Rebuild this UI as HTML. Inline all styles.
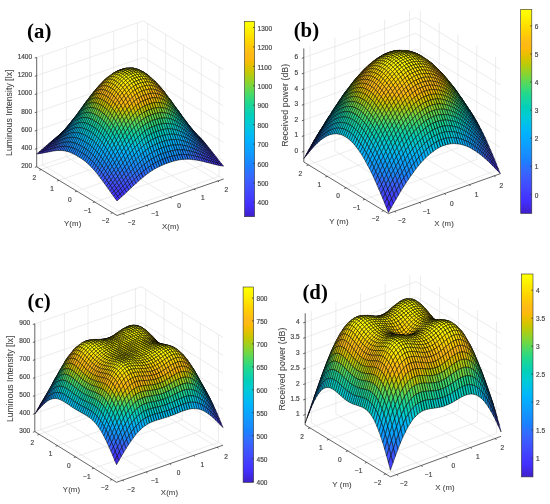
<!DOCTYPE html>
<html><head><meta charset="utf-8"><title>Surface plots</title><style>
html,body{margin:0;padding:0;background:#fff;overflow:hidden}
svg{display:block;filter:blur(0.35px)}
.gr{fill:none;stroke:#dcdcdc;stroke-width:0.55}
.ax{fill:none;stroke:#333;stroke-width:0.75}
.sf{stroke:#000;stroke-width:5.00;stroke-linejoin:round}
.cbx{stroke:#333;stroke-width:.6}
text{font-family:"Liberation Sans",Arial,Helvetica,sans-serif;fill:#444;stroke:#444;stroke-width:0.18}
.t{font-size:6.5px}
.l{font-size:7.8px;letter-spacing:.1px;stroke-width:.08px}
.e{text-anchor:end}
.m{text-anchor:middle}
.tag{font-family:"Liberation Serif","Times New Roman",serif;font-weight:bold;font-size:20.8px;fill:#000;stroke:none}
.k0{fill:#3e20c9}.k1{fill:#4023d7}.k2{fill:#4128e4}.k3{fill:#422cf2}.k4{fill:#4330fe}.k5{fill:#4335ff}.k6{fill:#433bff}.k7{fill:#4241ff}.k8{fill:#4148ff}.k9{fill:#404eff}.k10{fill:#3e54ff}.k11{fill:#3c5aff}.k12{fill:#3961ff}.k13{fill:#3568ff}.k14{fill:#2f6fff}.k15{fill:#2776ff}.k16{fill:#1e7eff}.k17{fill:#1985ff}.k18{fill:#178bff}.k19{fill:#1591ff}.k20{fill:#1297ff}.k21{fill:#0d9eff}.k22{fill:#0aa3ff}.k23{fill:#07a9ff}.k24{fill:#02afff}.k25{fill:#00b4fb}.k26{fill:#00b9f5}.k27{fill:#00beee}.k28{fill:#00c3e7}.k29{fill:#00c7df}.k30{fill:#00cbd6}.k31{fill:#00cdcc}.k32{fill:#00cfc2}.k33{fill:#03d0b8}.k34{fill:#0dd2ad}.k35{fill:#14d4a3}.k36{fill:#1ad797}.k37{fill:#24d88b}.k38{fill:#31d97d}.k39{fill:#41da6f}.k40{fill:#51d960}.k41{fill:#62d850}.k42{fill:#75d741}.k43{fill:#87d432}.k44{fill:#99d123}.k45{fill:#aace16}.k46{fill:#bbca0b}.k47{fill:#cbc701}.k48{fill:#dac300}.k49{fill:#e8bf00}.k50{fill:#f4bc04}.k51{fill:#ffba0e}.k52{fill:#ffb916}.k53{fill:#ffbc14}.k54{fill:#ffc30e}.k55{fill:#ffca07}.k56{fill:#ffd102}.k57{fill:#ffd800}.k58{fill:#ffe000}.k59{fill:#ffe700}.k60{fill:#feef00}.k61{fill:#fef600}.k62{fill:#fffc00}.k63{fill:#ffff00}</style></head>
<body><svg width="550" height="504" viewBox="0 0 550 504"><defs><linearGradient id="pg" x1="0" y1="1" x2="0" y2="0"><stop offset="0.0000" stop-color="#3e20c9"/><stop offset="0.0159" stop-color="#4023d7"/><stop offset="0.0317" stop-color="#4128e4"/><stop offset="0.0476" stop-color="#422cf2"/><stop offset="0.0635" stop-color="#4330fe"/><stop offset="0.0794" stop-color="#4335ff"/><stop offset="0.0952" stop-color="#433bff"/><stop offset="0.1111" stop-color="#4241ff"/><stop offset="0.1270" stop-color="#4148ff"/><stop offset="0.1429" stop-color="#404eff"/><stop offset="0.1587" stop-color="#3e54ff"/><stop offset="0.1746" stop-color="#3c5aff"/><stop offset="0.1905" stop-color="#3961ff"/><stop offset="0.2063" stop-color="#3568ff"/><stop offset="0.2222" stop-color="#2f6fff"/><stop offset="0.2381" stop-color="#2776ff"/><stop offset="0.2540" stop-color="#1e7eff"/><stop offset="0.2698" stop-color="#1985ff"/><stop offset="0.2857" stop-color="#178bff"/><stop offset="0.3016" stop-color="#1591ff"/><stop offset="0.3175" stop-color="#1297ff"/><stop offset="0.3333" stop-color="#0d9eff"/><stop offset="0.3492" stop-color="#0aa3ff"/><stop offset="0.3651" stop-color="#07a9ff"/><stop offset="0.3810" stop-color="#02afff"/><stop offset="0.3968" stop-color="#00b4fb"/><stop offset="0.4127" stop-color="#00b9f5"/><stop offset="0.4286" stop-color="#00beee"/><stop offset="0.4444" stop-color="#00c3e7"/><stop offset="0.4603" stop-color="#00c7df"/><stop offset="0.4762" stop-color="#00cbd6"/><stop offset="0.4921" stop-color="#00cdcc"/><stop offset="0.5079" stop-color="#00cfc2"/><stop offset="0.5238" stop-color="#03d0b8"/><stop offset="0.5397" stop-color="#0dd2ad"/><stop offset="0.5556" stop-color="#14d4a3"/><stop offset="0.5714" stop-color="#1ad797"/><stop offset="0.5873" stop-color="#24d88b"/><stop offset="0.6032" stop-color="#31d97d"/><stop offset="0.6190" stop-color="#41da6f"/><stop offset="0.6349" stop-color="#51d960"/><stop offset="0.6508" stop-color="#62d850"/><stop offset="0.6667" stop-color="#75d741"/><stop offset="0.6825" stop-color="#87d432"/><stop offset="0.6984" stop-color="#99d123"/><stop offset="0.7143" stop-color="#aace16"/><stop offset="0.7302" stop-color="#bbca0b"/><stop offset="0.7460" stop-color="#cbc701"/><stop offset="0.7619" stop-color="#dac300"/><stop offset="0.7778" stop-color="#e8bf00"/><stop offset="0.7937" stop-color="#f4bc04"/><stop offset="0.8095" stop-color="#ffba0e"/><stop offset="0.8254" stop-color="#ffb916"/><stop offset="0.8413" stop-color="#ffbc14"/><stop offset="0.8571" stop-color="#ffc30e"/><stop offset="0.8730" stop-color="#ffca07"/><stop offset="0.8889" stop-color="#ffd102"/><stop offset="0.9048" stop-color="#ffd800"/><stop offset="0.9206" stop-color="#ffe000"/><stop offset="0.9365" stop-color="#ffe700"/><stop offset="0.9524" stop-color="#feef00"/><stop offset="0.9683" stop-color="#fef600"/><stop offset="0.9841" stop-color="#fffc00"/><stop offset="1.0000" stop-color="#ffff00"/></linearGradient></defs><rect width="550" height="504" fill="#fff"/>
<path class="gr" d="M122.9 213.5L42.6 164.8M112.5 212.8L219.1 176.3M42.6 164.8L42.6 55.4M219.1 176.3L219.1 66.9M146.6 205.4L66.3 156.7M94.7 202.0L201.3 165.5M66.3 156.7L66.3 47.3M201.3 165.5L201.3 56.1M170.3 197.2L90.0 148.6M76.8 191.2L183.4 154.7M90.0 148.6L90.0 39.2M183.4 154.7L183.4 45.2M194.0 189.1L113.7 140.4M59.0 180.3L165.6 143.8M113.7 140.4L113.7 31.0M165.6 143.8L165.6 34.4M217.7 181.0L137.4 132.3M41.2 169.5L147.8 133.0M137.4 132.3L137.4 22.9M147.8 133.0L147.8 23.6M36.7 166.8L143.3 130.3M223.6 179.0L143.3 130.3M36.7 148.6L143.3 112.1M223.6 160.8L143.3 112.1M36.7 130.3L143.3 93.8M223.6 142.5L143.3 93.8M36.7 112.1L143.3 75.6M223.6 124.3L143.3 75.6M36.7 93.9L143.3 57.4M223.6 106.1L143.3 57.4M36.7 75.6L143.3 39.1M223.6 87.8L143.3 39.1M36.7 57.4L143.3 20.9M223.6 69.6L143.3 20.9"/>
<path class="ax" d="M117.0 215.5L223.6 179.0M117.0 215.5L36.7 166.8M36.7 166.8L36.7 57.4M122.9 213.5L124.3 214.3M112.5 212.8L110.6 213.4M146.6 205.4L148.0 206.2M94.7 202.0L92.8 202.6M170.3 197.2L171.7 198.1M76.8 191.2L75.0 191.8M194.0 189.1L195.4 190.0M59.0 180.3L57.1 181.0M217.7 181.0L219.1 181.9M41.2 169.5L39.3 170.2M36.7 166.8L34.8 167.4M36.7 148.6L34.8 149.2M36.7 130.3L34.8 131.0M36.7 112.1L34.8 112.7M36.7 93.9L34.8 94.5M36.7 75.6L34.8 76.3M36.7 57.4L34.8 58.0"/>
<g transform="scale(.1)"><g class="sf"><path class="k8" d="M551 1386l23-22-17 14-24 20z"/><path class="k7" d="M527 1407l24-21-18 12-24 20z"/><path class="k6" d="M503 1429l24-22-18 11-24 20z"/><path class="k5" d="M480 1451l23-22-18 9-23 21z"/><path class="k4" d="M456 1473l24-22-18 8-24 20z"/><path class="k3" d="M432 1495l24-22-18 6-24 20z"/><path class="k2" d="M409 1516l23-21-18 4-23 20z"/><path class="k1" d="M385 1537l24-21-18 3-24 19z"/><path class="k9" d="M569 1372l23-23-18 15-23 22z"/><path class="k8" d="M545 1396l24-24-18 14-24 21z"/><path class="k7" d="M521 1419l24-23-18 11-24 22z"/><path class="k6" d="M497 1443l24-24-18 10-23 22z"/><path class="k5" d="M474 1466l23-23-17 8-24 22z"/><path class="k4" d="M450 1490l24-24-18 7-24 22z"/><path class="k3" d="M426 1512l24-22-18 5-23 21z"/><path class="k2" d="M403 1535l23-23-17 4-24 21z"/><path class="k12" d="M610 1333l24-25-18 19-24 22z"/><path class="k11" d="M586 1357l24-24-18 16-23 23z"/><path class="k10" d="M563 1383l23-26-17 15-24 24z"/><path class="k9" d="M539 1408l24-25-18 13-24 23z"/><path class="k8" d="M515 1434l24-26-18 11-24 24z"/><path class="k7" d="M492 1459l23-25-18 9-23 23z"/><path class="k5" d="M468 1484l24-25-18 7-24 24z"/><path class="k4" d="M444 1508l24-24-18 6-24 22z"/><path class="k3" d="M421 1532l23-24-18 4-23 23z"/><path class="k13" d="M604 1342l24-27-18 18-24 24z"/><path class="k12" d="M581 1369l23-27-18 15-23 26z"/><path class="k10" d="M557 1396l24-27-18 14-24 25z"/><path class="k9" d="M533 1423l24-27-18 12-24 26z"/><path class="k8" d="M509 1451l24-28-18 11-23 25z"/><path class="k7" d="M486 1477l23-26-17 8-24 25z"/><path class="k5" d="M462 1503l24-26-18 7-24 24z"/><path class="k4" d="M438 1529l24-26-18 5-23 24z"/><path class="k16" d="M646 1296l23-27-17 20-24 26z"/><path class="k15" d="M622 1325l24-29-18 19-24 27z"/><path class="k14" d="M598 1354l24-29-18 17-23 27z"/><path class="k12" d="M575 1384l23-30-17 15-24 27z"/><path class="k11" d="M551 1413l24-29-18 12-24 27z"/><path class="k9" d="M527 1442l24-29-18 10-24 28z"/><path class="k8" d="M504 1470l23-28-18 9-23 26z"/><path class="k7" d="M480 1498l24-28-18 7-24 26z"/><path class="k5" d="M456 1525l24-27-18 5-24 26z"/><path class="k18" d="M664 1277l23-29-18 21-23 27z"/><path class="k17" d="M640 1308l24-31-18 19-24 29z"/><path class="k15" d="M616 1339l24-31-18 17-24 29z"/><path class="k14" d="M593 1371l23-32-18 15-23 30z"/><path class="k12" d="M569 1402l24-31-18 13-24 29z"/><path class="k11" d="M545 1433l24-31-18 11-24 29z"/><path class="k9" d="M521 1463l24-30-18 9-23 28z"/><path class="k8" d="M498 1493l23-30-17 7-24 28z"/><path class="k6" d="M474 1522l24-29-18 5-24 27z"/><path class="k22" d="M705 1226l24-30-18 23-24 29z"/><path class="k21" d="M681 1258l24-32-18 22-23 29z"/><path class="k19" d="M658 1291l23-33-17 19-24 31z"/><path class="k17" d="M634 1324l24-33-18 17-24 31z"/><path class="k16" d="M610 1357l24-33-18 15-23 32z"/><path class="k14" d="M587 1391l23-34-17 14-24 31z"/><path class="k12" d="M563 1424l24-33-18 11-24 31z"/><path class="k11" d="M539 1456l24-32-18 9-24 30z"/><path class="k9" d="M516 1488l23-32-18 7-23 30z"/><path class="k7" d="M492 1518l24-30-18 5-24 29z"/><path class="k24" d="M723 1205l24-32-18 23-24 30z"/><path class="k23" d="M699 1239l24-34-18 21-24 32z"/><path class="k21" d="M676 1274l23-35-18 19-23 33z"/><path class="k19" d="M652 1309l24-35-18 17-24 33z"/><path class="k17" d="M628 1344l24-35-18 15-24 33z"/><path class="k16" d="M605 1380l23-36-18 13-23 34z"/><path class="k14" d="M581 1415l24-35-18 11-24 33z"/><path class="k12" d="M557 1449l24-34-18 9-24 32z"/><path class="k10" d="M533 1482l24-33-18 7-23 32z"/><path class="k9" d="M510 1515l23-33-17 6-24 30z"/><path class="k27" d="M741 1184l23-34-17 23-24 32z"/><path class="k25" d="M717 1220l24-36-18 21-24 34z"/><path class="k23" d="M693 1257l24-37-18 19-23 35z"/><path class="k21" d="M670 1294l23-37-17 17-24 35z"/><path class="k19" d="M646 1332l24-38-18 15-24 35z"/><path class="k17" d="M622 1369l24-37-18 12-23 36z"/><path class="k15" d="M599 1406l23-37-17 11-24 35z"/><path class="k13" d="M575 1442l24-36-18 9-24 34z"/><path class="k11" d="M551 1477l24-35-18 7-24 33z"/><path class="k10" d="M528 1511l23-34-18 5-23 33z"/><path class="k31" d="M782 1128l24-35-18 24-24 33z"/><path class="k29" d="M759 1164l23-36-18 22-23 34z"/><path class="k27" d="M735 1202l24-38-18 20-24 36z"/><path class="k25" d="M711 1241l24-39-18 18-24 37z"/><path class="k23" d="M688 1280l23-39-18 16-23 37z"/><path class="k21" d="M664 1320l24-40-18 14-24 38z"/><path class="k19" d="M640 1359l24-39-18 12-24 37z"/><path class="k17" d="M617 1398l23-39-18 10-23 37z"/><path class="k15" d="M593 1436l24-38-18 8-24 36z"/><path class="k13" d="M569 1473l24-37-18 6-24 35z"/><path class="k11" d="M545 1509l24-36-18 4-23 34z"/><path class="k37" d="M848 1036l23-32-18 26-23 30z"/><path class="k35" d="M824 1071l24-35-18 24-24 33z"/><path class="k33" d="M800 1107l24-36-18 22-24 35z"/><path class="k31" d="M776 1146l24-39-18 21-23 36z"/><path class="k29" d="M753 1185l23-39-17 18-24 38z"/><path class="k27" d="M729 1226l24-41-18 17-24 39z"/><path class="k25" d="M705 1267l24-41-18 15-23 39z"/><path class="k22" d="M682 1309l23-42-17 13-24 40z"/><path class="k20" d="M658 1350l24-41-18 11-24 39z"/><path class="k18" d="M634 1391l24-41-18 9-23 39z"/><path class="k16" d="M611 1431l23-40-17 7-24 38z"/><path class="k14" d="M587 1469l24-38-18 5-24 37z"/><path class="k12" d="M563 1506l24-37-18 4-24 36z"/><path class="k39" d="M865 1014l24-33-18 23-23 32z"/><path class="k37" d="M842 1050l23-36-17 22-24 35z"/><path class="k35" d="M818 1089l24-39-18 21-24 36z"/><path class="k33" d="M794 1129l24-40-18 18-24 39z"/><path class="k31" d="M771 1170l23-41-18 17-23 39z"/><path class="k29" d="M747 1213l24-43-18 15-24 41z"/><path class="k26" d="M723 1256l24-43-18 13-24 41z"/><path class="k24" d="M700 1299l23-43-18 11-23 42z"/><path class="k22" d="M676 1342l24-43-18 10-24 41z"/><path class="k19" d="M652 1384l24-42-18 8-24 41z"/><path class="k17" d="M629 1426l23-42-18 7-23 40z"/><path class="k15" d="M605 1466l24-40-18 5-24 38z"/><path class="k13" d="M581 1505l24-39-18 3-24 37z"/><path class="k43" d="M907 959l24-32-18 23-24 31z"/><path class="k41" d="M883 994l24-35-18 22-24 33z"/><path class="k39" d="M860 1032l23-38-18 20-23 36z"/><path class="k37" d="M836 1072l24-40-18 18-24 39z"/><path class="k35" d="M812 1113l24-41-18 17-24 40z"/><path class="k33" d="M788 1157l24-44-18 16-23 41z"/><path class="k30" d="M765 1201l23-44-17 13-24 43z"/><path class="k28" d="M741 1246l24-45-18 12-24 43z"/><path class="k25" d="M717 1291l24-45-18 10-23 43z"/><path class="k23" d="M694 1335l23-44-17 8-24 43z"/><path class="k20" d="M670 1380l24-45-18 7-24 42z"/><path class="k18" d="M646 1423l24-43-18 4-23 42z"/><path class="k16" d="M623 1464l23-41-17 3-24 40z"/><path class="k13" d="M599 1505l24-41-18 2-24 39z"/><path class="k47" d="M948 907l24-30-18 21-23 29z"/><path class="k45" d="M925 940l23-33-17 20-24 32z"/><path class="k43" d="M901 977l24-37-18 19-24 35z"/><path class="k41" d="M877 1016l24-39-18 17-23 38z"/><path class="k39" d="M854 1057l23-41-17 16-24 40z"/><path class="k37" d="M830 1100l24-43-18 15-24 41z"/><path class="k34" d="M806 1145l24-45-18 13-24 44z"/><path class="k32" d="M783 1191l23-46-18 12-23 44z"/><path class="k29" d="M759 1238l24-47-18 10-24 45z"/><path class="k27" d="M735 1284l24-46-18 8-24 45z"/><path class="k24" d="M712 1330l23-46-18 7-23 44z"/><path class="k22" d="M688 1376l24-46-18 5-24 45z"/><path class="k19" d="M664 1421l24-45-18 4-24 43z"/><path class="k17" d="M641 1464l23-43-18 2-23 41z"/><path class="k14" d="M617 1505l24-41-18 0-24 41z"/><path class="k50" d="M990 859l24-28-18 19-24 27z"/><path class="k49" d="M966 890l24-31-18 18-24 30z"/><path class="k47" d="M943 924l23-34-18 17-23 33z"/><path class="k45" d="M919 962l24-38-18 16-24 37z"/><path class="k43" d="M895 1002l24-40-18 15-24 39z"/><path class="k41" d="M872 1045l23-43-18 14-23 41z"/><path class="k39" d="M848 1090l24-45-18 12-24 43z"/><path class="k36" d="M824 1136l24-46-18 10-24 45z"/><path class="k33" d="M800 1183l24-47-18 9-23 46z"/><path class="k31" d="M777 1231l23-48-17 8-24 47z"/><path class="k28" d="M753 1279l24-48-18 7-24 46z"/><path class="k25" d="M729 1327l24-48-18 5-23 46z"/><path class="k23" d="M706 1374l23-47-17 3-24 46z"/><path class="k20" d="M682 1420l24-46-18 2-24 45z"/><path class="k17" d="M658 1464l24-44-18 1-23 43z"/><path class="k15" d="M635 1507l23-43-17 0-24 41z"/><path class="k55" d="M1055 791l24-21-18 17-24 20z"/><path class="k54" d="M1032 815l23-24-18 16-23 24z"/><path class="k52" d="M1008 844l24-29-18 16-24 28z"/><path class="k51" d="M984 876l24-32-18 15-24 31z"/><path class="k49" d="M960 911l24-35-18 14-23 34z"/><path class="k47" d="M937 950l23-39-17 13-24 38z"/><path class="k45" d="M913 992l24-42-18 12-24 40z"/><path class="k43" d="M889 1036l24-44-18 10-23 43z"/><path class="k40" d="M866 1082l23-46-17 9-24 45z"/><path class="k37" d="M842 1130l24-48-18 8-24 46z"/><path class="k35" d="M818 1178l24-48-18 6-24 47z"/><path class="k32" d="M795 1227l23-49-18 5-23 48z"/><path class="k29" d="M771 1277l24-50-18 4-24 48z"/><path class="k26" d="M747 1326l24-49-18 2-24 48z"/><path class="k23" d="M724 1374l23-48-18 1-23 47z"/><path class="k21" d="M700 1421l24-47-18 0-24 46z"/><path class="k18" d="M676 1466l24-45-18-1-24 44z"/><path class="k16" d="M653 1510l23-44-18-2-23 43z"/><path class="k56" d="M1073 778l24-21-18 13-24 21z"/><path class="k55" d="M1049 804l24-26-18 13-23 24z"/><path class="k54" d="M1026 833l23-29-17 11-24 29z"/><path class="k53" d="M1002 866l24-33-18 11-24 32z"/><path class="k51" d="M978 902l24-36-18 10-24 35z"/><path class="k49" d="M955 942l23-40-18 9-23 39z"/><path class="k46" d="M931 985l24-43-18 8-24 42z"/><path class="k44" d="M907 1030l24-45-18 7-24 44z"/><path class="k41" d="M884 1077l23-47-18 6-23 46z"/><path class="k39" d="M860 1126l24-49-18 5-24 48z"/><path class="k36" d="M836 1175l24-49-18 4-24 48z"/><path class="k33" d="M812 1226l24-51-18 3-23 49z"/><path class="k30" d="M789 1276l23-50-17 1-24 50z"/><path class="k27" d="M765 1326l24-50-18 1-24 49z"/><path class="k24" d="M741 1375l24-49-18 0-23 48z"/><path class="k21" d="M718 1423l23-48-17-1-24 47z"/><path class="k19" d="M694 1469l24-46-18-2-24 45z"/><path class="k16" d="M670 1514l24-45-18-3-23 44z"/><path class="k60" d="M1209 697l24-7-18 10-23 7zM1186 705l23-8-17 10-24 8zM1162 716l24-11-18 10-24 11z"/><path class="k59" d="M1138 730l24-14-18 10-24 14zM1115 748l23-18-18 10-23 17z"/><path class="k58" d="M1091 770l24-22-18 9-24 21z"/><path class="k57" d="M1067 796l24-26-18 8-24 26z"/><path class="k56" d="M1044 825l23-29-18 8-23 29z"/><path class="k54" d="M1020 859l24-34-18 8-24 33z"/><path class="k52" d="M996 896l24-37-18 7-24 36z"/><path class="k50" d="M972 937l24-41-18 6-23 40z"/><path class="k48" d="M949 981l23-44-17 5-24 43z"/><path class="k45" d="M925 1027l24-46-18 4-24 45z"/><path class="k42" d="M901 1075l24-48-18 3-23 47z"/><path class="k39" d="M878 1124l23-49-17 2-24 49z"/><path class="k37" d="M854 1175l24-51-18 2-24 49z"/><path class="k34" d="M830 1226l24-51-18 0-24 51z"/><path class="k31" d="M807 1277l23-51-18 0-23 50z"/><path class="k28" d="M783 1328l24-51-18-1-24 50z"/><path class="k25" d="M759 1378l24-50-18-2-24 49z"/><path class="k22" d="M736 1427l23-49-18-3-23 48z"/><path class="k19" d="M712 1474l24-47-18-4-24 46z"/><path class="k17" d="M688 1519l24-45-18-5-24 45z"/><path class="k61" d="M1227 691l24-7-18 6-24 7zM1204 699l23-8-18 6-23 8zM1180 710l24-11-18 6-24 11zM1156 725l24-15-18 6-24 14z"/><path class="k60" d="M1132 743l24-18-18 5-23 18z"/><path class="k59" d="M1109 765l23-22-17 5-24 22z"/><path class="k58" d="M1085 792l24-27-18 5-24 26z"/><path class="k57" d="M1061 822l24-30-18 4-23 29z"/><path class="k55" d="M1038 856l23-34-17 3-24 34z"/><path class="k53" d="M1014 894l24-38-18 3-24 37z"/><path class="k51" d="M990 936l24-42-18 2-24 41z"/><path class="k48" d="M967 980l23-44-18 1-23 44z"/><path class="k46" d="M943 1027l24-47-18 1-24 46z"/><path class="k43" d="M919 1076l24-49-18 0-24 48z"/><path class="k40" d="M896 1126l23-50-18-1-23 49z"/><path class="k37" d="M872 1177l24-51-18-2-24 51z"/><path class="k34" d="M848 1229l24-52-18-2-24 51z"/><path class="k31" d="M824 1281l24-52-18-3-23 51z"/><path class="k28" d="M801 1332l23-51-17-4-24 51z"/><path class="k25" d="M777 1383l24-51-18-4-24 50z"/><path class="k22" d="M753 1432l24-49-18-5-23 49z"/><path class="k20" d="M730 1480l23-48-17-5-24 47z"/><path class="k17" d="M706 1526l24-46-18-6-24 45z"/><path class="k62" d="M1269 682l23-3-17 1-24 4zM1245 689l24-7-18 2-24 7zM1221 697l24-8-18 2-23 8zM1198 709l23-12-17 2-24 11zM1174 723l24-14-18 1-24 15z"/><path class="k61" d="M1150 742l24-19-18 2-24 18z"/><path class="k60" d="M1127 765l23-23-18 1-23 22z"/><path class="k59" d="M1103 792l24-27-18 0-24 27z"/><path class="k58" d="M1079 822l24-30-18 0-24 30z"/><path class="k56" d="M1056 857l23-35-18 0-23 34z"/><path class="k54" d="M1032 896l24-39-18-1-24 38z"/><path class="k52" d="M1008 938l24-42-18-2-24 42z"/><path class="k49" d="M984 982l24-44-18-2-23 44z"/><path class="k47" d="M961 1030l23-48-17-2-24 47z"/><path class="k44" d="M937 1079l24-49-18-3-24 49z"/><path class="k41" d="M913 1130l24-51-18-3-23 50z"/><path class="k38" d="M890 1182l23-52-17-4-24 51z"/><path class="k35" d="M866 1234l24-52-18-5-24 52z"/><path class="k32" d="M842 1287l24-53-18-5-24 52z"/><path class="k29" d="M819 1339l23-52-18-6-23 51z"/><path class="k26" d="M795 1390l24-51-18-7-24 51z"/><path class="k23" d="M771 1439l24-49-18-7-24 49z"/><path class="k20" d="M748 1487l23-48-18-7-23 48z"/><path class="k17" d="M724 1534l24-47-18-7-24 46z"/><path class="k61" d="M1334 682l24 5-18-4-24-4z"/><path class="k62" d="M1310 681l24 1-18-3-24 0zM1287 685l23-4-18-2-23 3z"/><path class="k63" d="M1263 691l24-6-18-3-24 7zM1239 700l24-9-18-2-24 8zM1216 711l23-11-18-3-23 12z"/><path class="k62" d="M1192 726l24-15-18-2-24 14zM1168 745l24-19-18-3-24 19z"/><path class="k61" d="M1144 768l24-23-18-3-23 23z"/><path class="k60" d="M1121 795l23-27-17-3-24 27z"/><path class="k58" d="M1097 827l24-32-18-3-24 30z"/><path class="k56" d="M1073 862l24-35-18-5-23 35z"/><path class="k54" d="M1050 901l23-39-17-5-24 39z"/><path class="k52" d="M1026 943l24-42-18-5-24 42z"/><path class="k50" d="M1002 988l24-45-18-5-24 44z"/><path class="k47" d="M979 1035l23-47-18-6-23 48z"/><path class="k44" d="M955 1085l24-50-18-5-24 49z"/><path class="k41" d="M931 1136l24-51-18-6-24 51z"/><path class="k38" d="M908 1189l23-53-18-6-23 52z"/><path class="k35" d="M884 1241l24-52-18-7-24 52z"/><path class="k32" d="M860 1294l24-53-18-7-24 53z"/><path class="k29" d="M836 1346l24-52-18-7-23 52z"/><path class="k26" d="M813 1398l23-52-17-7-24 51z"/><path class="k23" d="M789 1448l24-50-18-8-24 49z"/><path class="k20" d="M765 1496l24-48-18-9-23 48z"/><path class="k17" d="M742 1542l23-46-17-9-24 47z"/><path class="k61" d="M1375 693l24 9-18-7-23-8z"/><path class="k62" d="M1352 688l23 5-17-6-24-5zM1328 688l24 0-18-6-24-1z"/><path class="k63" d="M1304 691l24-3-18-7-23 4zM1281 697l23-6-17-6-24 6zM1257 706l24-9-18-6-24 9zM1233 717l24-11-18-6-23 11zM1210 733l23-16-17-6-24 15z"/><path class="k62" d="M1186 752l24-19-18-7-24 19z"/><path class="k61" d="M1162 775l24-23-18-7-24 23z"/><path class="k60" d="M1139 802l23-27-18-7-23 27z"/><path class="k59" d="M1115 834l24-32-18-7-24 32z"/><path class="k57" d="M1091 869l24-35-18-7-24 35z"/><path class="k55" d="M1068 908l23-39-18-7-23 39z"/><path class="k52" d="M1044 951l24-43-18-7-24 42z"/><path class="k50" d="M1020 996l24-45-18-8-24 45z"/><path class="k47" d="M996 1044l24-48-18-8-23 47z"/><path class="k44" d="M973 1093l23-49-17-9-24 50z"/><path class="k42" d="M949 1145l24-52-18-8-24 51z"/><path class="k38" d="M925 1197l24-52-18-9-23 53z"/><path class="k35" d="M902 1250l23-53-17-8-24 52z"/><path class="k32" d="M878 1303l24-53-18-9-24 53z"/><path class="k29" d="M854 1355l24-52-18-9-24 52z"/><path class="k26" d="M831 1407l23-52-18-9-23 52z"/><path class="k23" d="M807 1457l24-50-18-9-24 50z"/><path class="k20" d="M783 1506l24-49-18-9-24 48z"/><path class="k17" d="M760 1552l23-46-18-10-23 46z"/><path class="k58" d="M1441 725l23 17-17-10-24-17z"/><path class="k60" d="M1417 712l24 13-18-10-24-13z"/><path class="k61" d="M1393 703l24 9-18-10-24-9z"/><path class="k62" d="M1370 698l23 5-18-10-23-5z"/><path class="k63" d="M1346 697l24 1-18-10-24 0zM1322 700l24-3-18-9-24 3zM1299 706l23-6-18-9-23 6zM1275 715l24-9-18-9-24 9zM1251 727l24-12-18-9-24 11zM1228 742l23-15-18-10-23 16z"/><path class="k62" d="M1204 761l24-19-18-9-24 19z"/><path class="k61" d="M1180 785l24-24-18-9-24 23z"/><path class="k60" d="M1156 812l24-27-18-10-23 27z"/><path class="k59" d="M1133 844l23-32-17-10-24 32z"/><path class="k57" d="M1109 879l24-35-18-10-24 35z"/><path class="k55" d="M1085 918l24-39-18-10-23 39z"/><path class="k53" d="M1062 961l23-43-17-10-24 43z"/><path class="k50" d="M1038 1006l24-45-18-10-24 45z"/><path class="k47" d="M1014 1054l24-48-18-10-24 48z"/><path class="k45" d="M991 1104l23-50-18-10-23 49z"/><path class="k42" d="M967 1155l24-51-18-11-24 52z"/><path class="k39" d="M943 1207l24-52-18-10-24 52z"/><path class="k35" d="M920 1260l23-53-18-10-23 53z"/><path class="k32" d="M896 1313l24-53-18-10-24 53z"/><path class="k29" d="M872 1366l24-53-18-10-24 52z"/><path class="k26" d="M848 1417l24-51-18-11-23 52z"/><path class="k23" d="M825 1468l23-51-17-10-24 50z"/><path class="k20" d="M801 1516l24-48-18-11-24 49z"/><path class="k18" d="M777 1563l24-47-18-10-23 46z"/><path class="k58" d="M1459 737l23 17-18-12-23-17z"/><path class="k60" d="M1435 723l24 14-18-12-24-13z"/><path class="k61" d="M1411 714l24 9-18-11-24-9z"/><path class="k62" d="M1387 710l24 4-18-11-23-5z"/><path class="k63" d="M1364 709l23 1-17-12-24-1zM1340 712l24-3-18-12-24 3zM1316 718l24-6-18-12-23 6zM1293 727l23-9-17-12-24 9zM1269 738l24-11-18-12-24 12zM1245 754l24-16-18-11-23 15z"/><path class="k62" d="M1222 773l23-19-17-12-24 19z"/><path class="k61" d="M1198 796l24-23-18-12-24 24z"/><path class="k60" d="M1174 824l24-28-18-11-24 27z"/><path class="k59" d="M1151 855l23-31-18-12-23 32z"/><path class="k57" d="M1127 890l24-35-18-11-24 35z"/><path class="k55" d="M1103 929l24-39-18-11-24 39z"/><path class="k53" d="M1080 972l23-43-18-11-23 43z"/><path class="k50" d="M1056 1017l24-45-18-11-24 45z"/><path class="k47" d="M1032 1065l24-48-18-11-24 48z"/><path class="k45" d="M1008 1115l24-50-18-11-23 50z"/><path class="k42" d="M985 1166l23-51-17-11-24 51z"/><path class="k39" d="M961 1219l24-53-18-11-24 52z"/><path class="k35" d="M937 1272l24-53-18-12-23 53z"/><path class="k32" d="M914 1324l23-52-17-12-24 53z"/><path class="k29" d="M890 1377l24-53-18-11-24 53z"/><path class="k26" d="M866 1428l24-51-18-11-24 51z"/><path class="k23" d="M843 1479l23-51-18-11-23 51z"/><path class="k20" d="M819 1527l24-48-18-11-24 48z"/><path class="k18" d="M795 1574l24-47-18-11-24 47z"/><path class="k58" d="M1476 750l24 17-18-13-23-17z"/><path class="k59" d="M1453 737l23 13-17-13-24-14z"/><path class="k61" d="M1429 728l24 9-18-14-24-9z"/><path class="k62" d="M1405 724l24 4-18-14-24-4z"/><path class="k63" d="M1382 723l23 1-18-14-23-1zM1358 726l24-3-18-14-24 3zM1334 733l24-7-18-14-24 6zM1311 741l23-8-18-15-23 9zM1287 753l24-12-18-14-24 11zM1263 768l24-15-18-15-24 16z"/><path class="k62" d="M1240 787l23-19-18-14-23 19z"/><path class="k61" d="M1216 810l24-23-18-14-24 23z"/><path class="k60" d="M1192 837l24-27-18-14-24 28z"/><path class="k59" d="M1168 869l24-32-18-13-23 31z"/><path class="k57" d="M1145 904l23-35-17-14-24 35z"/><path class="k55" d="M1121 943l24-39-18-14-24 39z"/><path class="k53" d="M1097 985l24-42-18-14-23 43z"/><path class="k50" d="M1074 1030l23-45-17-13-24 45z"/><path class="k47" d="M1050 1078l24-48-18-13-24 48z"/><path class="k45" d="M1026 1128l24-50-18-13-24 50z"/><path class="k42" d="M1003 1179l23-51-18-13-23 51z"/><path class="k38" d="M979 1231l24-52-18-13-24 53z"/><path class="k35" d="M955 1284l24-53-18-12-24 53z"/><path class="k32" d="M932 1337l23-53-18-12-23 52z"/><path class="k29" d="M908 1389l24-52-18-13-24 53z"/><path class="k26" d="M884 1440l24-51-18-12-24 51z"/><path class="k23" d="M860 1490l24-50-18-12-23 51z"/><path class="k20" d="M837 1539l23-49-17-11-24 48z"/><path class="k18" d="M813 1585l24-46-18-12-24 47z"/><path class="k57" d="M1494 767l24 17-18-17-24-17z"/><path class="k59" d="M1471 754l23 13-18-17-23-13z"/><path class="k60" d="M1447 746l24 8-18-17-24-9z"/><path class="k61" d="M1423 741l24 5-18-18-24-4z"/><path class="k62" d="M1399 741l24 0-18-17-23-1z"/><path class="k63" d="M1376 745l23-4-17-18-24 3zM1352 751l24-6-18-19-24 7zM1328 760l24-9-18-18-23 8zM1305 771l23-11-17-19-24 12z"/><path class="k62" d="M1281 786l24-15-18-18-24 15zM1257 804l24-18-18-18-23 19z"/><path class="k61" d="M1234 827l23-23-17-17-24 23z"/><path class="k60" d="M1210 854l24-27-18-17-24 27z"/><path class="k58" d="M1186 885l24-31-18-17-24 32z"/><path class="k57" d="M1163 920l23-35-18-16-23 35z"/><path class="k55" d="M1139 959l24-39-18-16-24 39z"/><path class="k52" d="M1115 1001l24-42-18-16-24 42z"/><path class="k50" d="M1092 1046l23-45-18-16-23 45z"/><path class="k47" d="M1068 1093l24-47-18-16-24 48z"/><path class="k44" d="M1044 1142l24-49-18-15-24 50z"/><path class="k41" d="M1020 1193l24-51-18-14-23 51z"/><path class="k38" d="M997 1245l23-52-17-14-24 52z"/><path class="k35" d="M973 1298l24-53-18-14-24 53z"/><path class="k32" d="M949 1350l24-52-18-14-23 53z"/><path class="k29" d="M926 1402l23-52-17-13-24 52z"/><path class="k26" d="M902 1454l24-52-18-13-24 51z"/><path class="k23" d="M878 1503l24-49-18-14-24 50z"/><path class="k20" d="M855 1552l23-49-18-13-23 49z"/><path class="k17" d="M831 1598l24-46-18-13-24 46z"/><path class="k53" d="M1559 824l24 23-18-19-23-24z"/><path class="k55" d="M1536 804l23 20-17-20-24-20z"/><path class="k57" d="M1512 787l24 17-18-20-24-17z"/><path class="k59" d="M1488 775l24 12-18-20-23-13z"/><path class="k60" d="M1465 767l23 8-17-21-24-8z"/><path class="k61" d="M1441 763l24 4-18-21-24-5z"/><path class="k62" d="M1417 763l24 0-18-22-24 0zM1394 767l23-4-18-22-23 4zM1370 774l24-7-18-22-24 6zM1346 782l24-8-18-23-24 9zM1323 793l23-11-18-22-23 11zM1299 808l24-15-18-22-24 15z"/><path class="k61" d="M1275 826l24-18-18-22-24 18z"/><path class="k60" d="M1252 848l23-22-18-22-23 23z"/><path class="k59" d="M1228 875l24-27-18-21-24 27z"/><path class="k58" d="M1204 905l24-30-18-21-24 31z"/><path class="k56" d="M1180 940l24-35-18-20-23 35z"/><path class="k54" d="M1157 978l23-38-17-20-24 39z"/><path class="k52" d="M1133 1020l24-42-18-19-24 42z"/><path class="k49" d="M1109 1064l24-44-18-19-23 45z"/><path class="k47" d="M1086 1111l23-47-17-18-24 47z"/><path class="k44" d="M1062 1160l24-49-18-18-24 49z"/><path class="k41" d="M1038 1210l24-50-18-18-24 51z"/><path class="k38" d="M1015 1262l23-52-18-17-23 52z"/><path class="k35" d="M991 1314l24-52-18-17-24 53z"/><path class="k32" d="M967 1366l24-52-18-16-24 52z"/><path class="k29" d="M944 1418l23-52-18-16-23 52z"/><path class="k26" d="M920 1468l24-50-18-16-24 52z"/><path class="k23" d="M896 1518l24-50-18-14-24 49z"/><path class="k20" d="M872 1566l24-48-18-15-23 49z"/><path class="k17" d="M849 1611l23-45-17-14-24 46z"/><path class="k47" d="M1625 896l23 28-17-21-24-29z"/><path class="k50" d="M1601 870l24 26-18-22-24-27z"/><path class="k52" d="M1577 847l24 23-18-23-24-23z"/><path class="k54" d="M1554 827l23 20-18-23-23-20z"/><path class="k56" d="M1530 812l24 15-18-23-24-17z"/><path class="k58" d="M1506 800l24 12-18-25-24-12z"/><path class="k59" d="M1483 793l23 7-18-25-23-8z"/><path class="k60" d="M1459 789l24 4-18-26-24-4z"/><path class="k61" d="M1435 789l24 0-18-26-24 0zM1411 793l24-4-18-26-23 4zM1388 800l23-7-17-26-24 7zM1364 809l24-9-18-26-24 8zM1340 819l24-10-18-27-23 11zM1317 834l23-15-17-26-24 15z"/><path class="k60" d="M1293 851l24-17-18-26-24 18z"/><path class="k59" d="M1269 873l24-22-18-25-23 22z"/><path class="k58" d="M1246 899l23-26-17-25-24 27z"/><path class="k57" d="M1222 930l24-31-18-24-24 30z"/><path class="k55" d="M1198 963l24-33-18-25-24 35z"/><path class="k53" d="M1175 1001l23-38-18-23-23 38z"/><path class="k51" d="M1151 1042l24-41-18-23-24 42z"/><path class="k49" d="M1127 1086l24-44-18-22-24 44z"/><path class="k46" d="M1104 1132l23-46-18-22-23 47z"/><path class="k43" d="M1080 1180l24-48-18-21-24 49z"/><path class="k40" d="M1056 1230l24-50-18-20-24 50z"/><path class="k37" d="M1032 1281l24-51-18-20-23 52z"/><path class="k34" d="M1009 1332l23-51-17-19-24 52z"/><path class="k31" d="M985 1384l24-52-18-18-24 52z"/><path class="k28" d="M961 1435l24-51-18-18-23 52z"/><path class="k25" d="M938 1485l23-50-17-17-24 50z"/><path class="k22" d="M914 1534l24-49-18-17-24 50z"/><path class="k20" d="M890 1581l24-47-18-16-24 48z"/><path class="k17" d="M867 1626l23-45-18-15-23 45z"/><path class="k47" d="M1643 921l23 28-18-25-23-28z"/><path class="k49" d="M1619 896l24 25-18-25-24-26z"/><path class="k51" d="M1595 874l24 22-18-26-24-23z"/><path class="k53" d="M1571 855l24 19-18-27-23-20z"/><path class="k55" d="M1548 840l23 15-17-28-24-15z"/><path class="k57" d="M1524 829l24 11-18-28-24-12z"/><path class="k58" d="M1500 822l24 7-18-29-23-7z"/><path class="k59" d="M1477 819l23 3-17-29-24-4zM1453 820l24-1-18-30-24 0z"/><path class="k60" d="M1429 824l24-4-18-31-24 4zM1406 831l23-7-18-31-23 7zM1382 839l24-8-18-31-24 9zM1358 850l24-11-18-30-24 10zM1335 864l23-14-18-31-23 15z"/><path class="k59" d="M1311 881l24-17-18-30-24 17z"/><path class="k58" d="M1287 903l24-22-18-30-24 22z"/><path class="k57" d="M1264 928l23-25-18-30-23 26z"/><path class="k56" d="M1240 957l24-29-18-29-24 31z"/><path class="k54" d="M1216 991l24-34-18-27-24 33z"/><path class="k52" d="M1192 1027l24-36-18-28-23 38z"/><path class="k50" d="M1169 1067l23-40-17-26-24 41z"/><path class="k48" d="M1145 1110l24-43-18-25-24 44z"/><path class="k45" d="M1121 1156l24-46-18-24-23 46z"/><path class="k43" d="M1098 1203l23-47-17-24-24 48z"/><path class="k40" d="M1074 1252l24-49-18-23-24 50z"/><path class="k37" d="M1050 1302l24-50-18-22-24 51z"/><path class="k34" d="M1027 1353l23-51-18-21-23 51z"/><path class="k31" d="M1003 1403l24-50-18-21-24 52z"/><path class="k28" d="M979 1453l24-50-18-19-24 51z"/><path class="k25" d="M956 1503l23-50-18-18-23 50z"/><path class="k22" d="M932 1551l24-48-18-18-24 49z"/><path class="k19" d="M908 1597l24-46-18-17-24 47z"/><path class="k17" d="M884 1642l24-45-18-16-23 45z"/><path class="k40" d="M1708 1005l23 31-17-25-24-32z"/><path class="k43" d="M1684 976l24 29-18-26-24-30z"/><path class="k46" d="M1660 949l24 27-18-27-23-28z"/><path class="k48" d="M1637 925l23 24-17-28-24-25z"/><path class="k50" d="M1613 904l24 21-18-29-24-22z"/><path class="k52" d="M1589 886l24 18-18-30-24-19z"/><path class="k54" d="M1566 872l23 14-18-31-23-15z"/><path class="k55" d="M1542 862l24 10-18-32-24-11z"/><path class="k56" d="M1518 856l24 6-18-33-24-7z"/><path class="k57" d="M1495 853l23 3-18-34-23-3z"/><path class="k58" d="M1471 854l24-1-18-34-24 1zM1447 858l24-4-18-34-24 4zM1423 865l24-7-18-34-23 7z"/><path class="k59" d="M1400 874l23-9-17-34-24 8z"/><path class="k58" d="M1376 884l24-10-18-35-24 11zM1352 898l24-14-18-34-23 14zM1329 915l23-17-17-34-24 17z"/><path class="k57" d="M1305 936l24-21-18-34-24 22z"/><path class="k56" d="M1281 961l24-25-18-33-23 25z"/><path class="k54" d="M1258 989l23-28-17-33-24 29z"/><path class="k53" d="M1234 1021l24-32-18-32-24 34z"/><path class="k51" d="M1210 1057l24-36-18-30-24 36z"/><path class="k49" d="M1187 1096l23-39-18-30-23 40z"/><path class="k47" d="M1163 1138l24-42-18-29-24 43z"/><path class="k44" d="M1139 1183l24-45-18-28-24 46z"/><path class="k42" d="M1116 1229l23-46-18-27-23 47z"/><path class="k39" d="M1092 1277l24-48-18-26-24 49z"/><path class="k36" d="M1068 1326l24-49-18-25-24 50z"/><path class="k33" d="M1044 1375l24-49-18-24-23 51z"/><path class="k30" d="M1021 1425l23-50-17-22-24 50z"/><path class="k27" d="M997 1474l24-49-18-22-24 50z"/><path class="k24" d="M973 1523l24-49-18-21-23 50z"/><path class="k22" d="M950 1570l23-47-17-20-24 48z"/><path class="k19" d="M926 1615l24-45-18-19-24 46z"/><path class="k16" d="M902 1659l24-44-18-18-24 45z"/><path class="k31" d="M1797 1127l23 33-17-25-24-33z"/><path class="k34" d="M1773 1096l24 31-18-25-24-33z"/><path class="k36" d="M1749 1065l24 31-18-27-24-33z"/><path class="k39" d="M1726 1035l23 30-18-29-23-31z"/><path class="k42" d="M1702 1007l24 28-18-30-24-29z"/><path class="k44" d="M1678 981l24 26-18-31-24-27z"/><path class="k47" d="M1655 958l23 23-18-32-23-24z"/><path class="k49" d="M1631 938l24 20-18-33-24-21z"/><path class="k51" d="M1607 921l24 17-18-34-24-18z"/><path class="k52" d="M1583 908l24 13-18-35-23-14z"/><path class="k54" d="M1560 899l23 9-17-36-24-10z"/><path class="k55" d="M1536 893l24 6-18-37-24-6z"/><path class="k56" d="M1512 891l24 2-18-37-23-3zM1489 892l23-1-17-38-24 1z"/><path class="k57" d="M1465 897l24-5-18-38-24 4zM1441 904l24-7-18-39-24 7zM1418 912l23-8-18-39-23 9zM1394 923l24-11-18-38-24 10z"/><path class="k56" d="M1370 936l24-13-18-39-24 14zM1347 953l23-17-18-38-23 17z"/><path class="k55" d="M1323 973l24-20-18-38-24 21z"/><path class="k54" d="M1299 997l24-24-18-37-24 25z"/><path class="k53" d="M1276 1025l23-28-18-36-23 28z"/><path class="k51" d="M1252 1056l24-31-18-36-24 32z"/><path class="k50" d="M1228 1091l24-35-18-35-24 36z"/><path class="k48" d="M1204 1129l24-38-18-34-23 39z"/><path class="k45" d="M1181 1169l23-40-17-33-24 42z"/><path class="k43" d="M1157 1213l24-44-18-31-24 45z"/><path class="k40" d="M1133 1258l24-45-18-30-23 46z"/><path class="k38" d="M1110 1304l23-46-17-29-24 48z"/><path class="k35" d="M1086 1352l24-48-18-27-24 49z"/><path class="k32" d="M1062 1400l24-48-18-26-24 49z"/><path class="k29" d="M1039 1449l23-49-18-25-23 50z"/><path class="k26" d="M1015 1497l24-48-18-24-24 49z"/><path class="k24" d="M991 1544l24-47-18-23-24 49z"/><path class="k21" d="M968 1590l23-46-18-21-23 47z"/><path class="k18" d="M944 1635l24-45-18-20-24 45z"/><path class="k16" d="M920 1678l24-43-18-20-24 44z"/><path class="k19" d="M1909 1276l24 28-18-21-24-29z"/><path class="k24" d="M1862 1217l24 30-18-24-24-31z"/><path class="k27" d="M1838 1186l24 31-18-25-24-32z"/><path class="k30" d="M1815 1155l23 31-18-26-23-33z"/><path class="k32" d="M1791 1125l24 30-18-28-24-31z"/><path class="k35" d="M1767 1095l24 30-18-29-24-31z"/><path class="k38" d="M1743 1067l24 28-18-30-23-30z"/><path class="k40" d="M1720 1041l23 26-17-32-24-28z"/><path class="k43" d="M1696 1016l24 25-18-34-24-26z"/><path class="k45" d="M1672 994l24 22-18-35-23-23z"/><path class="k47" d="M1649 976l23 18-17-36-24-20z"/><path class="k49" d="M1625 960l24 16-18-38-24-17z"/><path class="k50" d="M1601 948l24 12-18-39-24-13z"/><path class="k52" d="M1578 939l23 9-18-40-23-9z"/><path class="k53" d="M1554 934l24 5-18-40-24-6z"/><path class="k54" d="M1530 932l24 2-18-41-24-2zM1507 934l23-2-18-41-23 1zM1483 939l24-5-18-42-24 5z"/><path class="k55" d="M1459 946l24-7-18-42-24 7zM1435 954l24-8-18-42-23 8zM1412 965l23-11-17-42-24 11z"/><path class="k54" d="M1388 978l24-13-18-42-24 13zM1364 994l24-16-18-42-23 17z"/><path class="k53" d="M1341 1014l23-20-17-41-24 20z"/><path class="k52" d="M1317 1037l24-23-18-41-24 24z"/><path class="k51" d="M1293 1064l24-27-18-40-23 28z"/><path class="k50" d="M1270 1094l23-30-17-39-24 31z"/><path class="k48" d="M1246 1128l24-34-18-38-24 35z"/><path class="k46" d="M1222 1164l24-36-18-37-24 38z"/><path class="k44" d="M1199 1204l23-40-18-35-23 40z"/><path class="k41" d="M1175 1246l24-42-18-35-24 44z"/><path class="k39" d="M1151 1289l24-43-18-33-24 45z"/><path class="k36" d="M1128 1334l23-45-18-31-23 46z"/><path class="k34" d="M1104 1381l24-47-18-30-24 48z"/><path class="k31" d="M1080 1428l24-47-18-29-24 48z"/><path class="k28" d="M1056 1475l24-47-18-28-23 49z"/><path class="k25" d="M1033 1521l23-46-17-26-24 48z"/><path class="k23" d="M1009 1567l24-46-18-24-24 47z"/><path class="k20" d="M985 1612l24-45-18-23-23 46z"/><path class="k18" d="M962 1656l23-44-17-22-24 45z"/><path class="k15" d="M938 1697l24-41-18-21-24 43z"/><path class="k11" d="M1998 1376l24 21-18-19-24-22z"/><path class="k13" d="M1974 1352l24 24-18-20-23-25z"/><path class="k16" d="M1951 1327l23 25-17-21-24-27z"/><path class="k18" d="M1927 1300l24 27-18-23-24-28z"/><path class="k21" d="M1903 1273l24 27-18-24-23-29z"/><path class="k23" d="M1880 1244l23 29-17-26-24-30z"/><path class="k26" d="M1856 1215l24 29-18-27-24-31z"/><path class="k28" d="M1832 1186l24 29-18-29-23-31z"/><path class="k31" d="M1809 1157l23 29-17-31-24-30z"/><path class="k34" d="M1785 1129l24 28-18-32-24-30z"/><path class="k36" d="M1761 1102l24 27-18-34-24-28z"/><path class="k39" d="M1738 1077l23 25-18-35-23-26z"/><path class="k41" d="M1714 1054l24 23-18-36-24-25z"/><path class="k43" d="M1690 1034l24 20-18-38-24-22z"/><path class="k45" d="M1667 1016l23 18-18-40-23-18z"/><path class="k47" d="M1643 1002l24 14-18-40-24-16z"/><path class="k48" d="M1619 990l24 12-18-42-24-12z"/><path class="k50" d="M1595 983l24 7-18-42-23-9z"/><path class="k51" d="M1572 978l23 5-17-44-24-5zM1548 977l24 1-18-44-24-2z"/><path class="k52" d="M1524 979l24-2-18-45-23 2zM1501 984l23-5-17-45-24 5zM1477 991l24-7-18-45-24 7zM1453 1000l24-9-18-45-24 8zM1430 1010l23-10-18-46-23 11zM1406 1023l24-13-18-45-24 13zM1382 1038l24-15-18-45-24 16z"/><path class="k51" d="M1359 1057l23-19-18-44-23 20z"/><path class="k50" d="M1335 1080l24-23-18-43-24 23z"/><path class="k49" d="M1311 1106l24-26-18-43-24 27z"/><path class="k47" d="M1288 1135l23-29-18-42-23 30z"/><path class="k46" d="M1264 1167l24-32-18-41-24 34z"/><path class="k44" d="M1240 1203l24-36-18-39-24 36z"/><path class="k42" d="M1216 1241l24-38-18-39-23 40z"/><path class="k40" d="M1193 1281l23-40-17-37-24 42z"/><path class="k37" d="M1169 1323l24-42-18-35-24 43z"/><path class="k35" d="M1145 1367l24-44-18-34-23 45z"/><path class="k32" d="M1122 1412l23-45-17-33-24 47z"/><path class="k30" d="M1098 1457l24-45-18-31-24 47z"/><path class="k27" d="M1074 1502l24-45-18-29-24 47z"/><path class="k24" d="M1051 1548l23-46-18-27-23 46z"/><path class="k22" d="M1027 1592l24-44-18-27-24 46z"/><path class="k19" d="M1003 1636l24-44-18-25-24 45z"/><path class="k17" d="M980 1678l23-42-18-24-23 44z"/><path class="k14" d="M956 1718l24-40-18-22-24 41z"/><path class="k11" d="M2016 1397l24 20-18-20-24-21z"/><path class="k13" d="M1992 1375l24 22-18-21-24-24z"/><path class="k15" d="M1969 1351l23 24-18-23-23-25z"/><path class="k17" d="M1945 1326l24 25-18-24-24-27z"/><path class="k20" d="M1921 1300l24 26-18-26-24-27z"/><path class="k22" d="M1898 1273l23 27-18-27-23-29z"/><path class="k25" d="M1874 1245l24 28-18-29-24-29z"/><path class="k27" d="M1850 1218l24 27-18-30-24-29z"/><path class="k30" d="M1827 1191l23 27-18-32-23-29z"/><path class="k32" d="M1803 1164l24 27-18-34-24-28z"/><path class="k35" d="M1779 1139l24 25-18-35-24-27z"/><path class="k37" d="M1755 1116l24 23-18-37-23-25z"/><path class="k39" d="M1732 1095l23 21-17-39-24-23z"/><path class="k41" d="M1708 1076l24 19-18-41-24-20z"/><path class="k43" d="M1684 1059l24 17-18-42-23-18z"/><path class="k45" d="M1661 1046l23 13-17-43-24-14z"/><path class="k46" d="M1637 1036l24 10-18-44-24-12z"/><path class="k47" d="M1613 1029l24 7-18-46-24-7z"/><path class="k48" d="M1590 1025l23 4-18-46-23-5z"/><path class="k49" d="M1566 1025l24 0-18-47-24-1zM1542 1027l24-2-18-48-24 2z"/><path class="k50" d="M1519 1032l23-5-18-48-23 5zM1495 1040l24-8-18-48-24 7zM1471 1048l24-8-18-49-24 9zM1447 1058l24-10-18-48-23 10zM1424 1071l23-13-17-48-24 13z"/><path class="k49" d="M1400 1086l24-15-18-48-24 15zM1376 1104l24-18-18-48-23 19z"/><path class="k48" d="M1353 1126l23-22-17-47-24 23z"/><path class="k47" d="M1329 1151l24-25-18-46-24 26z"/><path class="k45" d="M1305 1179l24-28-18-45-23 29z"/><path class="k44" d="M1282 1210l23-31-17-44-24 32z"/><path class="k42" d="M1258 1244l24-34-18-43-24 36z"/><path class="k40" d="M1234 1280l24-36-18-41-24 38z"/><path class="k38" d="M1211 1319l23-39-18-39-23 40z"/><path class="k36" d="M1187 1360l24-41-18-38-24 42z"/><path class="k33" d="M1163 1402l24-42-18-37-24 44z"/><path class="k31" d="M1140 1445l23-43-18-35-23 45z"/><path class="k28" d="M1116 1488l24-43-18-33-24 45z"/><path class="k26" d="M1092 1532l24-44-18-31-24 45z"/><path class="k23" d="M1068 1575l24-43-18-30-23 46z"/><path class="k21" d="M1045 1618l23-43-17-27-24 44z"/><path class="k18" d="M1021 1660l24-42-18-26-24 44z"/><path class="k16" d="M997 1701l24-41-18-24-23 42z"/><path class="k14" d="M974 1740l23-39-17-23-24 40z"/><path class="k10" d="M2034 1419l24 19-18-21-24-20z"/><path class="k12" d="M2010 1398l24 21-18-22-24-22z"/><path class="k14" d="M1986 1376l24 22-18-23-23-24z"/><path class="k16" d="M1963 1353l23 23-17-25-24-25z"/><path class="k18" d="M1939 1328l24 25-18-27-24-26z"/><path class="k21" d="M1915 1303l24 25-18-28-23-27z"/><path class="k23" d="M1892 1277l23 26-17-30-24-28z"/><path class="k26" d="M1868 1251l24 26-18-32-24-27z"/><path class="k28" d="M1844 1226l24 25-18-33-23-27z"/><path class="k30" d="M1821 1202l23 24-17-35-24-27z"/><path class="k33" d="M1797 1179l24 23-18-38-24-25z"/><path class="k35" d="M1773 1157l24 22-18-40-24-23z"/><path class="k37" d="M1750 1137l23 20-18-41-23-21z"/><path class="k39" d="M1726 1120l24 17-18-42-24-19z"/><path class="k41" d="M1702 1105l24 15-18-44-24-17z"/><path class="k42" d="M1679 1093l23 12-18-46-23-13z"/><path class="k44" d="M1655 1084l24 9-18-47-24-10z"/><path class="k45" d="M1631 1078l24 6-18-48-24-7z"/><path class="k46" d="M1607 1075l24 3-18-49-23-4zM1584 1075l23 0-17-50-24 0z"/><path class="k47" d="M1560 1078l24-3-18-50-24 2zM1536 1083l24-5-18-51-23 5zM1513 1090l23-7-17-51-24 8zM1489 1099l24-9-18-50-24 8zM1465 1109l24-10-18-51-24 10zM1442 1121l23-12-18-51-23 13z"/><path class="k46" d="M1418 1136l24-15-18-50-24 15zM1394 1154l24-18-18-50-24 18z"/><path class="k45" d="M1371 1174l23-20-18-50-23 22z"/><path class="k44" d="M1347 1198l24-24-18-48-24 25z"/><path class="k43" d="M1323 1225l24-27-18-47-24 28z"/><path class="k41" d="M1300 1255l23-30-18-46-23 31z"/><path class="k40" d="M1276 1287l24-32-18-45-24 34z"/><path class="k38" d="M1252 1322l24-35-18-43-24 36z"/><path class="k36" d="M1228 1359l24-37-18-42-23 39z"/><path class="k34" d="M1205 1398l23-39-17-40-24 41z"/><path class="k31" d="M1181 1438l24-40-18-38-24 42z"/><path class="k29" d="M1157 1479l24-41-18-36-23 43z"/><path class="k27" d="M1134 1521l23-42-17-34-24 43z"/><path class="k24" d="M1110 1563l24-42-18-33-24 44z"/><path class="k22" d="M1086 1605l24-42-18-31-24 43z"/><path class="k20" d="M1063 1646l23-41-18-30-23 43z"/><path class="k17" d="M1039 1686l24-40-18-28-24 42z"/><path class="k15" d="M1015 1725l24-39-18-26-24 41z"/><path class="k13" d="M992 1763l23-38-18-24-23 39z"/><path class="k9" d="M2052 1442l23 18-17-22-24-19z"/><path class="k11" d="M2028 1423l24 19-18-23-24-21z"/><path class="k13" d="M2004 1402l24 21-18-25-24-22z"/><path class="k15" d="M1981 1380l23 22-18-26-23-23z"/><path class="k17" d="M1957 1358l24 22-18-27-24-25z"/><path class="k19" d="M1933 1334l24 24-18-30-24-25z"/><path class="k22" d="M1910 1310l23 24-18-31-23-26z"/><path class="k24" d="M1886 1287l24 23-18-33-24-26z"/><path class="k26" d="M1862 1263l24 24-18-36-24-25z"/><path class="k29" d="M1839 1241l23 22-18-37-23-24z"/><path class="k31" d="M1815 1219l24 22-18-39-24-23z"/><path class="k33" d="M1791 1200l24 19-18-40-24-22z"/><path class="k35" d="M1767 1182l24 18-18-43-23-20z"/><path class="k37" d="M1744 1166l23 16-17-45-24-17z"/><path class="k38" d="M1720 1152l24 14-18-46-24-15z"/><path class="k40" d="M1696 1142l24 10-18-47-23-12z"/><path class="k41" d="M1673 1134l23 8-17-49-24-9z"/><path class="k42" d="M1649 1129l24 5-18-50-24-6z"/><path class="k43" d="M1625 1127l24 2-18-51-24-3zM1602 1127l23 0-18-52-23 0z"/><path class="k44" d="M1578 1130l24-3-18-52-24 3zM1554 1136l24-6-18-52-24 5zM1531 1143l23-7-18-53-23 7zM1507 1152l24-9-18-53-24 9zM1483 1161l24-9-18-53-24 10zM1459 1173l24-12-18-52-23 12zM1436 1188l23-15-17-52-24 15z"/><path class="k43" d="M1412 1205l24-17-18-52-24 18z"/><path class="k42" d="M1388 1225l24-20-18-51-23 20z"/><path class="k41" d="M1365 1248l23-23-17-51-24 24z"/><path class="k40" d="M1341 1273l24-25-18-50-24 27z"/><path class="k39" d="M1317 1302l24-29-18-48-23 30z"/><path class="k37" d="M1294 1332l23-30-17-47-24 32z"/><path class="k36" d="M1270 1366l24-34-18-45-24 35z"/><path class="k34" d="M1246 1401l24-35-18-44-24 37z"/><path class="k32" d="M1223 1438l23-37-18-42-23 39z"/><path class="k30" d="M1199 1476l24-38-18-40-24 40z"/><path class="k27" d="M1175 1515l24-39-18-38-24 41z"/><path class="k25" d="M1152 1555l23-40-18-36-23 42z"/><path class="k23" d="M1128 1595l24-40-18-34-24 42z"/><path class="k21" d="M1104 1635l24-40-18-32-24 42z"/><path class="k18" d="M1080 1674l24-39-18-30-23 41z"/><path class="k16" d="M1057 1713l23-39-17-28-24 40z"/><path class="k14" d="M1033 1750l24-37-18-27-24 39z"/><path class="k12" d="M1009 1787l24-37-18-25-23 38z"/><path class="k8" d="M2070 1466l23 16-18-22-23-18z"/><path class="k10" d="M2046 1448l24 18-18-24-24-19z"/><path class="k12" d="M2022 1429l24 19-18-25-24-21z"/><path class="k14" d="M1998 1409l24 20-18-27-23-22z"/><path class="k16" d="M1975 1388l23 21-17-29-24-22z"/><path class="k18" d="M1951 1367l24 21-18-30-24-24z"/><path class="k20" d="M1927 1345l24 22-18-33-23-24z"/><path class="k22" d="M1904 1323l23 22-17-35-24-23z"/><path class="k25" d="M1880 1302l24 21-18-36-24-24z"/><path class="k27" d="M1856 1281l24 21-18-39-23-22z"/><path class="k29" d="M1833 1262l23 19-17-40-24-22z"/><path class="k31" d="M1809 1244l24 18-18-43-24-19z"/><path class="k32" d="M1785 1228l24 16-18-44-24-18z"/><path class="k34" d="M1762 1213l23 15-18-46-23-16z"/><path class="k36" d="M1738 1201l24 12-18-47-24-14z"/><path class="k37" d="M1714 1192l24 9-18-49-24-10z"/><path class="k38" d="M1691 1185l23 7-18-50-23-8z"/><path class="k39" d="M1667 1181l24 4-18-51-24-5z"/><path class="k40" d="M1643 1180l24 1-18-52-24-2z"/><path class="k41" d="M1619 1181l24-1-18-53-23 0zM1596 1184l23-3-17-54-24 3zM1572 1190l24-6-18-54-24 6zM1548 1197l24-7-18-54-23 7zM1525 1206l23-9-17-54-24 9zM1501 1215l24-9-18-54-24 9zM1477 1227l24-12-18-54-24 12zM1454 1241l23-14-18-54-23 15z"/><path class="k40" d="M1430 1258l24-17-18-53-24 17zM1406 1277l24-19-18-53-24 20z"/><path class="k39" d="M1383 1298l23-21-18-52-23 23z"/><path class="k38" d="M1359 1323l24-25-18-50-24 25z"/><path class="k36" d="M1335 1350l24-27-18-50-24 29z"/><path class="k35" d="M1312 1379l23-29-18-48-23 30z"/><path class="k33" d="M1288 1411l24-32-18-47-24 34z"/><path class="k31" d="M1264 1444l24-33-18-45-24 35z"/><path class="k30" d="M1240 1479l24-35-18-43-23 37z"/><path class="k28" d="M1217 1516l23-37-17-41-24 38z"/><path class="k25" d="M1193 1553l24-37-18-40-24 39z"/><path class="k23" d="M1169 1591l24-38-18-38-23 40z"/><path class="k21" d="M1146 1629l23-38-17-36-24 40z"/><path class="k19" d="M1122 1666l24-37-18-34-24 40z"/><path class="k17" d="M1098 1704l24-38-18-31-24 39z"/><path class="k15" d="M1075 1741l23-37-18-30-23 39z"/><path class="k13" d="M1051 1776l24-35-18-28-24 37z"/><path class="k11" d="M1027 1811l24-35-18-26-24 37z"/><path class="k7" d="M2087 1490l24 14-18-22-23-16z"/><path class="k9" d="M2064 1474l23 16-17-24-24-18z"/><path class="k11" d="M2040 1457l24 17-18-26-24-19z"/><path class="k13" d="M2016 1438l24 19-18-28-24-20z"/><path class="k15" d="M1993 1419l23 19-18-29-23-21z"/><path class="k17" d="M1969 1400l24 19-18-31-24-21z"/><path class="k19" d="M1945 1380l24 20-18-33-24-22z"/><path class="k21" d="M1922 1360l23 20-18-35-23-22z"/><path class="k23" d="M1898 1341l24 19-18-37-24-21z"/><path class="k25" d="M1874 1323l24 18-18-39-24-21z"/><path class="k26" d="M1851 1305l23 18-18-42-23-19z"/><path class="k28" d="M1827 1289l24 16-18-43-24-18z"/><path class="k30" d="M1803 1274l24 15-18-45-24-16z"/><path class="k32" d="M1779 1262l24 12-18-46-23-15z"/><path class="k33" d="M1756 1251l23 11-17-49-24-12z"/><path class="k34" d="M1732 1243l24 8-18-50-24-9z"/><path class="k35" d="M1708 1238l24 5-18-51-23-7z"/><path class="k36" d="M1685 1235l23 3-17-53-24-4z"/><path class="k37" d="M1661 1234l24 1-18-54-24-1z"/><path class="k38" d="M1637 1235l24-1-18-54-24 1zM1614 1239l23-4-18-54-23 3zM1590 1245l24-6-18-55-24 6zM1566 1253l24-8-18-55-24 7zM1543 1261l23-8-18-56-23 9zM1519 1271l24-10-18-55-24 9zM1495 1282l24-11-18-56-24 12zM1471 1295l24-13-18-55-23 14z"/><path class="k37" d="M1448 1311l23-16-17-54-24 17zM1424 1330l24-19-18-53-24 19z"/><path class="k36" d="M1400 1350l24-20-18-53-23 21z"/><path class="k35" d="M1377 1373l23-23-17-52-24 25z"/><path class="k34" d="M1353 1399l24-26-18-50-24 27z"/><path class="k32" d="M1329 1427l24-28-18-49-23 29z"/><path class="k31" d="M1306 1457l23-30-17-48-24 32z"/><path class="k29" d="M1282 1488l24-31-18-46-24 33z"/><path class="k27" d="M1258 1521l24-33-18-44-24 35z"/><path class="k25" d="M1235 1556l23-35-18-42-23 37z"/><path class="k24" d="M1211 1591l24-35-18-40-24 37z"/><path class="k22" d="M1187 1627l24-36-18-38-24 38z"/><path class="k20" d="M1164 1663l23-36-18-36-23 38z"/><path class="k18" d="M1140 1699l24-36-18-34-24 37z"/><path class="k16" d="M1116 1734l24-35-18-33-24 38z"/><path class="k14" d="M1092 1769l24-35-18-30-23 37z"/><path class="k12" d="M1069 1803l23-34-17-28-24 35z"/><path class="k10" d="M1045 1836l24-33-18-27-24 35z"/><path class="k6" d="M2105 1514l24 13-18-23-24-14z"/><path class="k8" d="M2082 1500l23 14-18-24-23-16z"/><path class="k10" d="M2058 1484l24 16-18-26-24-17z"/><path class="k11" d="M2034 1468l24 16-18-27-24-19z"/><path class="k13" d="M2010 1451l24 17-18-30-23-19z"/><path class="k15" d="M1987 1434l23 17-17-32-24-19z"/><path class="k17" d="M1963 1416l24 18-18-34-24-20z"/><path class="k19" d="M1939 1398l24 18-18-36-23-20z"/><path class="k21" d="M1916 1381l23 17-17-38-24-19z"/><path class="k22" d="M1892 1364l24 17-18-40-24-18z"/><path class="k24" d="M1868 1349l24 15-18-41-23-18z"/><path class="k26" d="M1845 1335l23 14-17-44-24-16z"/><path class="k27" d="M1821 1322l24 13-18-46-24-15z"/><path class="k29" d="M1797 1311l24 11-18-48-24-12z"/><path class="k30" d="M1774 1302l23 9-18-49-23-11z"/><path class="k31" d="M1750 1295l24 7-18-51-24-8z"/><path class="k32" d="M1726 1291l24 4-18-52-24-5z"/><path class="k33" d="M1703 1288l23 3-18-53-23-3z"/><path class="k34" d="M1679 1288l24 0-18-53-24-1zM1655 1291l24-3-18-54-24 1z"/><path class="k35" d="M1631 1295l24-4-18-56-23 4zM1608 1301l23-6-17-56-24 6zM1584 1308l24-7-18-56-24 8zM1560 1317l24-9-18-55-23 8zM1537 1326l23-9-17-56-24 10zM1513 1337l24-11-18-55-24 11zM1489 1350l24-13-18-55-24 13z"/><path class="k34" d="M1466 1365l23-15-18-55-23 16zM1442 1383l24-18-18-54-24 19z"/><path class="k33" d="M1418 1403l24-20-18-53-24 20z"/><path class="k32" d="M1395 1425l23-22-18-53-23 23z"/><path class="k31" d="M1371 1449l24-24-18-52-24 26z"/><path class="k30" d="M1347 1475l24-26-18-50-24 28z"/><path class="k28" d="M1324 1503l23-28-18-48-23 30z"/><path class="k27" d="M1300 1533l24-30-18-46-24 31z"/><path class="k25" d="M1276 1564l24-31-18-45-24 33z"/><path class="k23" d="M1252 1597l24-33-18-43-23 35z"/><path class="k22" d="M1229 1630l23-33-17-41-24 35z"/><path class="k20" d="M1205 1663l24-33-18-39-24 36z"/><path class="k18" d="M1181 1697l24-34-18-36-23 36z"/><path class="k16" d="M1158 1731l23-34-17-34-24 36z"/><path class="k14" d="M1134 1765l24-34-18-32-24 35z"/><path class="k12" d="M1110 1798l24-33-18-31-24 35z"/><path class="k11" d="M1087 1830l23-32-18-29-23 34z"/><path class="k9" d="M1063 1861l24-31-18-27-24 33z"/><path class="k6" d="M2123 1539l24 11-18-23-24-13z"/><path class="k7" d="M2099 1526l24 13-18-25-23-14z"/><path class="k9" d="M2076 1512l23 14-17-26-24-16z"/><path class="k10" d="M2052 1498l24 14-18-28-24-16z"/><path class="k12" d="M2028 1483l24 15-18-30-24-17z"/><path class="k14" d="M2005 1467l23 16-18-32-23-17z"/><path class="k15" d="M1981 1452l24 15-18-33-24-18z"/><path class="k17" d="M1957 1436l24 16-18-36-24-18z"/><path class="k19" d="M1934 1421l23 15-18-38-23-17z"/><path class="k20" d="M1910 1406l24 15-18-40-24-17z"/><path class="k22" d="M1886 1393l24 13-18-42-24-15z"/><path class="k24" d="M1863 1380l23 13-18-44-23-14z"/><path class="k25" d="M1839 1369l24 11-18-45-24-13z"/><path class="k26" d="M1815 1360l24 9-18-47-24-11z"/><path class="k28" d="M1791 1353l24 7-18-49-23-9z"/><path class="k29" d="M1768 1347l23 6-17-51-24-7z"/><path class="k30" d="M1744 1344l24 3-18-52-24-4zM1720 1342l24 2-18-53-23-3z"/><path class="k31" d="M1697 1343l23-1-17-54-24 0zM1673 1346l24-3-18-55-24 3z"/><path class="k32" d="M1649 1350l24-4-18-55-24 4zM1626 1356l23-6-18-55-23 6zM1602 1364l24-8-18-55-24 7zM1578 1372l24-8-18-56-24 9zM1555 1382l23-10-18-55-23 9zM1531 1392l24-10-18-56-24 11zM1507 1405l24-13-18-55-24 13z"/><path class="k31" d="M1483 1420l24-15-18-55-23 15zM1460 1436l23-16-17-55-24 18z"/><path class="k30" d="M1436 1455l24-19-18-53-24 20z"/><path class="k29" d="M1412 1476l24-21-18-52-23 22z"/><path class="k28" d="M1389 1499l23-23-17-51-24 24z"/><path class="k27" d="M1365 1523l24-24-18-50-24 26z"/><path class="k26" d="M1341 1550l24-27-18-48-23 28z"/><path class="k24" d="M1318 1578l23-28-17-47-24 30z"/><path class="k23" d="M1294 1607l24-29-18-45-24 31z"/><path class="k21" d="M1270 1637l24-30-18-43-24 33z"/><path class="k20" d="M1247 1669l23-32-18-40-23 33z"/><path class="k18" d="M1223 1700l24-31-18-39-24 33z"/><path class="k16" d="M1199 1732l24-32-18-37-24 34z"/><path class="k14" d="M1176 1764l23-32-18-35-23 34z"/><path class="k13" d="M1152 1795l24-31-18-33-24 34z"/><path class="k11" d="M1128 1826l24-31-18-30-24 33z"/><path class="k9" d="M1104 1857l24-31-18-28-23 32z"/><path class="k8" d="M1081 1886l23-29-17-27-24 31z"/><path class="k5" d="M2141 1563l24 10-18-23-24-11z"/><path class="k6" d="M2117 1552l24 11-18-24-24-13z"/><path class="k7" d="M2094 1540l23 12-18-26-23-14z"/><path class="k9" d="M2070 1528l24 12-18-28-24-14z"/><path class="k10" d="M2046 1515l24 13-18-30-24-15z"/><path class="k12" d="M2022 1501l24 14-18-32-23-16z"/><path class="k14" d="M1999 1488l23 13-17-34-24-15z"/><path class="k15" d="M1975 1474l24 14-18-36-24-16z"/><path class="k17" d="M1951 1461l24 13-18-38-23-15z"/><path class="k18" d="M1928 1448l23 13-17-40-24-15z"/><path class="k20" d="M1904 1437l24 11-18-42-24-13z"/><path class="k21" d="M1880 1426l24 11-18-44-23-13z"/><path class="k23" d="M1857 1417l23 9-17-46-24-11z"/><path class="k24" d="M1833 1409l24 8-18-48-24-9z"/><path class="k25" d="M1809 1403l24 6-18-49-24-7z"/><path class="k26" d="M1786 1398l23 5-18-50-23-6z"/><path class="k27" d="M1762 1396l24 2-18-51-24-3zM1738 1396l24 0-18-52-24-2z"/><path class="k28" d="M1715 1397l23-1-18-54-23 1zM1691 1400l24-3-18-54-24 3z"/><path class="k29" d="M1667 1405l24-5-18-54-24 4zM1643 1411l24-6-18-55-23 6zM1620 1419l23-8-17-55-24 8zM1596 1427l24-8-18-55-24 8zM1572 1437l24-10-18-55-23 10zM1549 1447l23-10-17-55-24 10z"/><path class="k28" d="M1525 1459l24-12-18-55-24 13zM1501 1473l24-14-18-54-24 15zM1478 1489l23-16-18-53-23 16z"/><path class="k27" d="M1454 1507l24-18-18-53-24 19z"/><path class="k26" d="M1430 1527l24-20-18-52-24 21z"/><path class="k25" d="M1407 1548l23-21-18-51-23 23z"/><path class="k24" d="M1383 1571l24-23-18-49-24 24z"/><path class="k23" d="M1359 1596l24-25-18-48-24 27z"/><path class="k22" d="M1336 1622l23-26-18-46-23 28z"/><path class="k20" d="M1312 1650l24-28-18-44-24 29z"/><path class="k19" d="M1288 1678l24-28-18-43-24 30z"/><path class="k17" d="M1264 1707l24-29-18-41-23 32z"/><path class="k16" d="M1241 1737l23-30-17-38-24 31z"/><path class="k14" d="M1217 1767l24-30-18-37-24 32z"/><path class="k13" d="M1193 1797l24-30-18-35-23 32z"/><path class="k11" d="M1170 1826l23-29-17-33-24 31z"/><path class="k10" d="M1146 1855l24-29-18-31-24 31z"/><path class="k8" d="M1122 1884l24-29-18-29-24 31z"/><path class="k7" d="M1099 1911l23-27-18-27-23 29z"/><path class="k4" d="M2159 1587l23 9-17-23-24-10z"/><path class="k5" d="M2135 1578l24 9-18-24-24-11z"/><path class="k6" d="M2111 1568l24 10-18-26-23-12z"/><path class="k8" d="M2088 1557l23 11-17-28-24-12z"/><path class="k9" d="M2064 1546l24 11-18-29-24-13z"/><path class="k11" d="M2040 1535l24 11-18-31-24-14z"/><path class="k12" d="M2017 1523l23 12-18-34-23-13z"/><path class="k13" d="M1993 1511l24 12-18-35-24-14z"/><path class="k15" d="M1969 1500l24 11-18-37-24-13z"/><path class="k16" d="M1946 1490l23 10-18-39-23-13z"/><path class="k18" d="M1922 1480l24 10-18-42-24-11z"/><path class="k19" d="M1898 1471l24 9-18-43-24-11z"/><path class="k20" d="M1875 1463l23 8-18-45-23-9z"/><path class="k21" d="M1851 1457l24 6-18-46-24-8z"/><path class="k22" d="M1827 1452l24 5-18-48-24-6z"/><path class="k23" d="M1803 1449l24 3-18-49-23-5z"/><path class="k24" d="M1780 1448l23 1-17-51-24-2zM1756 1448l24 0-18-52-24 0z"/><path class="k25" d="M1732 1450l24-2-18-52-23 1zM1709 1454l23-4-17-53-24 3z"/><path class="k26" d="M1685 1459l24-5-18-54-24 5zM1661 1466l24-7-18-54-24 6zM1638 1473l23-7-18-55-23 8zM1614 1481l24-8-18-54-24 8zM1590 1491l24-10-18-54-24 10zM1567 1501l23-10-18-54-23 10z"/><path class="k25" d="M1543 1513l24-12-18-54-24 12zM1519 1526l24-13-18-54-24 14zM1495 1541l24-15-18-53-23 16z"/><path class="k24" d="M1472 1558l23-17-17-52-24 18z"/><path class="k23" d="M1448 1577l24-19-18-51-24 20zM1424 1597l24-20-18-50-23 21z"/><path class="k22" d="M1401 1619l23-22-17-49-24 23z"/><path class="k21" d="M1377 1642l24-23-18-48-24 25z"/><path class="k19" d="M1353 1666l24-24-18-46-23 26z"/><path class="k18" d="M1330 1692l23-26-17-44-24 28z"/><path class="k17" d="M1306 1719l24-27-18-42-24 28z"/><path class="k15" d="M1282 1746l24-27-18-41-24 29z"/><path class="k14" d="M1259 1773l23-27-18-39-23 30z"/><path class="k13" d="M1235 1801l24-28-18-36-24 30z"/><path class="k11" d="M1211 1829l24-28-18-34-24 30z"/><path class="k10" d="M1188 1857l23-28-18-32-23 29z"/><path class="k8" d="M1164 1884l24-27-18-31-24 29z"/><path class="k7" d="M1140 1911l24-27-18-29-24 29z"/><path class="k6" d="M1116 1936l24-25-18-27-23 27z"/><path class="k3" d="M2177 1611l23 7-18-22-23-9z"/><path class="k4" d="M2153 1604l24 7-18-24-24-9z"/><path class="k5" d="M2129 1596l24 8-18-26-24-10z"/><path class="k6" d="M2106 1587l23 9-18-28-23-11z"/><path class="k8" d="M2082 1577l24 10-18-30-24-11z"/><path class="k9" d="M2058 1568l24 9-18-31-24-11z"/><path class="k10" d="M2034 1558l24 10-18-33-23-12z"/><path class="k12" d="M2011 1548l23 10-17-35-24-12z"/><path class="k13" d="M1987 1539l24 9-18-37-24-11z"/><path class="k14" d="M1963 1530l24 9-18-39-23-10z"/><path class="k15" d="M1940 1522l23 8-17-40-24-10z"/><path class="k17" d="M1916 1515l24 7-18-42-24-9z"/><path class="k18" d="M1892 1509l24 6-18-44-23-8z"/><path class="k19" d="M1869 1504l23 5-17-46-24-6z"/><path class="k20" d="M1845 1500l24 4-18-47-24-5zM1821 1499l24 1-18-48-24-3z"/><path class="k21" d="M1798 1498l23 1-18-50-23-1z"/><path class="k22" d="M1774 1499l24-1-18-50-24 0zM1750 1502l24-3-18-51-24 2zM1727 1506l23-4-18-52-23 4z"/><path class="k23" d="M1703 1512l24-6-18-52-24 5zM1679 1518l24-6-18-53-24 7zM1655 1526l24-8-18-52-23 7zM1632 1534l23-8-17-53-24 8zM1608 1543l24-9-18-53-24 10zM1584 1553l24-10-18-52-23 10zM1561 1565l23-12-17-52-24 12z"/><path class="k22" d="M1537 1578l24-13-18-52-24 13zM1513 1592l24-14-18-52-24 15z"/><path class="k21" d="M1490 1608l23-16-18-51-23 17zM1466 1625l24-17-18-50-24 19z"/><path class="k20" d="M1442 1644l24-19-18-48-24 20z"/><path class="k19" d="M1419 1665l23-21-18-47-23 22z"/><path class="k18" d="M1395 1687l24-22-18-46-24 23z"/><path class="k17" d="M1371 1709l24-22-18-45-24 24z"/><path class="k16" d="M1348 1733l23-24-18-43-23 26z"/><path class="k15" d="M1324 1758l24-25-18-41-24 27z"/><path class="k14" d="M1300 1783l24-25-18-39-24 27z"/><path class="k12" d="M1276 1809l24-26-18-37-23 27z"/><path class="k11" d="M1253 1835l23-26-17-36-24 28z"/><path class="k10" d="M1229 1861l24-26-18-34-24 28z"/><path class="k8" d="M1205 1887l24-26-18-32-23 28z"/><path class="k7" d="M1182 1912l23-25-17-30-24 27z"/><path class="k6" d="M1158 1937l24-25-18-28-24 27z"/><path class="k5" d="M1134 1961l24-24-18-26-24 25z"/><path class="k2" d="M2194 1635l24 5-18-22-23-7z"/><path class="k3" d="M2171 1629l23 6-17-24-24-7z"/><path class="k4" d="M2147 1622l24 7-18-25-24-8z"/><path class="k5" d="M2123 1615l24 7-18-26-23-9z"/><path class="k6" d="M2100 1608l23 7-17-28-24-10z"/><path class="k8" d="M2076 1600l24 8-18-31-24-9z"/><path class="k9" d="M2052 1592l24 8-18-32-24-10z"/><path class="k10" d="M2029 1584l23 8-18-34-23-10z"/><path class="k11" d="M2005 1576l24 8-18-36-24-9z"/><path class="k12" d="M1981 1569l24 7-18-37-24-9z"/><path class="k13" d="M1958 1563l23 6-18-39-23-8z"/><path class="k14" d="M1934 1557l24 6-18-41-24-7z"/><path class="k15" d="M1910 1553l24 4-18-42-24-6z"/><path class="k16" d="M1887 1549l23 4-18-44-23-5z"/><path class="k17" d="M1863 1547l24 2-18-45-24-4z"/><path class="k18" d="M1839 1546l24 1-18-47-24-1zM1815 1547l24-1-18-47-23-1z"/><path class="k19" d="M1792 1549l23-2-17-49-24 1zM1768 1552l24-3-18-50-24 3z"/><path class="k20" d="M1744 1557l24-5-18-50-23 4zM1721 1562l23-5-17-51-24 6zM1697 1569l24-7-18-50-24 6zM1673 1577l24-8-18-51-24 8zM1650 1585l23-8-18-51-23 8zM1626 1594l24-9-18-51-24 9zM1602 1604l24-10-18-51-24 10zM1579 1615l23-11-18-51-23 12z"/><path class="k19" d="M1555 1627l24-12-18-50-24 13zM1531 1641l24-14-18-49-24 14zM1507 1656l24-15-18-49-23 16z"/><path class="k18" d="M1484 1673l23-17-17-48-24 17z"/><path class="k17" d="M1460 1691l24-18-18-48-24 19zM1436 1710l24-19-18-47-23 21z"/><path class="k16" d="M1413 1730l23-20-17-45-24 22z"/><path class="k15" d="M1389 1751l24-21-18-43-24 22z"/><path class="k14" d="M1365 1774l24-23-18-42-23 24z"/><path class="k13" d="M1342 1796l23-22-17-41-24 25z"/><path class="k12" d="M1318 1820l24-24-18-38-24 25z"/><path class="k10" d="M1294 1844l24-24-18-37-24 26z"/><path class="k9" d="M1271 1868l23-24-18-35-23 26z"/><path class="k8" d="M1247 1892l24-24-18-33-24 26z"/><path class="k7" d="M1223 1916l24-24-18-31-24 26z"/><path class="k6" d="M1200 1940l23-24-18-29-23 25z"/><path class="k5" d="M1176 1963l24-23-18-28-24 25z"/><path class="k4" d="M1152 1986l24-23-18-26-24 24z"/><path class="k1" d="M2212 1658l24 4-18-22-24-5z"/><path class="k2" d="M2189 1654l23 4-18-23-23-6z"/><path class="k3" d="M2165 1649l24 5-18-25-24-7z"/><path class="k4" d="M2141 1643l24 6-18-27-24-7z"/><path class="k5" d="M2118 1637l23 6-18-28-23-7z"/><path class="k6" d="M2094 1631l24 6-18-29-24-8z"/><path class="k7" d="M2070 1625l24 6-18-31-24-8z"/><path class="k8" d="M2046 1619l24 6-18-33-23-8z"/><path class="k9" d="M2023 1613l23 6-17-35-24-8z"/><path class="k10" d="M1999 1608l24 5-18-37-24-7z"/><path class="k11" d="M1975 1603l24 5-18-39-23-6z"/><path class="k12" d="M1952 1599l23 4-17-40-24-6z"/><path class="k13" d="M1928 1596l24 3-18-42-24-4z"/><path class="k14" d="M1904 1593l24 3-18-43-23-4z"/><path class="k15" d="M1881 1592l23 1-17-44-24-2zM1857 1593l24-1-18-45-24-1z"/><path class="k16" d="M1833 1594l24-1-18-47-24 1zM1810 1596l23-2-18-47-23 2z"/><path class="k17" d="M1786 1600l24-4-18-47-24 3zM1762 1605l24-5-18-48-24 5zM1739 1611l23-6-18-48-23 5zM1715 1618l24-7-18-49-24 7zM1691 1626l24-8-18-49-24 8zM1667 1634l24-8-18-49-23 8zM1644 1643l23-9-17-49-24 9zM1620 1653l24-10-18-49-24 10zM1596 1664l24-11-18-49-23 11zM1573 1675l23-11-17-49-24 12z"/><path class="k16" d="M1549 1688l24-13-18-48-24 14zM1525 1703l24-15-18-47-24 15zM1502 1718l23-15-18-47-23 17z"/><path class="k15" d="M1478 1735l24-17-18-45-24 18z"/><path class="k14" d="M1454 1753l24-18-18-44-24 19z"/><path class="k13" d="M1431 1772l23-19-18-43-23 20zM1407 1792l24-20-18-42-24 21z"/><path class="k12" d="M1383 1812l24-20-18-41-24 23z"/><path class="k11" d="M1360 1834l23-22-18-38-23 22z"/><path class="k10" d="M1336 1856l24-22-18-38-24 24z"/><path class="k9" d="M1312 1878l24-22-18-36-24 24z"/><path class="k8" d="M1288 1900l24-22-18-34-23 24z"/><path class="k7" d="M1265 1923l23-23-17-32-24 24z"/><path class="k6" d="M1241 1945l24-22-18-31-24 24z"/><path class="k5" d="M1217 1967l24-22-18-29-23 24z"/><path class="k4" d="M1194 1988l23-21-17-27-24 23z"/><path class="k3" d="M1170 2009l24-21-18-25-24 23z"/></g></g>
<rect x="244.5" y="21.3" width="10.1" height="195.4" fill="url(#pg)" class="cbx"/>
<path class="ax" d="M253.0 202.3L254.6 202.3M253.0 182.9L254.6 182.9M253.0 163.5L254.6 163.5M253.0 144.1L254.6 144.1M253.0 124.6L254.6 124.6M253.0 105.2L254.6 105.2M253.0 85.8L254.6 85.8M253.0 66.4L254.6 66.4M253.0 46.9L254.6 46.9M253.0 27.5L254.6 27.5"/>
<path class="gr" d="M394.6 211.4L310.0 159.8M383.7 210.7L495.6 170.8M310.0 159.8L310.0 46.2M495.6 170.8L495.6 57.2M419.5 202.5L334.9 150.9M364.9 199.3L476.8 159.4M334.9 150.9L334.9 37.3M476.8 159.4L476.8 45.7M444.4 193.6L359.8 142.0M346.1 187.8L458.0 147.9M359.8 142.0L359.8 28.4M458.0 147.9L458.0 34.3M469.2 184.8L384.6 133.2M327.3 176.3L439.2 136.4M384.6 133.2L384.6 19.6M439.2 136.4L439.2 22.8M494.1 175.9L409.5 124.3M308.5 164.9L420.4 125.0M409.5 124.3L409.5 10.7M420.4 125.0L420.4 11.3M303.8 151.4L415.7 111.5M500.3 163.1L415.7 111.5M303.8 135.7L415.7 95.8M500.3 147.4L415.7 95.8M303.8 120.1L415.7 80.2M500.3 131.8L415.7 80.2M303.8 104.5L415.7 64.6M500.3 116.2L415.7 64.6M303.8 88.9L415.7 49.0M500.3 100.6L415.7 49.0M303.8 73.2L415.7 33.3M500.3 84.9L415.7 33.3M303.8 57.6L415.7 17.7M500.3 69.3L415.7 17.7"/>
<path class="ax" d="M388.4 213.6L500.3 173.7M388.4 213.6L303.8 162.0M303.8 162.0L303.8 48.4M394.6 211.4L396.1 212.3M383.7 210.7L381.7 211.4M419.5 202.5L421.0 203.4M364.9 199.3L362.9 200.0M444.4 193.6L445.9 194.6M346.1 187.8L344.1 188.5M469.2 184.8L470.7 185.7M327.3 176.3L325.3 177.0M494.1 175.9L495.6 176.8M308.5 164.9L306.5 165.6M303.8 151.4L301.8 152.1M303.8 135.7L301.8 136.5M303.8 120.1L301.8 120.8M303.8 104.5L301.8 105.2M303.8 88.9L301.8 89.6M303.8 73.2L301.8 73.9M303.8 57.6L301.8 58.3"/>
<g transform="scale(.1)"><g class="sf"><path class="k15" d="M3206 1298l25-40-19 31-25 40z"/><path class="k13" d="M3181 1340l25-42-19 31-25 40z"/><path class="k11" d="M3156 1383l25-43-19 29-25 42z"/><path class="k9" d="M3131 1426l25-43-19 28-24 43z"/><path class="k7" d="M3107 1471l24-45-18 28-25 44z"/><path class="k5" d="M3082 1517l25-46-19 27-25 44z"/><path class="k3" d="M3057 1563l25-46-19 25-25 45z"/><path class="k14" d="M3175 1355l25-44-19 29-25 43z"/><path class="k12" d="M3150 1399l25-44-19 28-25 43z"/><path class="k10" d="M3125 1445l25-46-19 27-24 45z"/><path class="k8" d="M3100 1492l25-47-18 26-25 46z"/><path class="k5" d="M3076 1539l24-47-18 25-25 46z"/><path class="k21" d="M3268 1198l25-40-18 30-25 40z"/><path class="k20" d="M3244 1240l24-42-18 30-25 41z"/><path class="k18" d="M3219 1283l25-43-19 29-25 42z"/><path class="k16" d="M3194 1328l25-45-19 28-25 44z"/><path class="k14" d="M3169 1373l25-45-19 27-25 44z"/><path class="k12" d="M3144 1420l25-47-19 26-25 46z"/><path class="k10" d="M3119 1468l25-48-19 25-25 47z"/><path class="k7" d="M3094 1516l25-48-19 24-24 47z"/><path class="k22" d="M3262 1213l25-43-19 28-24 42z"/><path class="k20" d="M3238 1257l24-44-18 27-25 43z"/><path class="k18" d="M3213 1302l25-45-19 26-25 45z"/><path class="k16" d="M3188 1348l25-46-19 26-25 45z"/><path class="k14" d="M3163 1396l25-48-19 25-25 47z"/><path class="k12" d="M3138 1444l25-48-19 24-25 48z"/><path class="k9" d="M3113 1494l25-50-19 24-25 48z"/><path class="k28" d="M3331 1102l25-40-19 28-25 39z"/><path class="k26" d="M3306 1143l25-41-19 27-25 41z"/><path class="k24" d="M3281 1187l25-44-19 27-25 43z"/><path class="k22" d="M3256 1231l25-44-19 26-24 44z"/><path class="k20" d="M3231 1277l25-46-18 26-25 45z"/><path class="k18" d="M3207 1325l24-48-18 25-25 46z"/><path class="k16" d="M3182 1373l25-48-19 23-25 48z"/><path class="k14" d="M3157 1422l25-49-19 23-25 48z"/><path class="k11" d="M3132 1473l25-51-19 22-25 50z"/><path class="k32" d="M3375 1036l24-39-18 27-25 38z"/><path class="k30" d="M3350 1076l25-40-19 26-25 40z"/><path class="k28" d="M3325 1118l25-42-19 26-25 41z"/><path class="k26" d="M3300 1162l25-44-19 25-25 44z"/><path class="k24" d="M3275 1207l25-45-19 25-25 44z"/><path class="k22" d="M3250 1254l25-47-19 24-25 46z"/><path class="k20" d="M3225 1302l25-48-19 23-24 48z"/><path class="k18" d="M3201 1351l24-49-18 23-25 48z"/><path class="k15" d="M3176 1402l25-51-19 22-25 49z"/><path class="k13" d="M3151 1453l25-51-19 20-25 51z"/><path class="k37" d="M3443 935l25-35-19 26-25 35z"/><path class="k35" d="M3418 972l25-37-19 26-25 36z"/><path class="k34" d="M3393 1011l25-39-19 25-24 39z"/><path class="k32" d="M3369 1052l24-41-18 25-25 40z"/><path class="k30" d="M3344 1095l25-43-19 24-25 42z"/><path class="k28" d="M3319 1139l25-44-19 23-25 44z"/><path class="k26" d="M3294 1185l25-46-19 23-25 45z"/><path class="k24" d="M3269 1232l25-47-19 22-25 47z"/><path class="k22" d="M3244 1281l25-49-19 22-25 48z"/><path class="k20" d="M3219 1331l25-50-19 21-24 49z"/><path class="k17" d="M3194 1382l25-51-18 20-25 51z"/><path class="k15" d="M3170 1434l24-52-18 20-25 51z"/><path class="k39" d="M3462 911l25-35-19 24-25 35z"/><path class="k37" d="M3437 948l25-37-19 24-25 37z"/><path class="k36" d="M3412 988l25-40-19 24-25 39z"/><path class="k34" d="M3387 1029l25-41-19 23-24 41z"/><path class="k32" d="M3362 1073l25-44-18 23-25 43z"/><path class="k30" d="M3338 1117l24-44-18 22-25 44z"/><path class="k28" d="M3313 1164l25-47-19 22-25 46z"/><path class="k26" d="M3288 1212l25-48-19 21-25 47z"/><path class="k24" d="M3263 1262l25-50-19 20-25 49z"/><path class="k21" d="M3238 1312l25-50-19 19-25 50z"/><path class="k19" d="M3213 1364l25-52-19 19-25 51z"/><path class="k17" d="M3188 1417l25-53-19 18-24 52z"/><path class="k44" d="M3530 820l25-31-18 23-25 30z"/><path class="k42" d="M3506 853l24-33-18 22-25 34z"/><path class="k41" d="M3481 889l25-36-19 23-25 35z"/><path class="k39" d="M3456 927l25-38-19 22-25 37z"/><path class="k38" d="M3431 967l25-40-19 21-25 40z"/><path class="k36" d="M3406 1009l25-42-19 21-25 41z"/><path class="k34" d="M3381 1052l25-43-19 20-25 44z"/><path class="k32" d="M3356 1098l25-46-19 21-24 44z"/><path class="k30" d="M3332 1145l24-47-18 19-25 47z"/><path class="k28" d="M3307 1194l25-49-19 19-25 48z"/><path class="k25" d="M3282 1244l25-50-19 18-25 50z"/><path class="k23" d="M3257 1295l25-51-19 18-25 50z"/><path class="k21" d="M3232 1347l25-52-19 17-25 52z"/><path class="k18" d="M3207 1401l25-54-19 17-25 53z"/><path class="k47" d="M3574 768l25-29-19 21-25 29z"/><path class="k45" d="M3549 799l25-31-19 21-25 31z"/><path class="k44" d="M3524 833l25-34-19 21-24 33z"/><path class="k43" d="M3500 869l24-36-18 20-25 36z"/><path class="k41" d="M3475 907l25-38-19 20-25 38z"/><path class="k39" d="M3450 948l25-41-19 20-25 40z"/><path class="k38" d="M3425 990l25-42-19 19-25 42z"/><path class="k36" d="M3400 1034l25-44-19 19-25 43z"/><path class="k34" d="M3375 1080l25-46-19 18-25 46z"/><path class="k31" d="M3350 1128l25-48-19 18-24 47z"/><path class="k29" d="M3325 1177l25-49-18 17-25 49z"/><path class="k27" d="M3301 1227l24-50-18 17-25 50z"/><path class="k25" d="M3276 1279l25-52-19 17-25 51z"/><path class="k22" d="M3251 1332l25-53-19 16-25 52z"/><path class="k20" d="M3226 1387l25-55-19 15-25 54z"/><path class="k50" d="M3643 693l25-24-19 19-25 24z"/><path class="k49" d="M3618 720l25-27-19 19-25 27z"/><path class="k48" d="M3593 749l25-29-19 19-25 29z"/><path class="k47" d="M3568 781l25-32-19 19-25 31z"/><path class="k46" d="M3543 815l25-34-19 18-25 34z"/><path class="k44" d="M3518 851l25-36-19 18-24 36z"/><path class="k43" d="M3493 890l25-39-18 18-25 38z"/><path class="k41" d="M3469 930l24-40-18 17-25 41z"/><path class="k39" d="M3444 973l25-43-19 18-25 42z"/><path class="k37" d="M3419 1018l25-45-19 17-25 44z"/><path class="k35" d="M3394 1064l25-46-19 16-25 46z"/><path class="k33" d="M3369 1112l25-48-19 16-25 48z"/><path class="k31" d="M3344 1162l25-50-19 16-25 49z"/><path class="k28" d="M3319 1213l25-51-19 15-24 50z"/><path class="k26" d="M3295 1266l24-53-18 14-25 52z"/><path class="k24" d="M3270 1319l25-53-19 13-25 53z"/><path class="k21" d="M3245 1374l25-55-19 13-25 55z"/><path class="k53" d="M3686 652l25-22-19 17-24 22z"/><path class="k51" d="M3637 703l24-27-18 17-25 27z"/><path class="k50" d="M3612 733l25-30-19 17-25 29z"/><path class="k49" d="M3587 765l25-32-19 16-25 32z"/><path class="k47" d="M3562 799l25-34-19 16-25 34z"/><path class="k46" d="M3537 836l25-37-19 16-25 36z"/><path class="k44" d="M3512 875l25-39-19 15-25 39z"/><path class="k43" d="M3487 916l25-41-19 15-24 40z"/><path class="k41" d="M3463 959l24-43-18 14-25 43z"/><path class="k39" d="M3438 1004l25-45-19 14-25 45z"/><path class="k37" d="M3413 1050l25-46-19 14-25 46z"/><path class="k35" d="M3388 1099l25-49-19 14-25 48z"/><path class="k32" d="M3363 1149l25-50-19 13-25 50z"/><path class="k30" d="M3338 1201l25-52-19 13-25 51z"/><path class="k27" d="M3313 1254l25-53-19 12-24 53z"/><path class="k25" d="M3288 1308l25-54-18 12-25 53z"/><path class="k22" d="M3264 1363l24-55-18 11-25 55z"/><path class="k55" d="M3730 616l25-20-19 15-25 19z"/><path class="k54" d="M3705 638l25-22-19 14-25 22zM3680 662l25-24-19 14-25 24z"/><path class="k53" d="M3655 689l25-27-19 14-24 27z"/><path class="k52" d="M3631 719l24-30-18 14-25 30z"/><path class="k50" d="M3606 751l25-32-19 14-25 32z"/><path class="k49" d="M3581 786l25-35-19 14-25 34z"/><path class="k47" d="M3556 822l25-36-19 13-25 37z"/><path class="k46" d="M3531 862l25-40-19 14-25 39z"/><path class="k44" d="M3506 903l25-41-19 13-25 41z"/><path class="k42" d="M3481 946l25-43-19 13-24 43z"/><path class="k40" d="M3456 992l25-46-18 13-25 45z"/><path class="k38" d="M3432 1039l24-47-18 12-25 46z"/><path class="k36" d="M3407 1088l25-49-19 11-25 49z"/><path class="k34" d="M3382 1138l25-50-19 11-25 50z"/><path class="k31" d="M3357 1190l25-52-19 11-25 52z"/><path class="k29" d="M3332 1244l25-54-19 11-25 53z"/><path class="k26" d="M3307 1298l25-54-19 10-25 54z"/><path class="k24" d="M3282 1354l25-56-19 10-24 55z"/><path class="k58" d="M3823 554l25-12-19 13-24 11z"/><path class="k57" d="M3799 568l24-14-18 12-25 14zM3774 584l25-16-19 12-25 16z"/><path class="k56" d="M3749 604l25-20-19 12-25 20zM3724 626l25-22-19 12-25 22z"/><path class="k55" d="M3699 650l25-24-19 12-25 24z"/><path class="k54" d="M3674 678l25-28-19 12-25 27z"/><path class="k53" d="M3649 707l25-29-19 11-24 30z"/><path class="k52" d="M3624 740l25-33-18 12-25 32z"/><path class="k50" d="M3600 774l24-34-18 11-25 35z"/><path class="k49" d="M3575 812l25-38-19 12-25 36z"/><path class="k47" d="M3550 851l25-39-19 10-25 40z"/><path class="k45" d="M3525 892l25-41-19 11-25 41z"/><path class="k43" d="M3500 936l25-44-19 11-25 43z"/><path class="k41" d="M3475 982l25-46-19 10-25 46z"/><path class="k39" d="M3450 1029l25-47-19 10-24 47z"/><path class="k37" d="M3426 1079l24-50-18 10-25 49z"/><path class="k35" d="M3401 1130l25-51-19 9-25 50z"/><path class="k32" d="M3376 1182l25-52-19 8-25 52z"/><path class="k30" d="M3351 1236l25-54-19 8-25 54z"/><path class="k27" d="M3326 1291l25-55-19 8-25 54z"/><path class="k25" d="M3301 1347l25-56-19 7-25 56z"/><path class="k59" d="M3867 533l25-9-19 10-25 8zM3842 544l25-11-19 9-25 12zM3817 558l25-14-19 10-24 14z"/><path class="k58" d="M3792 575l25-17-18 10-25 16zM3768 594l24-19-18 9-25 20z"/><path class="k57" d="M3743 616l25-22-19 10-25 22z"/><path class="k56" d="M3718 641l25-25-19 10-25 24z"/><path class="k55" d="M3693 668l25-27-19 9-25 28z"/><path class="k54" d="M3668 698l25-30-19 10-25 29z"/><path class="k53" d="M3643 731l25-33-19 9-25 33z"/><path class="k51" d="M3618 766l25-35-19 9-24 34z"/><path class="k50" d="M3594 803l24-37-18 8-25 38z"/><path class="k48" d="M3569 843l25-40-19 9-25 39z"/><path class="k46" d="M3544 884l25-41-19 8-25 41z"/><path class="k45" d="M3519 928l25-44-19 8-25 44z"/><path class="k43" d="M3494 974l25-46-19 8-25 46z"/><path class="k40" d="M3469 1022l25-48-19 8-25 47z"/><path class="k38" d="M3444 1072l25-50-19 7-24 50z"/><path class="k36" d="M3419 1123l25-51-18 7-25 51z"/><path class="k33" d="M3395 1176l24-53-18 7-25 52z"/><path class="k31" d="M3370 1230l25-54-19 6-25 54z"/><path class="k28" d="M3345 1286l25-56-19 6-25 55z"/><path class="k26" d="M3320 1342l25-56-19 5-25 56z"/><path class="k60" d="M3911 517l25-6-19 8-25 5zM3886 526l25-9-19 7-25 9zM3861 537l25-11-19 7-25 11zM3836 551l25-14-19 7-25 14z"/><path class="k59" d="M3811 568l25-17-19 7-25 17zM3786 587l25-19-19 7-24 19z"/><path class="k58" d="M3762 609l24-22-18 7-25 22z"/><path class="k57" d="M3737 634l25-25-19 7-25 25z"/><path class="k56" d="M3712 662l25-28-19 7-25 27z"/><path class="k55" d="M3687 692l25-30-19 6-25 30z"/><path class="k54" d="M3662 724l25-32-19 6-25 33z"/><path class="k53" d="M3637 760l25-36-19 7-25 35z"/><path class="k51" d="M3612 797l25-37-19 6-24 37z"/><path class="k49" d="M3587 837l25-40-18 6-25 40z"/><path class="k48" d="M3563 879l24-42-18 6-25 41z"/><path class="k46" d="M3538 923l25-44-19 5-25 44z"/><path class="k44" d="M3513 969l25-46-19 5-25 46z"/><path class="k41" d="M3488 1017l25-48-19 5-25 48z"/><path class="k39" d="M3463 1067l25-50-19 5-25 50z"/><path class="k37" d="M3438 1119l25-52-19 5-25 51z"/><path class="k34" d="M3413 1172l25-53-19 4-24 53z"/><path class="k32" d="M3389 1226l24-54-18 4-25 54z"/><path class="k29" d="M3364 1282l25-56-19 4-25 56z"/><path class="k27" d="M3339 1339l25-57-19 4-25 56z"/><path class="k61" d="M3954 507l25-3-19 5-24 2zM3930 513l24-6-18 4-25 6zM3905 521l25-8-19 4-25 9zM3880 533l25-12-19 5-25 11zM3855 547l25-14-19 4-25 14z"/><path class="k60" d="M3830 563l25-16-19 4-25 17zM3805 583l25-20-19 5-25 19z"/><path class="k59" d="M3780 605l25-22-19 4-24 22z"/><path class="k58" d="M3755 630l25-25-18 4-25 25z"/><path class="k57" d="M3731 658l24-28-18 4-25 28z"/><path class="k56" d="M3706 688l25-30-19 4-25 30z"/><path class="k55" d="M3681 721l25-33-19 4-25 32z"/><path class="k53" d="M3656 756l25-35-19 3-25 36z"/><path class="k52" d="M3631 794l25-38-19 4-25 37z"/><path class="k50" d="M3606 833l25-39-19 3-25 40z"/><path class="k48" d="M3581 876l25-43-19 4-24 42z"/><path class="k47" d="M3557 920l24-44-18 3-25 44z"/><path class="k44" d="M3532 966l25-46-19 3-25 46z"/><path class="k42" d="M3507 1015l25-49-19 3-25 48z"/><path class="k40" d="M3482 1065l25-50-19 2-25 50z"/><path class="k38" d="M3457 1117l25-52-19 2-25 52z"/><path class="k35" d="M3432 1170l25-53-19 2-25 53z"/><path class="k33" d="M3407 1225l25-55-19 2-24 54z"/><path class="k30" d="M3382 1281l25-56-18 1-25 56z"/><path class="k27" d="M3358 1338l24-57-18 1-25 57z"/><path class="k61" d="M3973 506l25-3-19 1-25 3z"/><path class="k62" d="M3948 511l25-5-19 1-24 6zM3923 520l25-9-18 2-25 8zM3899 531l24-11-18 1-25 12z"/><path class="k61" d="M3874 545l25-14-19 2-25 14zM3849 562l25-17-19 2-25 16zM3824 581l25-19-19 1-25 20z"/><path class="k60" d="M3799 604l25-23-19 2-25 22z"/><path class="k59" d="M3774 629l25-25-19 1-25 25z"/><path class="k58" d="M3749 656l25-27-19 1-24 28z"/><path class="k57" d="M3725 687l24-31-18 2-25 30z"/><path class="k56" d="M3700 720l25-33-19 1-25 33z"/><path class="k54" d="M3675 755l25-35-19 1-25 35z"/><path class="k53" d="M3650 793l25-38-19 1-25 38z"/><path class="k51" d="M3625 833l25-40-19 1-25 39z"/><path class="k49" d="M3600 875l25-42-19 0-25 43z"/><path class="k47" d="M3575 920l25-45-19 1-24 44z"/><path class="k45" d="M3550 966l25-46-18 0-25 46z"/><path class="k43" d="M3526 1015l24-49-18 0-25 49z"/><path class="k41" d="M3501 1065l25-50-19 0-25 50z"/><path class="k38" d="M3476 1117l25-52-19 0-25 52z"/><path class="k36" d="M3451 1170l25-53-19 0-25 53z"/><path class="k33" d="M3426 1226l25-56-19 0-25 55z"/><path class="k31" d="M3401 1282l25-56-19-1-25 56z"/><path class="k28" d="M3376 1339l25-57-19-1-24 57z"/><path class="k62" d="M3992 507l25-3-19-1-25 3zM3967 512l25-5-19-1-25 5zM3942 521l25-9-19-1-25 9zM3917 532l25-11-19-1-24 11zM3893 546l24-14-18-1-25 14zM3868 563l25-17-19-1-25 17z"/><path class="k61" d="M3843 583l25-20-19-1-25 19zM3818 605l25-22-19-2-25 23z"/><path class="k60" d="M3793 630l25-25-19-1-25 25z"/><path class="k59" d="M3768 658l25-28-19-1-25 27z"/><path class="k58" d="M3743 688l25-30-19-2-24 31z"/><path class="k56" d="M3718 721l25-33-18-1-25 33z"/><path class="k55" d="M3694 757l24-36-18-1-25 35z"/><path class="k53" d="M3669 794l25-37-19-2-25 38z"/><path class="k52" d="M3644 835l25-41-19-1-25 40z"/><path class="k50" d="M3619 877l25-42-19-2-25 42z"/><path class="k48" d="M3594 922l25-45-19-2-25 45z"/><path class="k46" d="M3569 968l25-46-19-2-25 46z"/><path class="k44" d="M3544 1017l25-49-19-2-24 49z"/><path class="k41" d="M3520 1067l24-50-18-2-25 50z"/><path class="k39" d="M3495 1119l25-52-19-2-25 52z"/><path class="k36" d="M3470 1173l25-54-19-2-25 53z"/><path class="k34" d="M3445 1228l25-55-19-3-25 56z"/><path class="k31" d="M3420 1285l25-57-19-2-25 56z"/><path class="k29" d="M3395 1343l25-58-19-3-25 57z"/><path class="k60" d="M4110 516l25 8-19-4-25-8z"/><path class="k61" d="M4085 510l25 6-19-4-24-6z"/><path class="k62" d="M4061 508l24 2-18-4-25-2zM4036 508l25 0-19-4-25 0z"/><path class="k63" d="M4011 511l25-3-19-4-25 3zM3986 516l25-5-19-4-25 5zM3961 525l25-9-19-4-25 9zM3936 536l25-11-19-4-25 11zM3911 550l25-14-19-4-24 14z"/><path class="k62" d="M3886 567l25-17-18-4-25 17zM3862 587l24-20-18-4-25 20z"/><path class="k61" d="M3837 609l25-22-19-4-25 22z"/><path class="k60" d="M3812 634l25-25-19-4-25 25z"/><path class="k59" d="M3787 662l25-28-19-4-25 28z"/><path class="k58" d="M3762 692l25-30-19-4-25 30z"/><path class="k57" d="M3737 725l25-33-19-4-25 33z"/><path class="k55" d="M3712 761l25-36-19-4-24 36z"/><path class="k54" d="M3688 799l24-38-18-4-25 37z"/><path class="k52" d="M3663 839l25-40-19-5-25 41z"/><path class="k50" d="M3638 881l25-42-19-4-25 42z"/><path class="k48" d="M3613 926l25-45-19-4-25 45z"/><path class="k46" d="M3588 973l25-47-19-4-25 46z"/><path class="k44" d="M3563 1022l25-49-19-5-25 49z"/><path class="k42" d="M3538 1072l25-50-19-5-24 50z"/><path class="k39" d="M3513 1124l25-52-18-5-25 52z"/><path class="k37" d="M3489 1178l24-54-18-5-25 54z"/><path class="k34" d="M3464 1234l25-56-19-5-25 55z"/><path class="k32" d="M3439 1290l25-56-19-6-25 57z"/><path class="k29" d="M3414 1348l25-58-19-5-25 58z"/><path class="k58" d="M4179 542l25 13-19-7-25-13z"/><path class="k59" d="M4154 531l25 11-19-7-25-11z"/><path class="k60" d="M4129 523l25 8-19-7-25-8z"/><path class="k61" d="M4104 517l25 6-19-7-25-6z"/><path class="k62" d="M4079 514l25 3-19-7-24-2zM4054 514l25 0-18-6-25 0z"/><path class="k63" d="M4030 517l24-3-18-6-25 3zM4005 523l25-6-19-6-25 5zM3980 531l25-8-19-7-25 9zM3955 543l25-12-19-6-25 11zM3930 557l25-14-19-7-25 14zM3905 574l25-17-19-7-25 17z"/><path class="k62" d="M3880 593l25-19-19-7-24 20z"/><path class="k61" d="M3856 616l24-23-18-6-25 22zM3831 641l25-25-19-7-25 25z"/><path class="k60" d="M3806 669l25-28-19-7-25 28z"/><path class="k58" d="M3781 699l25-30-19-7-25 30z"/><path class="k57" d="M3756 732l25-33-19-7-25 33z"/><path class="k56" d="M3731 768l25-36-19-7-25 36z"/><path class="k54" d="M3706 806l25-38-19-7-24 38z"/><path class="k52" d="M3681 846l25-40-18-7-25 40z"/><path class="k51" d="M3657 889l24-43-18-7-25 42z"/><path class="k49" d="M3632 933l25-44-19-8-25 45z"/><path class="k47" d="M3607 980l25-47-19-7-25 47z"/><path class="k44" d="M3582 1029l25-49-19-7-25 49z"/><path class="k42" d="M3557 1080l25-51-19-7-25 50z"/><path class="k40" d="M3532 1132l25-52-19-8-25 52z"/><path class="k37" d="M3507 1186l25-54-19-8-24 54z"/><path class="k35" d="M3483 1241l24-55-18-8-25 56z"/><path class="k32" d="M3458 1298l25-57-19-7-25 56z"/><path class="k29" d="M3433 1356l25-58-19-8-25 58z"/><path class="k58" d="M4198 551l24 14-18-10-25-13z"/><path class="k59" d="M4173 540l25 11-19-9-25-11z"/><path class="k60" d="M4148 532l25 8-19-9-25-8z"/><path class="k61" d="M4123 527l25 5-19-9-25-6z"/><path class="k62" d="M4098 524l25 3-19-10-25-3z"/><path class="k63" d="M4073 524l25 0-19-10-25 0zM4048 527l25-3-19-10-24 3zM4024 532l24-5-18-10-25 6zM3999 541l25-9-19-9-25 8zM3974 552l25-11-19-10-25 12zM3949 566l25-14-19-9-25 14zM3924 583l25-17-19-9-25 17z"/><path class="k62" d="M3899 603l25-20-19-9-25 19zM3874 625l25-22-19-10-24 23z"/><path class="k61" d="M3849 650l25-25-18-9-25 25z"/><path class="k60" d="M3825 678l24-28-18-9-25 28z"/><path class="k59" d="M3800 709l25-31-19-9-25 30z"/><path class="k57" d="M3775 742l25-33-19-10-25 33z"/><path class="k56" d="M3750 777l25-35-19-10-25 36z"/><path class="k54" d="M3725 815l25-38-19-9-25 38z"/><path class="k53" d="M3700 856l25-41-19-9-25 40z"/><path class="k51" d="M3675 898l25-42-19-10-24 43z"/><path class="k49" d="M3651 943l24-45-18-9-25 44z"/><path class="k47" d="M3626 990l25-47-19-10-25 47z"/><path class="k45" d="M3601 1039l25-49-19-10-25 49z"/><path class="k42" d="M3576 1089l25-50-19-10-25 51z"/><path class="k40" d="M3551 1142l25-53-19-9-25 52z"/><path class="k37" d="M3526 1196l25-54-19-10-25 54z"/><path class="k35" d="M3501 1251l25-55-19-10-24 55z"/><path class="k32" d="M3476 1308l25-57-18-10-25 57z"/><path class="k29" d="M3452 1366l24-58-18-10-25 58z"/><path class="k58" d="M4216 564l25 13-19-12-24-14z"/><path class="k59" d="M4192 553l24 11-18-13-25-11z"/><path class="k60" d="M4167 545l25 8-19-13-25-8z"/><path class="k61" d="M4142 539l25 6-19-13-25-5z"/><path class="k62" d="M4117 536l25 3-19-12-25-3z"/><path class="k63" d="M4092 536l25 0-19-12-25 0zM4067 539l25-3-19-12-25 3zM4042 545l25-6-19-12-24 5zM4017 553l25-8-18-13-25 9zM3993 565l24-12-18-12-25 11zM3968 579l25-14-19-13-25 14zM3943 596l25-17-19-13-25 17z"/><path class="k62" d="M3918 615l25-19-19-13-25 20zM3893 638l25-23-19-12-25 22z"/><path class="k61" d="M3868 663l25-25-19-13-25 25z"/><path class="k60" d="M3843 691l25-28-19-13-24 28z"/><path class="k59" d="M3819 721l24-30-18-13-25 31z"/><path class="k57" d="M3794 754l25-33-19-12-25 33z"/><path class="k56" d="M3769 790l25-36-19-12-25 35z"/><path class="k54" d="M3744 828l25-38-19-13-25 38z"/><path class="k53" d="M3719 868l25-40-19-13-25 41z"/><path class="k51" d="M3694 910l25-42-19-12-25 42z"/><path class="k49" d="M3669 955l25-45-19-12-24 45z"/><path class="k47" d="M3644 1002l25-47-18-12-25 47z"/><path class="k45" d="M3620 1051l24-49-18-12-25 49z"/><path class="k42" d="M3595 1102l25-51-19-12-25 50z"/><path class="k40" d="M3570 1154l25-52-19-13-25 53z"/><path class="k37" d="M3545 1208l25-54-19-12-25 54z"/><path class="k35" d="M3520 1263l25-55-19-12-25 55z"/><path class="k32" d="M3495 1320l25-57-19-12-25 57z"/><path class="k29" d="M3470 1378l25-58-19-12-24 58z"/><path class="k54" d="M4310 627l25 20-19-15-25-20z"/><path class="k55" d="M4285 608l25 19-19-15-25-19z"/><path class="k57" d="M4260 592l25 16-19-15-25-16z"/><path class="k58" d="M4235 579l25 13-19-15-25-13z"/><path class="k59" d="M4210 568l25 11-19-15-24-11z"/><path class="k60" d="M4185 560l25 8-18-15-25-8z"/><path class="k61" d="M4161 554l24 6-18-15-25-6z"/><path class="k62" d="M4136 551l25 3-19-15-25-3z"/><path class="k63" d="M4111 551l25 0-19-15-25 0zM4086 554l25-3-19-15-25 3zM4061 560l25-6-19-15-25 6zM4036 568l25-8-19-15-25 8zM4011 580l25-12-19-15-24 12zM3987 594l24-14-18-15-25 14zM3962 611l25-17-19-15-25 17z"/><path class="k62" d="M3937 630l25-19-19-15-25 19z"/><path class="k61" d="M3912 653l25-23-19-15-25 23zM3887 678l25-25-19-15-25 25z"/><path class="k60" d="M3862 706l25-28-19-15-25 28z"/><path class="k59" d="M3837 736l25-30-19-15-24 30z"/><path class="k57" d="M3812 769l25-33-18-15-25 33z"/><path class="k56" d="M3788 805l24-36-18-15-25 36z"/><path class="k54" d="M3763 843l25-38-19-15-25 38z"/><path class="k53" d="M3738 883l25-40-19-15-25 40z"/><path class="k51" d="M3713 925l25-42-19-15-25 42z"/><path class="k49" d="M3688 970l25-45-19-15-25 45z"/><path class="k47" d="M3663 1017l25-47-19-15-25 47z"/><path class="k44" d="M3638 1066l25-49-19-15-24 49z"/><path class="k42" d="M3614 1116l24-50-18-15-25 51z"/><path class="k40" d="M3589 1169l25-53-19-14-25 52z"/><path class="k37" d="M3564 1222l25-53-19-15-25 54z"/><path class="k35" d="M3539 1278l25-56-19-14-25 55z"/><path class="k32" d="M3514 1335l25-57-19-15-25 57z"/><path class="k29" d="M3489 1392l25-57-19-15-25 58z"/><path class="k53" d="M4329 644l24 21-18-18-25-20z"/><path class="k55" d="M4304 626l25 18-19-17-25-19z"/><path class="k57" d="M4279 610l25 16-19-18-25-16z"/><path class="k58" d="M4254 596l25 14-19-18-25-13z"/><path class="k59" d="M4229 586l25 10-19-17-25-11z"/><path class="k60" d="M4204 578l25 8-19-18-25-8z"/><path class="k61" d="M4179 572l25 6-19-18-24-6z"/><path class="k62" d="M4155 569l24 3-18-18-25-3zM4130 569l25 0-19-18-25 0z"/><path class="k63" d="M4105 572l25-3-19-18-25 3zM4080 578l25-6-19-18-25 6zM4055 586l25-8-19-18-25 8zM4030 598l25-12-19-18-25 12zM4005 612l25-14-19-18-24 14z"/><path class="k62" d="M3980 629l25-17-18-18-25 17zM3956 648l24-19-18-18-25 19z"/><path class="k61" d="M3931 671l25-23-19-18-25 23z"/><path class="k60" d="M3906 696l25-25-19-18-25 25z"/><path class="k59" d="M3881 724l25-28-19-18-25 28z"/><path class="k58" d="M3856 754l25-30-19-18-25 30z"/><path class="k57" d="M3831 787l25-33-19-18-25 33z"/><path class="k56" d="M3806 822l25-35-19-18-24 36z"/><path class="k54" d="M3782 860l24-38-18-17-25 38z"/><path class="k52" d="M3757 900l25-40-19-17-25 40z"/><path class="k50" d="M3732 943l25-43-19-17-25 42z"/><path class="k48" d="M3707 987l25-44-19-18-25 45z"/><path class="k46" d="M3682 1034l25-47-19-17-25 47z"/><path class="k44" d="M3657 1083l25-49-19-17-25 49z"/><path class="k42" d="M3632 1133l25-50-19-17-24 50z"/><path class="k39" d="M3607 1186l25-53-18-17-25 53z"/><path class="k37" d="M3583 1239l24-53-18-17-25 53z"/><path class="k34" d="M3558 1295l25-56-19-17-25 56z"/><path class="k32" d="M3533 1351l25-56-19-17-25 57z"/><path class="k29" d="M3508 1409l25-58-19-16-25 57z"/><path class="k47" d="M4422 734l25 27-19-20-25-27z"/><path class="k49" d="M4397 708l25 26-19-20-25-26z"/><path class="k51" d="M4372 685l25 23-19-20-25-23z"/><path class="k53" d="M4347 665l25 20-19-20-24-21z"/><path class="k55" d="M4323 646l24 19-18-21-25-18z"/><path class="k56" d="M4298 630l25 16-19-20-25-16z"/><path class="k57" d="M4273 617l25 13-19-20-25-14z"/><path class="k59" d="M4248 606l25 11-19-21-25-10z"/><path class="k60" d="M4223 598l25 8-19-20-25-8z"/><path class="k61" d="M4198 593l25 5-19-20-25-6zM4173 590l25 3-19-21-24-3z"/><path class="k62" d="M4148 590l25 0-18-21-25 0zM4124 593l24-3-18-21-25 3zM4099 599l25-6-19-21-25 6z"/><path class="k63" d="M4074 607l25-8-19-21-25 8zM4049 618l25-11-19-21-25 12z"/><path class="k62" d="M4024 632l25-14-19-20-25 14zM3999 649l25-17-19-20-25 17z"/><path class="k61" d="M3974 669l25-20-19-20-24 19zM3950 691l24-22-18-21-25 23z"/><path class="k60" d="M3925 716l25-25-19-20-25 25z"/><path class="k59" d="M3900 744l25-28-19-20-25 28z"/><path class="k58" d="M3875 774l25-30-19-20-25 30z"/><path class="k57" d="M3850 807l25-33-19-20-25 33z"/><path class="k55" d="M3825 843l25-36-19-20-25 35z"/><path class="k54" d="M3800 880l25-37-19-21-24 38z"/><path class="k52" d="M3775 921l25-41-18-20-25 40z"/><path class="k50" d="M3751 963l24-42-18-21-25 43z"/><path class="k48" d="M3726 1007l25-44-19-20-25 44z"/><path class="k46" d="M3701 1054l25-47-19-20-25 47z"/><path class="k44" d="M3676 1103l25-49-19-20-25 49z"/><path class="k42" d="M3651 1153l25-50-19-20-25 50z"/><path class="k39" d="M3626 1205l25-52-19-20-25 53z"/><path class="k37" d="M3601 1259l25-54-19-19-24 53z"/><path class="k34" d="M3577 1314l24-55-18-20-25 56z"/><path class="k31" d="M3552 1370l25-56-19-19-25 56z"/><path class="k29" d="M3527 1428l25-58-19-19-25 58z"/><path class="k47" d="M4441 756l25 27-19-22-25-27z"/><path class="k49" d="M4416 731l25 25-19-22-25-26z"/><path class="k51" d="M4391 708l25 23-19-23-25-23z"/><path class="k52" d="M4366 687l25 21-19-23-25-20z"/><path class="k54" d="M4341 669l25 18-19-22-24-19z"/><path class="k56" d="M4316 653l25 16-18-23-25-16z"/><path class="k57" d="M4292 640l24 13-18-23-25-13z"/><path class="k58" d="M4267 630l25 10-19-23-25-11z"/><path class="k59" d="M4242 622l25 8-19-24-25-8z"/><path class="k60" d="M4217 616l25 6-19-24-25-5z"/><path class="k61" d="M4192 614l25 2-19-23-25-3zM4167 614l25 0-19-24-25 0z"/><path class="k62" d="M4142 617l25-3-19-24-24 3zM4118 622l24-5-18-24-25 6zM4093 631l25-9-19-23-25 8zM4068 642l25-11-19-24-25 11zM4043 656l25-14-19-24-25 14z"/><path class="k61" d="M4018 673l25-17-19-24-25 17zM3993 692l25-19-19-24-25 20z"/><path class="k60" d="M3968 715l25-23-19-23-24 22z"/><path class="k59" d="M3943 740l25-25-18-24-25 25z"/><path class="k58" d="M3919 767l24-27-18-24-25 28z"/><path class="k57" d="M3894 798l25-31-19-23-25 30z"/><path class="k56" d="M3869 830l25-32-19-24-25 33z"/><path class="k55" d="M3844 866l25-36-19-23-25 36z"/><path class="k53" d="M3819 903l25-37-19-23-25 37z"/><path class="k51" d="M3794 943l25-40-19-23-25 41z"/><path class="k49" d="M3769 986l25-43-19-22-24 42z"/><path class="k47" d="M3745 1030l24-44-18-23-25 44z"/><path class="k45" d="M3720 1076l25-46-19-23-25 47z"/><path class="k43" d="M3695 1125l25-49-19-22-25 49z"/><path class="k41" d="M3670 1175l25-50-19-22-25 50z"/><path class="k39" d="M3645 1227l25-52-19-22-25 52z"/><path class="k36" d="M3620 1280l25-53-19-22-25 54z"/><path class="k34" d="M3595 1335l25-55-19-21-24 55z"/><path class="k31" d="M3570 1391l25-56-18-21-25 56z"/><path class="k28" d="M3546 1449l24-58-18-21-25 58z"/><path class="k37" d="M4559 901l25 35-19-25-25-34z"/><path class="k40" d="M4534 868l25 33-19-24-25-33z"/><path class="k42" d="M4509 837l25 31-19-24-24-31z"/><path class="k44" d="M4484 808l25 29-18-24-25-30z"/><path class="k46" d="M4460 781l24 27-18-25-25-27z"/><path class="k48" d="M4435 756l25 25-19-25-25-25z"/><path class="k50" d="M4410 734l25 22-19-25-25-23z"/><path class="k52" d="M4385 713l25 21-19-26-25-21z"/><path class="k53" d="M4360 695l25 18-19-26-25-18z"/><path class="k55" d="M4335 679l25 16-19-26-25-16z"/><path class="k56" d="M4310 666l25 13-19-26-24-13z"/><path class="k57" d="M4286 656l24 10-18-26-25-10z"/><path class="k58" d="M4261 648l25 8-19-26-25-8z"/><path class="k59" d="M4236 642l25 6-19-26-25-6z"/><path class="k60" d="M4211 640l25 2-19-26-25-2zM4186 640l25 0-19-26-25 0z"/><path class="k61" d="M4161 643l25-3-19-26-25 3zM4136 649l25-6-19-26-24 5zM4111 657l25-8-18-27-25 9zM4087 668l24-11-18-26-25 11zM4062 682l25-14-19-26-25 14zM4037 699l25-17-19-26-25 17z"/><path class="k60" d="M4012 719l25-20-19-26-25 19z"/><path class="k59" d="M3987 741l25-22-19-27-25 23zM3962 766l25-25-19-26-25 25z"/><path class="k58" d="M3937 793l25-27-19-26-24 27z"/><path class="k56" d="M3913 823l24-30-18-26-25 31z"/><path class="k55" d="M3888 856l25-33-19-25-25 32z"/><path class="k54" d="M3863 891l25-35-19-26-25 36z"/><path class="k52" d="M3838 929l25-38-19-25-25 37z"/><path class="k51" d="M3813 969l25-40-19-26-25 40z"/><path class="k49" d="M3788 1011l25-42-19-26-25 43z"/><path class="k47" d="M3763 1055l25-44-19-25-24 44z"/><path class="k45" d="M3738 1101l25-46-18-25-25 46z"/><path class="k43" d="M3714 1149l24-48-18-25-25 49z"/><path class="k40" d="M3689 1199l25-50-19-24-25 50z"/><path class="k38" d="M3664 1251l25-52-19-24-25 52z"/><path class="k35" d="M3639 1304l25-53-19-24-25 53z"/><path class="k33" d="M3614 1359l25-55-19-24-25 55z"/><path class="k30" d="M3589 1415l25-56-19-24-25 56z"/><path class="k28" d="M3564 1472l25-57-19-24-24 58z"/><path class="k39" d="M4553 895l25 33-19-27-25-33z"/><path class="k41" d="M4528 865l25 30-19-27-25-31z"/><path class="k43" d="M4503 836l25 29-19-28-25-29z"/><path class="k45" d="M4478 809l25 27-19-28-24-27z"/><path class="k47" d="M4454 784l24 25-18-28-25-25z"/><path class="k49" d="M4429 761l25 23-19-28-25-22z"/><path class="k51" d="M4404 741l25 20-19-27-25-21z"/><path class="k52" d="M4379 723l25 18-19-28-25-18z"/><path class="k54" d="M4354 708l25 15-19-28-25-16z"/><path class="k55" d="M4329 695l25 13-19-29-25-13z"/><path class="k56" d="M4304 684l25 11-19-29-24-10z"/><path class="k57" d="M4279 676l25 8-18-28-25-8z"/><path class="k58" d="M4255 671l24 5-18-28-25-6z"/><path class="k59" d="M4230 669l25 2-19-29-25-2z"/><path class="k60" d="M4205 669l25 0-19-29-25 0zM4180 672l25-3-19-29-25 3zM4155 678l25-6-19-29-25 6zM4130 686l25-8-19-29-25 8zM4105 697l25-11-19-29-24 11zM4081 711l24-14-18-29-25 14zM4056 728l25-17-19-29-25 17z"/><path class="k59" d="M4031 747l25-19-19-29-25 20zM4006 770l25-23-19-28-25 22z"/><path class="k58" d="M3981 794l25-24-19-29-25 25z"/><path class="k57" d="M3956 822l25-28-19-28-25 27z"/><path class="k56" d="M3931 852l25-30-19-29-24 30z"/><path class="k54" d="M3906 884l25-32-18-29-25 33z"/><path class="k53" d="M3882 919l24-35-18-28-25 35z"/><path class="k51" d="M3857 957l25-38-19-28-25 38z"/><path class="k50" d="M3832 996l25-39-19-28-25 40z"/><path class="k48" d="M3807 1038l25-42-19-27-25 42z"/><path class="k46" d="M3782 1082l25-44-19-27-25 44z"/><path class="k44" d="M3757 1128l25-46-19-27-25 46z"/><path class="k42" d="M3732 1176l25-48-19-27-24 48z"/><path class="k40" d="M3708 1226l24-50-18-27-25 50z"/><path class="k37" d="M3683 1277l25-51-19-27-25 52z"/><path class="k35" d="M3658 1330l25-53-19-26-25 53z"/><path class="k32" d="M3633 1385l25-55-19-26-25 55z"/><path class="k30" d="M3608 1440l25-55-19-26-25 56z"/><path class="k27" d="M3583 1497l25-57-19-25-25 57z"/><path class="k33" d="M4622 990l24 36-18-28-25-36z"/><path class="k36" d="M4597 957l25 33-19-28-25-34z"/><path class="k38" d="M4572 924l25 33-19-29-25-33z"/><path class="k40" d="M4547 894l25 30-19-29-25-30z"/><path class="k42" d="M4522 865l25 29-19-29-25-29z"/><path class="k44" d="M4497 839l25 26-19-29-25-27z"/><path class="k46" d="M4472 814l25 25-19-30-24-25z"/><path class="k48" d="M4447 792l25 22-18-30-25-23z"/><path class="k50" d="M4423 772l24 20-18-31-25-20z"/><path class="k51" d="M4398 754l25 18-19-31-25-18z"/><path class="k53" d="M4373 739l25 15-19-31-25-15z"/><path class="k54" d="M4348 726l25 13-19-31-25-13z"/><path class="k55" d="M4323 715l25 11-19-31-25-11z"/><path class="k56" d="M4298 708l25 7-19-31-25-8z"/><path class="k57" d="M4273 703l25 5-19-32-24-5z"/><path class="k58" d="M4249 700l24 3-18-32-25-2z"/><path class="k59" d="M4224 700l25 0-19-31-25 0zM4199 703l25-3-19-31-25 3zM4174 709l25-6-19-31-25 6zM4149 718l25-9-19-31-25 8zM4124 729l25-11-19-32-25 11zM4099 743l25-14-19-32-24 14zM4074 759l25-16-18-32-25 17z"/><path class="k58" d="M4050 779l24-20-18-31-25 19z"/><path class="k57" d="M4025 801l25-22-19-32-25 23zM4000 826l25-25-19-31-25 24z"/><path class="k56" d="M3975 853l25-27-19-32-25 28z"/><path class="k55" d="M3950 883l25-30-19-31-25 30z"/><path class="k53" d="M3925 915l25-32-19-31-25 32z"/><path class="k52" d="M3900 950l25-35-19-31-24 35z"/><path class="k50" d="M3876 987l24-37-18-31-25 38z"/><path class="k49" d="M3851 1027l25-40-19-30-25 39z"/><path class="k47" d="M3826 1068l25-41-19-31-25 42z"/><path class="k45" d="M3801 1112l25-44-19-30-25 44z"/><path class="k43" d="M3776 1158l25-46-19-30-25 46z"/><path class="k41" d="M3751 1205l25-47-19-30-25 48z"/><path class="k39" d="M3726 1255l25-50-19-29-24 50z"/><path class="k36" d="M3701 1306l25-51-18-29-25 51z"/><path class="k34" d="M3677 1359l24-53-18-29-25 53z"/><path class="k31" d="M3652 1413l25-54-19-29-25 55z"/><path class="k29" d="M3627 1468l25-55-19-28-25 55z"/><path class="k26" d="M3602 1524l25-56-19-28-25 57z"/><path class="k24" d="M4715 1130l25 38-19-29-25-39z"/><path class="k30" d="M4665 1056l25 36-19-30-25-36z"/><path class="k32" d="M4640 1021l25 35-19-30-24-36z"/><path class="k35" d="M4615 988l25 33-18-31-25-33z"/><path class="k37" d="M4591 956l24 32-18-31-25-33z"/><path class="k39" d="M4566 926l25 30-19-32-25-30z"/><path class="k41" d="M4541 897l25 29-19-32-25-29z"/><path class="k43" d="M4516 871l25 26-19-32-25-26z"/><path class="k45" d="M4491 847l25 24-19-32-25-25z"/><path class="k47" d="M4466 825l25 22-19-33-25-22z"/><path class="k49" d="M4441 805l25 20-19-33-24-20z"/><path class="k50" d="M4417 787l24 18-18-33-25-18z"/><path class="k52" d="M4392 772l25 15-19-33-25-15z"/><path class="k53" d="M4367 759l25 13-19-33-25-13z"/><path class="k54" d="M4342 749l25 10-19-33-25-11z"/><path class="k55" d="M4317 742l25 7-19-34-25-7z"/><path class="k56" d="M4292 737l25 5-19-34-25-5z"/><path class="k57" d="M4267 734l25 3-19-34-24-3zM4242 735l25-1-18-34-25 0z"/><path class="k58" d="M4218 738l24-3-18-35-25 3zM4193 743l25-5-19-35-25 6zM4168 752l25-9-19-34-25 9zM4143 763l25-11-19-34-25 11zM4118 777l25-14-19-34-25 14z"/><path class="k57" d="M4093 794l25-17-19-34-25 16zM4068 813l25-19-19-35-24 20z"/><path class="k56" d="M4044 835l24-22-18-34-25 22z"/><path class="k55" d="M4019 860l25-25-19-34-25 25z"/><path class="k54" d="M3994 887l25-27-19-34-25 27z"/><path class="k53" d="M3969 916l25-29-19-34-25 30z"/><path class="k52" d="M3944 949l25-33-19-33-25 32z"/><path class="k51" d="M3919 983l25-34-19-34-25 35z"/><path class="k49" d="M3894 1020l25-37-19-33-24 37z"/><path class="k48" d="M3869 1059l25-39-18-33-25 40z"/><path class="k46" d="M3845 1101l24-42-18-32-25 41z"/><path class="k44" d="M3820 1144l25-43-19-33-25 44z"/><path class="k42" d="M3795 1190l25-46-19-32-25 46z"/><path class="k40" d="M3770 1237l25-47-19-32-25 47z"/><path class="k38" d="M3745 1286l25-49-19-32-25 50z"/><path class="k35" d="M3720 1337l25-51-19-31-25 51z"/><path class="k33" d="M3695 1389l25-52-19-31-24 53z"/><path class="k30" d="M3671 1443l24-54-18-30-25 54z"/><path class="k28" d="M3646 1498l25-55-19-30-25 55z"/><path class="k25" d="M3621 1553l25-55-19-30-25 56z"/><path class="k26" d="M4709 1124l25 37-19-31-25-38z"/><path class="k28" d="M4684 1089l25 35-19-32-25-36z"/><path class="k31" d="M4659 1054l25 35-19-33-25-35z"/><path class="k33" d="M4634 1021l25 33-19-33-25-33z"/><path class="k36" d="M4609 990l25 31-19-33-24-32z"/><path class="k38" d="M4585 960l24 30-18-34-25-30z"/><path class="k40" d="M4560 932l25 28-19-34-25-29z"/><path class="k42" d="M4535 906l25 26-19-35-25-26z"/><path class="k44" d="M4510 882l25 24-19-35-25-24z"/><path class="k46" d="M4485 860l25 22-19-35-25-22z"/><path class="k47" d="M4460 840l25 20-19-35-25-20z"/><path class="k49" d="M4435 823l25 17-19-35-24-18z"/><path class="k50" d="M4410 808l25 15-18-36-25-15z"/><path class="k52" d="M4386 796l24 12-18-36-25-13z"/><path class="k53" d="M4361 786l25 10-19-37-25-10z"/><path class="k54" d="M4336 778l25 8-19-37-25-7z"/><path class="k55" d="M4311 773l25 5-19-36-25-5zM4286 771l25 2-19-36-25-3z"/><path class="k56" d="M4261 771l25 0-19-37-25 1zM4236 774l25-3-19-36-24 3z"/><path class="k57" d="M4212 780l24-6-18-36-25 5zM4187 789l25-9-19-37-25 9zM4162 800l25-11-19-37-25 11z"/><path class="k56" d="M4137 814l25-14-19-37-25 14zM4112 830l25-16-19-37-25 17zM4087 849l25-19-19-36-25 19z"/><path class="k55" d="M4062 871l25-22-19-36-24 22z"/><path class="k54" d="M4037 896l25-25-18-36-25 25z"/><path class="k53" d="M4013 923l24-27-18-36-25 27z"/><path class="k52" d="M3988 952l25-29-19-36-25 29z"/><path class="k51" d="M3963 984l25-32-19-36-25 33z"/><path class="k49" d="M3938 1019l25-35-19-35-25 34z"/><path class="k48" d="M3913 1056l25-37-19-36-25 37z"/><path class="k46" d="M3888 1094l25-38-19-36-25 39z"/><path class="k45" d="M3863 1136l25-42-19-35-24 42z"/><path class="k43" d="M3839 1179l24-43-18-35-25 43z"/><path class="k41" d="M3814 1224l25-45-19-35-25 46z"/><path class="k39" d="M3789 1271l25-47-19-34-25 47z"/><path class="k36" d="M3764 1320l25-49-19-34-25 49z"/><path class="k34" d="M3739 1370l25-50-19-34-25 51z"/><path class="k32" d="M3714 1422l25-52-19-33-25 52z"/><path class="k29" d="M3689 1475l25-53-19-33-24 54z"/><path class="k27" d="M3664 1529l25-54-18-32-25 55z"/><path class="k24" d="M3640 1585l24-56-18-31-25 55z"/><path class="k22" d="M4753 1195l24 37-18-33-25-38z"/><path class="k25" d="M4728 1158l25 37-19-34-25-37z"/><path class="k27" d="M4703 1123l25 35-19-34-25-35z"/><path class="k30" d="M4678 1089l25 34-19-34-25-35z"/><path class="k32" d="M4653 1056l25 33-19-35-25-33z"/><path class="k34" d="M4628 1025l25 31-19-35-25-31z"/><path class="k37" d="M4603 996l25 29-19-35-24-30z"/><path class="k39" d="M4578 968l25 28-18-36-25-28z"/><path class="k41" d="M4554 943l24 25-18-36-25-26z"/><path class="k43" d="M4529 919l25 24-19-37-25-24z"/><path class="k44" d="M4504 898l25 21-19-37-25-22z"/><path class="k46" d="M4479 878l25 20-19-38-25-20z"/><path class="k48" d="M4454 861l25 17-19-38-25-17z"/><path class="k49" d="M4429 846l25 15-19-38-25-15z"/><path class="k50" d="M4404 834l25 12-19-38-24-12z"/><path class="k51" d="M4380 824l24 10-18-38-25-10z"/><path class="k52" d="M4355 817l25 7-19-38-25-8z"/><path class="k53" d="M4330 812l25 5-19-39-25-5z"/><path class="k54" d="M4305 810l25 2-19-39-25-2zM4280 810l25 0-19-39-25 0z"/><path class="k55" d="M4255 814l25-4-19-39-25 3zM4230 819l25-5-19-40-24 6zM4205 828l25-9-18-39-25 9zM4181 839l24-11-18-39-25 11zM4156 853l25-14-19-39-25 14zM4131 869l25-16-19-39-25 16z"/><path class="k54" d="M4106 889l25-20-19-39-25 19z"/><path class="k53" d="M4081 910l25-21-19-40-25 22zM4056 935l25-25-19-39-25 25z"/><path class="k52" d="M4031 961l25-26-19-39-24 27z"/><path class="k51" d="M4007 991l24-30-18-38-25 29z"/><path class="k49" d="M3982 1023l25-32-19-39-25 32z"/><path class="k48" d="M3957 1057l25-34-19-39-25 35z"/><path class="k47" d="M3932 1093l25-36-19-38-25 37z"/><path class="k45" d="M3907 1132l25-39-19-37-25 38z"/><path class="k43" d="M3882 1173l25-41-19-38-25 42z"/><path class="k41" d="M3857 1215l25-42-19-37-24 43z"/><path class="k39" d="M3832 1260l25-45-18-36-25 45z"/><path class="k37" d="M3808 1307l24-47-18-36-25 47z"/><path class="k35" d="M3783 1355l25-48-19-36-25 49z"/><path class="k33" d="M3758 1405l25-50-19-35-25 50z"/><path class="k30" d="M3733 1456l25-51-19-35-25 52z"/><path class="k28" d="M3708 1509l25-53-19-34-25 53z"/><path class="k25" d="M3683 1563l25-54-19-34-25 54z"/><path class="k23" d="M3658 1618l25-55-19-34-24 56z"/><path class="k21" d="M4771 1230l25 37-19-35-24-37z"/><path class="k23" d="M4746 1194l25 36-18-35-25-37z"/><path class="k26" d="M4722 1159l24 35-18-36-25-35z"/><path class="k28" d="M4697 1126l25 33-19-36-25-34z"/><path class="k31" d="M4672 1094l25 32-19-37-25-33z"/><path class="k33" d="M4647 1063l25 31-19-38-25-31z"/><path class="k35" d="M4622 1034l25 29-19-38-25-29z"/><path class="k37" d="M4597 1007l25 27-19-38-25-28z"/><path class="k39" d="M4572 982l25 25-19-39-24-25z"/><path class="k41" d="M4548 959l24 23-18-39-25-24z"/><path class="k43" d="M4523 937l25 22-19-40-25-21z"/><path class="k45" d="M4498 918l25 19-19-39-25-20z"/><path class="k46" d="M4473 902l25 16-19-40-25-17z"/><path class="k47" d="M4448 887l25 15-19-41-25-15z"/><path class="k49" d="M4423 875l25 12-19-41-25-12z"/><path class="k50" d="M4398 865l25 10-19-41-24-10z"/><path class="k51" d="M4373 858l25 7-18-41-25-7z"/><path class="k52" d="M4349 854l24 4-18-41-25-5zM4324 851l25 3-19-42-25-2z"/><path class="k53" d="M4299 852l25-1-19-41-25 0zM4274 855l25-3-19-42-25 4zM4249 861l25-6-19-41-25 5z"/><path class="k54" d="M4224 870l25-9-19-42-25 9zM4199 881l25-11-19-42-24 11z"/><path class="k53" d="M4175 894l24-13-18-42-25 14zM4150 911l25-17-19-41-25 16z"/><path class="k52" d="M4125 930l25-19-19-42-25 20zM4100 952l25-22-19-41-25 21z"/><path class="k51" d="M4075 976l25-24-19-42-25 25z"/><path class="k50" d="M4050 1002l25-26-19-41-25 26z"/><path class="k49" d="M4025 1032l25-30-19-41-24 30z"/><path class="k48" d="M4000 1063l25-31-18-41-25 32z"/><path class="k46" d="M3976 1097l24-34-18-40-25 34z"/><path class="k45" d="M3951 1133l25-36-19-40-25 36z"/><path class="k43" d="M3926 1171l25-38-19-40-25 39z"/><path class="k42" d="M3901 1212l25-41-19-39-25 41z"/><path class="k40" d="M3876 1254l25-42-19-39-25 42z"/><path class="k38" d="M3851 1299l25-45-19-39-25 45z"/><path class="k36" d="M3826 1345l25-46-19-39-24 47z"/><path class="k34" d="M3802 1393l24-48-18-38-25 48z"/><path class="k31" d="M3777 1442l25-49-19-38-25 50z"/><path class="k29" d="M3752 1493l25-51-19-37-25 51z"/><path class="k27" d="M3727 1545l25-52-19-37-25 53z"/><path class="k24" d="M3702 1598l25-53-19-36-25 54z"/><path class="k22" d="M3677 1653l25-55-19-35-25 55z"/><path class="k19" d="M4790 1267l25 36-19-36-25-37z"/><path class="k22" d="M4765 1232l25 35-19-37-25-36z"/><path class="k24" d="M4740 1198l25 34-19-38-24-35z"/><path class="k27" d="M4716 1165l24 33-18-39-25-33z"/><path class="k29" d="M4691 1133l25 32-19-39-25-32z"/><path class="k31" d="M4666 1103l25 30-19-39-25-31z"/><path class="k34" d="M4641 1075l25 28-19-40-25-29z"/><path class="k36" d="M4616 1048l25 27-19-41-25-27z"/><path class="k38" d="M4591 1023l25 25-19-41-25-25z"/><path class="k39" d="M4566 1000l25 23-19-41-24-23z"/><path class="k41" d="M4541 979l25 21-18-41-25-22z"/><path class="k43" d="M4517 961l24 18-18-42-25-19z"/><path class="k44" d="M4492 944l25 17-19-43-25-16z"/><path class="k46" d="M4467 930l25 14-19-42-25-15z"/><path class="k47" d="M4442 918l25 12-19-43-25-12z"/><path class="k48" d="M4417 909l25 9-19-43-25-10z"/><path class="k49" d="M4392 902l25 7-19-44-25-7z"/><path class="k50" d="M4367 897l25 5-19-44-24-4z"/><path class="k51" d="M4343 895l24 2-18-43-25-3zM4318 896l25-1-19-44-25 1zM4293 899l25-3-19-44-25 3z"/><path class="k52" d="M4268 905l25-6-19-44-25 6zM4243 914l25-9-19-44-25 9zM4218 925l25-11-19-44-25 11zM4193 938l25-13-19-44-24 13z"/><path class="k51" d="M4168 955l25-17-18-44-25 17zM4144 974l24-19-18-44-25 19z"/><path class="k50" d="M4119 995l25-21-19-44-25 22z"/><path class="k49" d="M4094 1019l25-24-19-43-25 24z"/><path class="k48" d="M4069 1046l25-27-19-43-25 26z"/><path class="k47" d="M4044 1074l25-28-19-44-25 30z"/><path class="k46" d="M4019 1106l25-32-19-42-25 31z"/><path class="k45" d="M3994 1139l25-33-19-43-24 34z"/><path class="k43" d="M3970 1175l24-36-18-42-25 36z"/><path class="k42" d="M3945 1213l25-38-19-42-25 38z"/><path class="k40" d="M3920 1253l25-40-19-42-25 41z"/><path class="k38" d="M3895 1295l25-42-19-41-25 42z"/><path class="k36" d="M3870 1339l25-44-19-41-25 45z"/><path class="k34" d="M3845 1385l25-46-19-40-25 46z"/><path class="k32" d="M3820 1432l25-47-19-40-24 48z"/><path class="k30" d="M3795 1481l25-49-18-39-25 49z"/><path class="k28" d="M3771 1531l24-50-18-39-25 51z"/><path class="k25" d="M3746 1583l25-52-19-38-25 52z"/><path class="k23" d="M3721 1635l25-52-19-38-25 53z"/><path class="k20" d="M3696 1689l25-54-19-37-25 55z"/><path class="k18" d="M4809 1306l25 35-19-38-25-36z"/><path class="k20" d="M4784 1271l25 35-19-39-25-35z"/><path class="k23" d="M4759 1238l25 33-19-39-25-34z"/><path class="k25" d="M4734 1205l25 33-19-40-24-33z"/><path class="k28" d="M4709 1174l25 31-18-40-25-32z"/><path class="k30" d="M4685 1145l24 29-18-41-25-30z"/><path class="k32" d="M4660 1117l25 28-19-42-25-28z"/><path class="k34" d="M4635 1091l25 26-19-42-25-27z"/><path class="k36" d="M4610 1066l25 25-19-43-25-25z"/><path class="k38" d="M4585 1044l25 22-19-43-25-23z"/><path class="k39" d="M4560 1023l25 21-19-44-25-21z"/><path class="k41" d="M4535 1005l25 18-19-44-24-18z"/><path class="k43" d="M4511 989l24 16-18-44-25-17z"/><path class="k44" d="M4486 975l25 14-19-45-25-14z"/><path class="k45" d="M4461 963l25 12-19-45-25-12z"/><path class="k46" d="M4436 954l25 9-19-45-25-9z"/><path class="k47" d="M4411 947l25 7-19-45-25-7z"/><path class="k48" d="M4386 943l25 4-19-45-25-5z"/><path class="k49" d="M4361 941l25 2-19-46-24-2zM4336 942l25-1-18-46-25 1z"/><path class="k50" d="M4312 945l24-3-18-46-25 3zM4287 951l25-6-19-46-25 6zM4262 960l25-9-19-46-25 9zM4237 971l25-11-19-46-25 11zM4212 984l25-13-19-46-25 13z"/><path class="k49" d="M4187 1001l25-17-19-46-25 17zM4162 1019l25-18-19-46-24 19z"/><path class="k48" d="M4138 1041l24-22-18-45-25 21z"/><path class="k47" d="M4113 1065l25-24-19-46-25 24zM4088 1091l25-26-19-46-25 27z"/><path class="k45" d="M4063 1120l25-29-19-45-25 28z"/><path class="k44" d="M4038 1151l25-31-19-46-25 32z"/><path class="k43" d="M4013 1184l25-33-19-45-25 33z"/><path class="k42" d="M3988 1219l25-35-19-45-24 36z"/><path class="k40" d="M3963 1257l25-38-18-44-25 38z"/><path class="k38" d="M3939 1296l24-39-18-44-25 40z"/><path class="k36" d="M3914 1338l25-42-19-43-25 42z"/><path class="k35" d="M3889 1381l25-43-19-43-25 44z"/><path class="k33" d="M3864 1427l25-46-19-42-25 46z"/><path class="k30" d="M3839 1473l25-46-19-42-25 47z"/><path class="k28" d="M3814 1522l25-49-19-41-25 49z"/><path class="k26" d="M3789 1571l25-49-19-41-24 50z"/><path class="k24" d="M3765 1622l24-51-18-40-25 52z"/><path class="k21" d="M3740 1674l25-52-19-39-25 52z"/><path class="k19" d="M3715 1727l25-53-19-39-25 54z"/><path class="k16" d="M4828 1346l25 35-19-40-25-35z"/><path class="k19" d="M4803 1312l25 34-19-40-25-35z"/><path class="k21" d="M4778 1279l25 33-19-41-25-33z"/><path class="k24" d="M4753 1248l25 31-19-41-25-33z"/><path class="k26" d="M4728 1217l25 31-19-43-25-31z"/><path class="k28" d="M4703 1188l25 29-19-43-24-29z"/><path class="k30" d="M4679 1161l24 27-18-43-25-28z"/><path class="k32" d="M4654 1135l25 26-19-44-25-26z"/><path class="k34" d="M4629 1111l25 24-19-44-25-25z"/><path class="k36" d="M4604 1089l25 22-19-45-25-22z"/><path class="k38" d="M4579 1069l25 20-19-45-25-21z"/><path class="k39" d="M4554 1051l25 18-19-46-25-18z"/><path class="k41" d="M4529 1036l25 15-19-46-24-16z"/><path class="k42" d="M4504 1022l25 14-18-47-25-14z"/><path class="k43" d="M4480 1011l24 11-18-47-25-12z"/><path class="k44" d="M4455 1002l25 9-19-48-25-9z"/><path class="k45" d="M4430 995l25 7-19-48-25-7z"/><path class="k46" d="M4405 991l25 4-19-48-25-4z"/><path class="k47" d="M4380 989l25 2-19-48-25-2zM4355 990l25-1-19-48-25 1z"/><path class="k48" d="M4330 994l25-4-19-48-24 3zM4306 1000l24-6-18-49-25 6zM4281 1008l25-8-19-49-25 9zM4256 1019l25-11-19-48-25 11zM4231 1033l25-14-19-48-25 13z"/><path class="k47" d="M4206 1049l25-16-19-49-25 17zM4181 1067l25-18-19-48-25 18z"/><path class="k46" d="M4156 1089l25-22-19-48-24 22z"/><path class="k45" d="M4131 1112l25-23-18-48-25 24zM4107 1138l24-26-18-47-25 26z"/><path class="k43" d="M4082 1167l25-29-19-47-25 29z"/><path class="k42" d="M4057 1197l25-30-19-47-25 31z"/><path class="k41" d="M4032 1230l25-33-19-46-25 33z"/><path class="k40" d="M4007 1265l25-35-19-46-25 35z"/><path class="k38" d="M3982 1303l25-38-19-46-25 38z"/><path class="k36" d="M3957 1342l25-39-19-46-24 39z"/><path class="k35" d="M3933 1383l24-41-18-46-25 42z"/><path class="k33" d="M3908 1426l25-43-19-45-25 43z"/><path class="k31" d="M3883 1470l25-44-19-45-25 46z"/><path class="k29" d="M3858 1517l25-47-19-43-25 46z"/><path class="k27" d="M3833 1564l25-47-19-44-25 49z"/><path class="k24" d="M3808 1613l25-49-19-42-25 49z"/><path class="k22" d="M3783 1663l25-50-19-42-24 51z"/><path class="k20" d="M3758 1715l25-52-18-41-25 52z"/><path class="k17" d="M3734 1767l24-52-18-41-25 53z"/><path class="k15" d="M4847 1388l24 33-18-40-25-35z"/><path class="k17" d="M4822 1355l25 33-19-42-25-34z"/><path class="k20" d="M4797 1323l25 32-19-43-25-33z"/><path class="k22" d="M4772 1292l25 31-19-44-25-31z"/><path class="k24" d="M4747 1262l25 30-19-44-25-31z"/><path class="k26" d="M4722 1234l25 28-19-45-25-29z"/><path class="k28" d="M4697 1207l25 27-19-46-24-27z"/><path class="k30" d="M4672 1182l25 25-18-46-25-26z"/><path class="k32" d="M4648 1158l24 24-18-47-25-24z"/><path class="k34" d="M4623 1137l25 21-19-47-25-22z"/><path class="k36" d="M4598 1117l25 20-19-48-25-20z"/><path class="k37" d="M4573 1100l25 17-19-48-25-18z"/><path class="k39" d="M4548 1084l25 16-19-49-25-15z"/><path class="k40" d="M4523 1071l25 13-19-48-25-14z"/><path class="k41" d="M4498 1060l25 11-19-49-24-11z"/><path class="k42" d="M4474 1051l24 9-18-49-25-9z"/><path class="k43" d="M4449 1045l25 6-19-49-25-7z"/><path class="k44" d="M4424 1041l25 4-19-50-25-4z"/><path class="k45" d="M4399 1039l25 2-19-50-25-2zM4374 1040l25-1-19-50-25 1zM4349 1044l25-4-19-50-25 4z"/><path class="k46" d="M4324 1050l25-6-19-50-24 6zM4299 1058l25-8-18-50-25 8zM4275 1069l24-11-18-50-25 11zM4250 1083l25-14-19-50-25 14z"/><path class="k45" d="M4225 1099l25-16-19-50-25 16zM4200 1118l25-19-19-50-25 18z"/><path class="k44" d="M4175 1138l25-20-19-51-25 22z"/><path class="k43" d="M4150 1162l25-24-19-49-25 23z"/><path class="k42" d="M4125 1188l25-26-19-50-24 26z"/><path class="k41" d="M4101 1216l24-28-18-50-25 29z"/><path class="k40" d="M4076 1246l25-30-19-49-25 30z"/><path class="k39" d="M4051 1279l25-33-19-49-25 33z"/><path class="k38" d="M4026 1313l25-34-19-49-25 35z"/><path class="k36" d="M4001 1350l25-37-19-48-25 38z"/><path class="k34" d="M3976 1389l25-39-19-47-25 39z"/><path class="k33" d="M3951 1429l25-40-19-47-24 41z"/><path class="k31" d="M3926 1472l25-43-18-46-25 43z"/><path class="k29" d="M3902 1516l24-44-18-46-25 44z"/><path class="k27" d="M3877 1561l25-45-19-46-25 47z"/><path class="k25" d="M3852 1608l25-47-19-44-25 47z"/><path class="k22" d="M3827 1657l25-49-19-44-25 49z"/><path class="k20" d="M3802 1706l25-49-19-44-25 50z"/><path class="k18" d="M3777 1757l25-51-19-43-25 52z"/><path class="k15" d="M3752 1808l25-51-19-42-24 52z"/><path class="k13" d="M4865 1431l25 33-19-43-24-33z"/><path class="k15" d="M4840 1398l25 33-18-43-25-33z"/><path class="k18" d="M4816 1367l24 31-18-43-25-32z"/><path class="k20" d="M4791 1337l25 30-19-44-25-31z"/><path class="k22" d="M4766 1308l25 29-19-45-25-30z"/><path class="k24" d="M4741 1280l25 28-19-46-25-28z"/><path class="k26" d="M4716 1254l25 26-19-46-25-27z"/><path class="k28" d="M4691 1230l25 24-19-47-25-25z"/><path class="k30" d="M4666 1207l25 23-19-48-24-24z"/><path class="k32" d="M4642 1186l24 21-18-49-25-21z"/><path class="k34" d="M4617 1167l25 19-19-49-25-20z"/><path class="k35" d="M4592 1150l25 17-19-50-25-17z"/><path class="k36" d="M4567 1135l25 15-19-50-25-16z"/><path class="k38" d="M4542 1122l25 13-19-51-25-13z"/><path class="k39" d="M4517 1111l25 11-19-51-25-11z"/><path class="k40" d="M4492 1103l25 8-19-51-24-9z"/><path class="k41" d="M4467 1097l25 6-18-52-25-6z"/><path class="k42" d="M4443 1093l24 4-18-52-25-4zM4418 1091l25 2-19-52-25-2z"/><path class="k43" d="M4393 1093l25-2-19-52-25 1zM4368 1096l25-3-19-53-25 4zM4343 1102l25-6-19-52-25 6z"/><path class="k44" d="M4318 1111l25-9-19-52-25 8z"/><path class="k43" d="M4293 1122l25-11-19-53-24 11zM4269 1135l24-13-18-53-25 14zM4244 1151l25-16-19-52-25 16z"/><path class="k42" d="M4219 1169l25-18-19-52-25 19zM4194 1190l25-21-19-51-25 20z"/><path class="k41" d="M4169 1213l25-23-19-52-25 24z"/><path class="k40" d="M4144 1239l25-26-19-51-25 26z"/><path class="k39" d="M4119 1267l25-28-19-51-24 28z"/><path class="k38" d="M4094 1297l25-30-18-51-25 30z"/><path class="k37" d="M4070 1329l24-32-18-51-25 33z"/><path class="k35" d="M4045 1363l25-34-19-50-25 34z"/><path class="k34" d="M4020 1399l25-36-19-50-25 37z"/><path class="k32" d="M3995 1438l25-39-19-49-25 39z"/><path class="k31" d="M3970 1478l25-40-19-49-25 40z"/><path class="k29" d="M3945 1519l25-41-19-49-25 43z"/><path class="k27" d="M3920 1563l25-44-19-47-24 44z"/><path class="k25" d="M3896 1608l24-45-18-47-25 45z"/><path class="k23" d="M3871 1654l25-46-19-47-25 47z"/><path class="k21" d="M3846 1702l25-48-19-46-25 49z"/><path class="k18" d="M3821 1750l25-48-19-45-25 49z"/><path class="k16" d="M3796 1800l25-50-19-44-25 51z"/><path class="k14" d="M3771 1851l25-51-19-43-25 51z"/><path class="k11" d="M4884 1475l25 32-19-43-25-33z"/><path class="k14" d="M4859 1444l25 31-19-44-25-33z"/><path class="k16" d="M4834 1413l25 31-19-46-24-31z"/><path class="k18" d="M4810 1384l24 29-18-46-25-30z"/><path class="k20" d="M4785 1356l25 28-19-47-25-29z"/><path class="k22" d="M4760 1329l25 27-19-48-25-28z"/><path class="k24" d="M4735 1303l25 26-19-49-25-26z"/><path class="k26" d="M4710 1279l25 24-19-49-25-24z"/><path class="k28" d="M4685 1257l25 22-19-49-25-23z"/><path class="k30" d="M4660 1237l25 20-19-50-24-21z"/><path class="k31" d="M4635 1218l25 19-18-51-25-19z"/><path class="k33" d="M4611 1201l24 17-18-51-25-17z"/><path class="k34" d="M4586 1187l25 14-19-51-25-15z"/><path class="k36" d="M4561 1174l25 13-19-52-25-13z"/><path class="k37" d="M4536 1164l25 10-19-52-25-11z"/><path class="k38" d="M4511 1156l25 8-19-53-25-8z"/><path class="k39" d="M4486 1150l25 6-19-53-25-6zM4461 1146l25 4-19-53-24-4z"/><path class="k40" d="M4437 1145l24 1-18-53-25-2zM4412 1147l25-2-19-54-25 2z"/><path class="k41" d="M4387 1150l25-3-19-54-25 3zM4362 1156l25-6-19-54-25 6zM4337 1165l25-9-19-54-25 9zM4312 1176l25-11-19-54-25 11zM4287 1189l25-13-19-54-24 13zM4262 1205l25-16-18-54-25 16z"/><path class="k40" d="M4238 1223l24-18-18-54-25 18zM4213 1244l25-21-19-54-25 21z"/><path class="k39" d="M4188 1267l25-23-19-54-25 23z"/><path class="k38" d="M4163 1292l25-25-19-54-25 26z"/><path class="k37" d="M4138 1319l25-27-19-53-25 28z"/><path class="k36" d="M4113 1349l25-30-19-52-25 30z"/><path class="k35" d="M4088 1381l25-32-19-52-24 32z"/><path class="k33" d="M4064 1414l24-33-18-52-25 34z"/><path class="k32" d="M4039 1450l25-36-19-51-25 36z"/><path class="k30" d="M4014 1488l25-38-19-51-25 39z"/><path class="k29" d="M3989 1527l25-39-19-50-25 40z"/><path class="k27" d="M3964 1569l25-42-19-49-25 41z"/><path class="k25" d="M3939 1611l25-42-19-50-25 44z"/><path class="k23" d="M3914 1655l25-44-19-48-24 45z"/><path class="k21" d="M3889 1701l25-46-18-47-25 46z"/><path class="k19" d="M3865 1748l24-47-18-47-25 48z"/><path class="k17" d="M3840 1796l25-48-19-46-25 48z"/><path class="k14" d="M3815 1845l25-49-19-46-25 50z"/><path class="k12" d="M3790 1894l25-49-19-45-25 51z"/><path class="k9" d="M4903 1520l25 31-19-44-25-32z"/><path class="k12" d="M4878 1490l25 30-19-45-25-31z"/><path class="k14" d="M4853 1460l25 30-19-46-25-31z"/><path class="k16" d="M4828 1432l25 28-19-47-24-29z"/><path class="k18" d="M4803 1405l25 27-18-48-25-28z"/><path class="k20" d="M4779 1378l24 27-18-49-25-27z"/><path class="k22" d="M4754 1354l25 24-19-49-25-26z"/><path class="k24" d="M4729 1330l25 24-19-51-25-24z"/><path class="k26" d="M4704 1309l25 21-19-51-25-22z"/><path class="k27" d="M4679 1289l25 20-19-52-25-20z"/><path class="k29" d="M4654 1271l25 18-19-52-25-19z"/><path class="k31" d="M4629 1255l25 16-19-53-24-17z"/><path class="k32" d="M4605 1241l24 14-18-54-25-14z"/><path class="k33" d="M4580 1228l25 13-19-54-25-13z"/><path class="k34" d="M4555 1218l25 10-19-54-25-10z"/><path class="k35" d="M4530 1211l25 7-19-54-25-8z"/><path class="k36" d="M4505 1205l25 6-19-55-25-6z"/><path class="k37" d="M4480 1202l25 3-19-55-25-4z"/><path class="k38" d="M4455 1201l25 1-19-56-24-1zM4430 1202l25-1-18-56-25 2zM4406 1206l24-4-18-55-25 3z"/><path class="k39" d="M4381 1212l25-6-19-56-25 6zM4356 1220l25-8-19-56-25 9zM4331 1231l25-11-19-55-25 11z"/><path class="k38" d="M4306 1245l25-14-19-55-25 13zM4281 1260l25-15-19-56-25 16zM4256 1278l25-18-19-55-24 18z"/><path class="k37" d="M4232 1299l24-21-18-55-25 21z"/><path class="k36" d="M4207 1321l25-22-19-55-25 23zM4182 1346l25-25-19-54-25 25z"/><path class="k35" d="M4157 1373l25-27-19-54-25 27z"/><path class="k33" d="M4132 1403l25-30-19-54-25 30z"/><path class="k32" d="M4107 1434l25-31-19-54-25 32z"/><path class="k31" d="M4082 1467l25-33-19-53-24 33z"/><path class="k30" d="M4057 1503l25-36-18-53-25 36z"/><path class="k28" d="M4033 1540l24-37-18-53-25 38z"/><path class="k26" d="M4008 1579l25-39-19-52-25 39z"/><path class="k25" d="M3983 1619l25-40-19-52-25 42z"/><path class="k23" d="M3958 1661l25-42-19-50-25 42z"/><path class="k21" d="M3933 1705l25-44-19-50-25 44z"/><path class="k19" d="M3908 1749l25-44-19-50-25 46z"/><path class="k17" d="M3883 1795l25-46-19-48-24 47z"/><path class="k15" d="M3859 1842l24-47-18-47-25 48z"/><path class="k12" d="M3834 1890l25-48-19-46-25 49z"/><path class="k10" d="M3809 1939l25-49-19-45-25 49z"/><path class="k8" d="M4922 1567l25 30-19-46-25-31z"/><path class="k10" d="M4897 1537l25 30-19-47-25-30z"/><path class="k12" d="M4872 1509l25 28-19-47-25-30z"/><path class="k14" d="M4847 1481l25 28-19-49-25-28z"/><path class="k16" d="M4822 1455l25 26-19-49-25-27z"/><path class="k18" d="M4797 1429l25 26-19-50-24-27z"/><path class="k20" d="M4773 1405l24 24-18-51-25-24z"/><path class="k22" d="M4748 1383l25 22-19-51-25-24z"/><path class="k24" d="M4723 1362l25 21-19-53-25-21z"/><path class="k25" d="M4698 1342l25 20-19-53-25-20z"/><path class="k27" d="M4673 1325l25 17-19-53-25-18z"/><path class="k28" d="M4648 1309l25 16-19-54-25-16z"/><path class="k30" d="M4623 1296l25 13-19-54-24-14z"/><path class="k31" d="M4598 1284l25 12-18-55-25-13z"/><path class="k32" d="M4574 1274l24 10-18-56-25-10z"/><path class="k33" d="M4549 1267l25 7-19-56-25-7z"/><path class="k34" d="M4524 1262l25 5-19-56-25-6zM4499 1259l25 3-19-57-25-3z"/><path class="k35" d="M4474 1258l25 1-19-57-25-1z"/><path class="k36" d="M4449 1259l25-1-19-57-25 1zM4424 1263l25-4-19-57-24 4zM4400 1269l24-6-18-57-25 6zM4375 1278l25-9-19-57-25 8zM4350 1289l25-11-19-58-25 11zM4325 1302l25-13-19-58-25 14zM4300 1317l25-15-19-57-25 15z"/><path class="k35" d="M4275 1335l25-18-19-57-25 18zM4250 1355l25-20-19-57-24 21z"/><path class="k34" d="M4225 1378l25-23-18-56-25 22z"/><path class="k33" d="M4201 1402l24-24-18-57-25 25z"/><path class="k32" d="M4176 1429l25-27-19-56-25 27z"/><path class="k31" d="M4151 1458l25-29-19-56-25 30z"/><path class="k30" d="M4126 1489l25-31-19-55-25 31z"/><path class="k29" d="M4101 1522l25-33-19-55-25 33z"/><path class="k27" d="M4076 1556l25-34-19-55-25 36z"/><path class="k26" d="M4051 1593l25-37-19-53-24 37z"/><path class="k24" d="M4027 1631l24-38-18-53-25 39z"/><path class="k22" d="M4002 1671l25-40-19-52-25 40z"/><path class="k20" d="M3977 1712l25-41-19-52-25 42z"/><path class="k19" d="M3952 1755l25-43-19-51-25 44z"/><path class="k17" d="M3927 1799l25-44-19-50-25 44z"/><path class="k15" d="M3902 1844l25-45-19-50-25 46z"/><path class="k13" d="M3877 1890l25-46-19-49-24 47z"/><path class="k10" d="M3852 1937l25-47-18-48-25 48z"/><path class="k8" d="M3828 1985l24-48-18-47-25 49z"/><path class="k6" d="M4941 1614l24 29-18-46-25-30z"/><path class="k8" d="M4916 1586l25 28-19-47-25-30z"/><path class="k10" d="M4891 1558l25 28-19-49-25-28z"/><path class="k12" d="M4866 1531l25 27-19-49-25-28z"/><path class="k14" d="M4841 1506l25 25-19-50-25-26z"/><path class="k16" d="M4816 1481l25 25-19-51-25-26z"/><path class="k18" d="M4791 1458l25 23-19-52-24-24z"/><path class="k19" d="M4766 1436l25 22-18-53-25-22z"/><path class="k21" d="M4742 1416l24 20-18-53-25-21z"/><path class="k23" d="M4717 1397l25 19-19-54-25-20z"/><path class="k24" d="M4692 1380l25 17-19-55-25-17z"/><path class="k26" d="M4667 1365l25 15-19-55-25-16z"/><path class="k27" d="M4642 1352l25 13-19-56-25-13z"/><path class="k28" d="M4617 1341l25 11-19-56-25-12z"/><path class="k29" d="M4592 1332l25 9-19-57-24-10z"/><path class="k30" d="M4568 1324l24 8-18-58-25-7z"/><path class="k31" d="M4543 1319l25 5-19-57-25-5z"/><path class="k32" d="M4518 1317l25 2-19-57-25-3zM4493 1316l25 1-19-58-25-1z"/><path class="k33" d="M4468 1318l25-2-19-58-25 1zM4443 1322l25-4-19-59-25 4zM4418 1328l25-6-19-59-24 6z"/><path class="k34" d="M4393 1336l25-8-18-59-25 9zM4369 1347l24-11-18-58-25 11z"/><path class="k33" d="M4344 1360l25-13-19-58-25 13zM4319 1376l25-16-19-58-25 15zM4294 1394l25-18-19-59-25 18z"/><path class="k32" d="M4269 1413l25-19-19-59-25 20z"/><path class="k31" d="M4244 1435l25-22-19-58-25 23zM4219 1460l25-25-19-57-24 24z"/><path class="k30" d="M4195 1486l24-26-18-58-25 27z"/><path class="k29" d="M4170 1514l25-28-19-57-25 29z"/><path class="k27" d="M4145 1545l25-31-19-56-25 31z"/><path class="k26" d="M4120 1577l25-32-19-56-25 33z"/><path class="k25" d="M4095 1611l25-34-19-55-25 34z"/><path class="k23" d="M4070 1647l25-36-19-55-25 37z"/><path class="k22" d="M4045 1685l25-38-19-54-24 38z"/><path class="k20" d="M4020 1724l25-39-18-54-25 40z"/><path class="k18" d="M3996 1764l24-40-18-53-25 41z"/><path class="k16" d="M3971 1806l25-42-19-52-25 43z"/><path class="k14" d="M3946 1849l25-43-19-51-25 44z"/><path class="k12" d="M3921 1893l25-44-19-50-25 45z"/><path class="k10" d="M3896 1939l25-46-19-49-25 46z"/><path class="k8" d="M3871 1984l25-45-19-49-25 47z"/><path class="k6" d="M3846 2031l25-47-19-47-24 48z"/><path class="k4" d="M4959 1662l25 28-19-47-24-29z"/><path class="k6" d="M4934 1635l25 27-18-48-25-28z"/><path class="k8" d="M4910 1608l24 27-18-49-25-28z"/><path class="k10" d="M4885 1582l25 26-19-50-25-27z"/><path class="k12" d="M4860 1558l25 24-19-51-25-25z"/><path class="k14" d="M4835 1534l25 24-19-52-25-25z"/><path class="k15" d="M4810 1512l25 22-19-53-25-23z"/><path class="k17" d="M4785 1491l25 21-19-54-25-22z"/><path class="k19" d="M4760 1471l25 20-19-55-24-20z"/><path class="k20" d="M4736 1453l24 18-18-55-25-19z"/><path class="k22" d="M4711 1437l25 16-19-56-25-17z"/><path class="k23" d="M4686 1422l25 15-19-57-25-15z"/><path class="k24" d="M4661 1410l25 12-19-57-25-13z"/><path class="k26" d="M4636 1399l25 11-19-58-25-11z"/><path class="k27" d="M4611 1390l25 9-19-58-25-9z"/><path class="k28" d="M4586 1383l25 7-19-58-24-8zM4561 1379l25 4-18-59-25-5z"/><path class="k29" d="M4537 1376l24 3-18-60-25-2z"/><path class="k30" d="M4512 1376l25 0-19-59-25-1zM4487 1378l25-2-19-60-25 2z"/><path class="k31" d="M4462 1382l25-4-19-60-25 4zM4437 1388l25-6-19-60-25 6zM4412 1396l25-8-19-60-25 8zM4387 1407l25-11-19-60-24 11zM4363 1420l24-13-18-60-25 13z"/><path class="k30" d="M4338 1436l25-16-19-60-25 16zM4313 1453l25-17-19-60-25 18z"/><path class="k29" d="M4288 1473l25-20-19-59-25 19zM4263 1494l25-21-19-60-25 22z"/><path class="k28" d="M4238 1518l25-24-19-59-25 25z"/><path class="k27" d="M4213 1544l25-26-19-58-24 26z"/><path class="k26" d="M4188 1572l25-28-18-58-25 28z"/><path class="k25" d="M4164 1602l24-30-18-58-25 31z"/><path class="k24" d="M4139 1634l25-32-19-57-25 32z"/><path class="k22" d="M4114 1667l25-33-19-57-25 34z"/><path class="k21" d="M4089 1703l25-36-19-56-25 36z"/><path class="k19" d="M4064 1739l25-36-19-56-25 38z"/><path class="k18" d="M4039 1778l25-39-19-54-25 39z"/><path class="k16" d="M4014 1817l25-39-19-54-24 40z"/><path class="k14" d="M3990 1858l24-41-18-53-25 42z"/><path class="k12" d="M3965 1901l25-43-19-52-25 43z"/><path class="k10" d="M3940 1944l25-43-19-52-25 44z"/><path class="k8" d="M3915 1988l25-44-19-51-25 46z"/><path class="k6" d="M3890 2033l25-45-19-49-25 45z"/><path class="k4" d="M3865 2078l25-45-19-49-25 47z"/><path class="k2" d="M4978 1710l25 27-19-47-25-28z"/><path class="k4" d="M4953 1684l25 26-19-48-25-27z"/><path class="k6" d="M4928 1659l25 25-19-49-24-27z"/><path class="k7" d="M4904 1634l24 25-18-51-25-26z"/><path class="k9" d="M4879 1610l25 24-19-52-25-24z"/><path class="k11" d="M4854 1588l25 22-19-52-25-24z"/><path class="k13" d="M4829 1566l25 22-19-54-25-22z"/><path class="k15" d="M4804 1546l25 20-19-54-25-21z"/><path class="k16" d="M4779 1527l25 19-19-55-25-20z"/><path class="k18" d="M4754 1510l25 17-19-56-24-18z"/><path class="k19" d="M4729 1494l25 16-18-57-25-16z"/><path class="k21" d="M4705 1480l24 14-18-57-25-15z"/><path class="k22" d="M4680 1468l25 12-19-58-25-12z"/><path class="k23" d="M4655 1458l25 10-19-58-25-11z"/><path class="k24" d="M4630 1450l25 8-19-59-25-9z"/><path class="k25" d="M4605 1443l25 7-19-60-25-7z"/><path class="k26" d="M4580 1439l25 4-19-60-25-4zM4555 1437l25 2-19-60-24-3z"/><path class="k27" d="M4531 1436l24 1-18-61-25 0z"/><path class="k28" d="M4506 1438l25-2-19-60-25 2zM4481 1443l25-5-19-60-25 4zM4456 1449l25-6-19-61-25 6zM4431 1457l25-8-19-61-25 8zM4406 1468l25-11-19-61-25 11zM4381 1481l25-13-19-61-24 13zM4356 1496l25-15-18-61-25 16z"/><path class="k27" d="M4332 1514l24-18-18-60-25 17zM4307 1533l25-19-19-61-25 20z"/><path class="k26" d="M4282 1554l25-21-19-60-25 21z"/><path class="k25" d="M4257 1578l25-24-19-60-25 24z"/><path class="k24" d="M4232 1603l25-25-19-60-25 26z"/><path class="k23" d="M4207 1631l25-28-19-59-25 28z"/><path class="k22" d="M4182 1660l25-29-19-59-24 30z"/><path class="k21" d="M4158 1691l24-31-18-58-25 32z"/><path class="k20" d="M4133 1724l25-33-19-57-25 33z"/><path class="k18" d="M4108 1759l25-35-19-57-25 36z"/><path class="k17" d="M4083 1795l25-36-19-56-25 36z"/><path class="k15" d="M4058 1832l25-37-19-56-25 39z"/><path class="k13" d="M4033 1871l25-39-19-54-25 39z"/><path class="k12" d="M4008 1911l25-40-19-54-24 41z"/><path class="k10" d="M3983 1953l25-42-18-53-25 43z"/><path class="k8" d="M3959 1995l24-42-18-52-25 43z"/><path class="k6" d="M3934 2038l25-43-19-51-25 44z"/><path class="k4" d="M3909 2081l25-43-19-50-25 45z"/><path class="k2" d="M3884 2126l25-45-19-48-25 45z"/></g></g>
<rect x="520.7" y="9.3" width="11.1" height="204.2" fill="url(#pg)" class="cbx"/>
<path class="ax" d="M530.2 194.4L531.8 194.4M530.2 166.3L531.8 166.3M530.2 138.2L531.8 138.2M530.2 110.1L531.8 110.1M530.2 82.0L531.8 82.0M530.2 54.0L531.8 54.0M530.2 25.9L531.8 25.9"/>
<path class="gr" d="M122.4 480.2L40.7 429.5M112.0 479.5L218.5 442.4M40.7 429.5L40.7 321.7M218.5 442.4L218.5 334.6M146.1 472.0L64.4 421.3M93.8 468.2L200.3 431.1M64.4 421.3L64.4 313.5M200.3 431.1L200.3 323.3M169.8 463.8L88.0 413.1M75.7 456.9L182.2 419.9M88.0 413.1L88.0 305.3M182.2 419.9L182.2 312.1M193.4 455.5L111.7 404.8M57.5 445.7L164.0 408.6M111.7 404.8L111.7 297.0M164.0 408.6L164.0 300.8M217.1 447.3L135.4 396.6M39.3 434.4L145.8 397.3M135.4 396.6L135.4 288.8M145.8 397.3L145.8 289.5M34.8 431.6L141.3 394.5M223.0 445.2L141.3 394.5M34.8 413.6L141.3 376.5M223.0 427.2L141.3 376.5M34.8 395.7L141.3 358.6M223.0 409.3L141.3 358.6M34.8 377.7L141.3 340.6M223.0 391.3L141.3 340.6M34.8 359.7L141.3 322.6M223.0 373.3L141.3 322.6M34.8 341.8L141.3 304.7M223.0 355.4L141.3 304.7M34.8 323.8L141.3 286.7M223.0 337.4L141.3 286.7"/>
<path class="ax" d="M116.5 482.3L223.0 445.2M116.5 482.3L34.8 431.6M34.8 431.6L34.8 323.8M122.4 480.2L123.9 481.1M112.0 479.5L110.1 480.1M146.1 472.0L147.5 472.9M93.8 468.2L91.9 468.9M169.8 463.8L171.2 464.7M75.7 456.9L73.8 457.6M193.4 455.5L194.9 456.4M57.5 445.7L55.6 446.3M217.1 447.3L218.5 448.2M39.3 434.4L37.4 435.1M34.8 431.6L32.9 432.3M34.8 413.6L32.9 414.3M34.8 395.7L32.9 396.3M34.8 377.7L32.9 378.4M34.8 359.7L32.9 360.4M34.8 341.8L32.9 342.4M34.8 323.8L32.9 324.5"/>
<g transform="scale(.1)"><g class="sf"><path class="k8" d="M413 4032l24-43-18 29-24 40z"/><path class="k5" d="M390 4075l23-43-18 26-23 41z"/><path class="k2" d="M366 4118l24-43-18 24-24 41z"/><path class="k14" d="M455 3961l24-44-18 31-24 41z"/><path class="k11" d="M432 4006l23-45-18 28-24 43z"/><path class="k8" d="M408 4051l24-45-19 26-23 43z"/><path class="k5" d="M384 4097l24-46-18 24-24 43z"/><path class="k17" d="M473 3933l24-47-18 31-24 44z"/><path class="k14" d="M450 3980l23-47-18 28-23 45z"/><path class="k11" d="M426 4028l24-48-18 26-24 45z"/><path class="k8" d="M402 4077l24-49-18 23-24 46z"/><path class="k27" d="M539 3810l24-44-19 34-23 42z"/><path class="k24" d="M515 3857l24-47-18 32-24 44z"/><path class="k21" d="M492 3906l23-49-18 29-24 47z"/><path class="k17" d="M468 3956l24-50-19 27-23 47z"/><path class="k14" d="M444 4007l24-51-18 24-24 48z"/><path class="k11" d="M421 4058l23-51-18 21-24 49z"/><path class="k31" d="M557 3780l24-46-18 32-24 44z"/><path class="k27" d="M533 3830l24-50-18 30-24 47z"/><path class="k24" d="M510 3881l23-51-18 27-23 49z"/><path class="k20" d="M486 3933l24-52-18 25-24 50z"/><path class="k17" d="M462 3987l24-54-18 23-24 51z"/><path class="k13" d="M439 4040l23-53-18 20-23 51z"/><path class="k37" d="M599 3705l24-44-19 31-23 42z"/><path class="k34" d="M575 3754l24-49-18 29-24 46z"/><path class="k31" d="M552 3805l23-51-18 26-24 50z"/><path class="k27" d="M528 3858l24-53-19 25-23 51z"/><path class="k23" d="M504 3913l24-55-18 23-24 52z"/><path class="k19" d="M481 3969l23-56-18 20-24 54z"/><path class="k16" d="M457 4024l24-55-19 18-23 53z"/><path class="k46" d="M664 3593l24-35-18 29-24 34z"/><path class="k43" d="M641 3635l23-42-18 28-23 40z"/><path class="k40" d="M617 3681l24-46-18 26-24 44z"/><path class="k37" d="M593 3731l24-50-18 24-24 49z"/><path class="k34" d="M570 3784l23-53-18 23-23 51z"/><path class="k30" d="M546 3839l24-55-18 21-24 53z"/><path class="k26" d="M522 3896l24-57-18 19-24 55z"/><path class="k22" d="M499 3953l23-57-18 17-23 56z"/><path class="k18" d="M475 4010l24-57-18 16-24 55z"/><path class="k49" d="M683 3571l23-37-18 24-24 35z"/><path class="k46" d="M659 3613l24-42-19 22-23 42z"/><path class="k43" d="M635 3660l24-47-18 22-24 46z"/><path class="k40" d="M612 3712l23-52-18 21-24 50z"/><path class="k36" d="M588 3766l24-54-19 19-23 53z"/><path class="k32" d="M564 3823l24-57-18 18-24 55z"/><path class="k28" d="M541 3882l23-59-18 16-24 57z"/><path class="k24" d="M517 3941l24-59-19 14-23 57z"/><path class="k20" d="M493 3999l24-58-18 12-24 57z"/><path class="k55" d="M748 3486l24-24-18 18-24 24z"/><path class="k54" d="M724 3517l24-31-18 18-24 30z"/><path class="k51" d="M701 3554l23-37-18 17-23 37z"/><path class="k49" d="M677 3597l24-43-18 17-24 42z"/><path class="k46" d="M653 3645l24-48-18 16-24 47z"/><path class="k42" d="M630 3698l23-53-18 15-23 52z"/><path class="k38" d="M606 3754l24-56-18 14-24 54z"/><path class="k34" d="M582 3812l24-58-18 12-24 57z"/><path class="k30" d="M559 3871l23-59-18 11-23 59z"/><path class="k26" d="M535 3932l24-61-18 11-24 59z"/><path class="k22" d="M511 3992l24-60-18 9-24 58z"/><path class="k59" d="M1216 3297l24-14-19 12-23 15z"/><path class="k57" d="M1169 3330l23-16-18 12-24 17z"/><path class="k55" d="M1074 3385l24-11-19 12-23 11z"/><path class="k57" d="M766 3474l24-24-18 12-24 24z"/><path class="k56" d="M743 3505l23-31-18 12-24 31z"/><path class="k54" d="M719 3543l24-38-19 12-23 37z"/><path class="k51" d="M695 3587l24-44-18 11-24 43z"/><path class="k48" d="M672 3636l23-49-18 10-24 48z"/><path class="k44" d="M648 3689l24-53-19 9-23 53z"/><path class="k40" d="M624 3746l24-57-18 9-24 56z"/><path class="k36" d="M601 3805l23-59-18 8-24 58z"/><path class="k32" d="M577 3865l24-60-19 7-23 59z"/><path class="k28" d="M553 3926l24-61-18 6-24 61z"/><path class="k23" d="M530 3987l23-61-18 6-24 60z"/><path class="k61" d="M1305 3256l24-4-18 6-24 4zM1281 3264l24-8-18 6-24 8zM1258 3276l23-12-18 6-23 13z"/><path class="k60" d="M1234 3290l24-14-18 7-24 14zM1210 3306l24-16-18 7-24 17z"/><path class="k59" d="M1187 3323l23-17-18 8-23 16z"/><path class="k58" d="M1163 3339l24-16-18 7-24 17zM1139 3354l24-15-18 8-24 14z"/><path class="k57" d="M1116 3367l23-13-18 7-23 13zM1092 3377l24-10-18 7-24 11zM1068 3385l24-8-18 8-24 8z"/><path class="k61" d="M879 3404l24-5-18 7-24 4zM855 3412l24-8-18 6-24 8zM832 3425l23-13-18 6-23 13z"/><path class="k60" d="M808 3444l24-19-18 6-24 19z"/><path class="k59" d="M784 3469l24-25-18 6-24 24z"/><path class="k57" d="M761 3501l23-32-18 5-23 31z"/><path class="k55" d="M737 3539l24-38-18 4-24 38z"/><path class="k52" d="M713 3582l24-43-18 4-24 44z"/><path class="k49" d="M690 3632l23-50-18 5-23 49z"/><path class="k46" d="M666 3685l24-53-18 4-24 53z"/><path class="k42" d="M642 3742l24-57-18 4-24 57z"/><path class="k38" d="M619 3802l23-60-18 4-23 59z"/><path class="k33" d="M595 3862l24-60-18 3-24 60z"/><path class="k29" d="M571 3924l24-62-18 3-24 61z"/><path class="k24" d="M548 3985l23-61-18 2-23 61z"/><path class="k60" d="M1371 3255l23 9-18-1-24-8z"/><path class="k61" d="M1347 3253l24 2-19 0-23-3z"/><path class="k62" d="M1323 3256l24-3-18-1-24 4zM1300 3263l23-7-18 0-24 8zM1276 3275l24-12-19 1-23 12zM1252 3289l24-14-18 1-24 14z"/><path class="k61" d="M1229 3304l23-15-18 1-24 16z"/><path class="k60" d="M1205 3320l24-16-19 2-23 17zM1181 3336l24-16-18 3-24 16z"/><path class="k59" d="M1158 3350l23-14-18 3-24 15zM1134 3363l24-13-19 4-23 13zM1110 3373l24-10-18 4-24 10z"/><path class="k58" d="M1087 3382l23-9-18 4-24 8z"/><path class="k59" d="M1063 3387l24-5-19 3-23 6zM1039 3391l24-4-18 4-24 4zM1016 3393l23-2-18 4-24 2z"/><path class="k61" d="M945 3396l23-1-18 2-24 1z"/><path class="k62" d="M921 3398l24-2-19 2-23 1zM897 3403l24-5-18 1-24 5zM874 3412l23-9-18 1-24 8zM850 3426l24-14-19 0-23 13z"/><path class="k61" d="M826 3445l24-19-18-1-24 19z"/><path class="k60" d="M803 3470l23-25-18-1-24 25z"/><path class="k59" d="M779 3502l24-32-19-1-23 32z"/><path class="k56" d="M755 3540l24-38-18-1-24 38z"/><path class="k54" d="M732 3584l23-44-18-1-24 43z"/><path class="k50" d="M708 3633l24-49-19-2-23 50z"/><path class="k47" d="M684 3687l24-54-18-1-24 53z"/><path class="k43" d="M661 3743l23-56-18-2-24 57z"/><path class="k39" d="M637 3803l24-60-19-1-23 60z"/><path class="k34" d="M613 3864l24-61-18-1-24 60z"/><path class="k30" d="M590 3925l23-61-18-2-24 62z"/><path class="k25" d="M566 3986l24-61-19-1-23 61z"/><path class="k59" d="M1412 3271l24 15-18-7-24-15z"/><path class="k61" d="M1389 3262l23 9-18-7-23-9z"/><path class="k62" d="M1365 3259l24 3-18-7-24-2z"/><path class="k63" d="M1341 3261l24-2-18-6-24 3zM1318 3268l23-7-18-5-23 7zM1294 3278l24-10-18-5-24 12zM1270 3291l24-13-18-3-24 14z"/><path class="k62" d="M1247 3306l23-15-18-2-23 15z"/><path class="k61" d="M1223 3321l24-15-18-2-24 16zM1199 3336l24-15-18-1-24 16z"/><path class="k60" d="M1176 3350l23-14-18 0-23 14zM1152 3363l24-13-18 0-24 13zM1128 3373l24-10-18 0-24 10zM1105 3381l23-8-18 0-23 9zM1081 3388l24-7-18 1-24 5zM1057 3392l24-4-18-1-24 4zM1034 3394l23-2-18-1-23 2z"/><path class="k61" d="M1010 3396l24-2-18-1-24 1zM986 3397l24-1-18-2-24 1z"/><path class="k62" d="M963 3399l23-2-18-2-23 1z"/><path class="k63" d="M939 3402l24-3-18-3-24 2zM915 3408l24-6-18-4-24 5zM892 3417l23-9-18-5-23 9zM868 3432l24-15-18-5-24 14z"/><path class="k62" d="M844 3451l24-19-18-6-24 19z"/><path class="k61" d="M821 3477l23-26-18-6-23 25z"/><path class="k59" d="M797 3509l24-32-18-7-24 32z"/><path class="k57" d="M773 3547l24-38-18-7-24 38z"/><path class="k54" d="M750 3590l23-43-18-7-23 44z"/><path class="k51" d="M726 3639l24-49-18-6-24 49z"/><path class="k47" d="M702 3692l24-53-18-6-24 54z"/><path class="k43" d="M679 3749l23-57-18-5-23 56z"/><path class="k39" d="M655 3808l24-59-18-6-24 60z"/><path class="k35" d="M631 3868l24-60-18-5-24 61z"/><path class="k31" d="M608 3929l23-61-18-4-23 61z"/><path class="k26" d="M584 3990l24-61-18-4-24 61z"/><path class="k59" d="M1431 3282l23 16-18-12-24-15z"/><path class="k61" d="M1407 3273l24 9-19-11-23-9z"/><path class="k62" d="M1383 3269l24 4-18-11-24-3z"/><path class="k63" d="M1360 3271l23-2-18-10-24 2zM1336 3277l24-6-19-10-23 7zM1312 3286l24-9-18-9-24 10zM1289 3298l23-12-18-8-24 13zM1265 3312l24-14-19-7-23 15z"/><path class="k62" d="M1241 3327l24-15-18-6-24 15zM1218 3341l23-14-18-6-24 15z"/><path class="k61" d="M1194 3354l24-13-19-5-23 14zM1170 3366l24-12-18-4-24 13z"/><path class="k60" d="M1147 3376l23-10-18-3-24 10zM1123 3385l24-9-19-3-23 8zM1099 3391l24-6-18-4-24 7z"/><path class="k61" d="M1076 3396l23-5-18-3-24 4zM1052 3399l24-3-19-4-23 2z"/><path class="k62" d="M1028 3401l24-2-18-5-24 2zM1005 3403l23-2-18-5-24 1z"/><path class="k63" d="M981 3406l24-3-19-6-23 2zM957 3410l24-4-18-7-24 3zM934 3417l23-7-18-8-24 6zM910 3427l24-10-19-9-23 9zM886 3442l24-15-18-10-24 15z"/><path class="k62" d="M863 3463l23-21-18-10-24 19z"/><path class="k61" d="M839 3488l24-25-19-12-23 26z"/><path class="k59" d="M815 3520l24-32-18-11-24 32z"/><path class="k57" d="M792 3558l23-38-18-11-24 38z"/><path class="k54" d="M768 3602l24-44-19-11-23 43z"/><path class="k51" d="M744 3650l24-48-18-12-24 49z"/><path class="k48" d="M721 3702l23-52-18-11-24 53z"/><path class="k44" d="M697 3758l24-56-19-10-23 57z"/><path class="k40" d="M673 3816l24-58-18-9-24 59z"/><path class="k35" d="M650 3876l23-60-18-8-24 60z"/><path class="k31" d="M626 3936l24-60-19-8-23 61z"/><path class="k27" d="M602 3997l24-61-18-7-24 61z"/><path class="k57" d="M1472 3313l24 21-18-15-24-21z"/><path class="k59" d="M1449 3298l23 15-18-15-23-16z"/><path class="k61" d="M1425 3288l24 10-18-16-24-9z"/><path class="k62" d="M1401 3284l24 4-18-15-24-4z"/><path class="k63" d="M1378 3284l23 0-18-15-23 2zM1354 3289l24-5-18-13-24 6zM1330 3298l24-9-18-12-24 9zM1307 3309l23-11-18-12-23 12zM1283 3322l24-13-18-11-24 14z"/><path class="k62" d="M1259 3335l24-13-18-10-24 15zM1236 3348l23-13-18-8-23 14zM1212 3361l24-13-18-7-24 13z"/><path class="k61" d="M1188 3373l24-12-18-7-24 12zM1165 3383l23-10-18-7-23 10zM1141 3391l24-8-18-7-24 9zM1117 3397l24-6-18-6-24 6zM1094 3402l23-5-18-6-23 5z"/><path class="k62" d="M1070 3406l24-4-18-6-24 3zM1046 3409l24-3-18-7-24 2zM1023 3412l23-3-18-8-23 2z"/><path class="k63" d="M999 3416l24-4-18-9-24 3zM975 3421l24-5-18-10-24 4zM952 3429l23-8-18-11-23 7zM928 3441l24-12-18-12-24 10zM904 3457l24-16-18-14-24 15z"/><path class="k62" d="M881 3477l23-20-18-15-23 21z"/><path class="k61" d="M857 3504l24-27-18-14-24 25z"/><path class="k59" d="M833 3536l24-32-18-16-24 32z"/><path class="k57" d="M810 3573l23-37-18-16-23 38z"/><path class="k54" d="M786 3616l24-43-18-15-24 44z"/><path class="k51" d="M762 3664l24-48-18-14-24 48z"/><path class="k48" d="M739 3715l23-51-18-14-23 52z"/><path class="k44" d="M715 3770l24-55-18-13-24 56z"/><path class="k40" d="M691 3827l24-57-18-12-24 58z"/><path class="k36" d="M668 3886l23-59-18-11-23 60z"/><path class="k31" d="M644 3945l24-59-18-10-24 60z"/><path class="k27" d="M620 4005l24-60-18-9-24 61z"/><path class="k56" d="M1490 3331l24 21-18-18-24-21z"/><path class="k59" d="M1467 3315l23 16-18-18-23-15z"/><path class="k60" d="M1443 3305l24 10-18-17-24-10z"/><path class="k62" d="M1419 3301l24 4-18-17-24-4z"/><path class="k63" d="M1396 3300l23 1-18-17-23 0zM1372 3305l24-5-18-16-24 5zM1348 3312l24-7-18-16-24 9zM1325 3322l23-10-18-14-23 11zM1301 3333l24-11-18-13-24 13zM1277 3346l24-13-18-11-24 13z"/><path class="k62" d="M1254 3358l23-12-18-11-23 13zM1230 3370l24-12-18-10-24 13z"/><path class="k61" d="M1206 3381l24-11-18-9-24 12zM1183 3391l23-10-18-8-23 10zM1159 3399l24-8-18-8-24 8zM1135 3406l24-7-18-8-24 6zM1112 3412l23-6-18-9-23 5z"/><path class="k62" d="M1088 3416l24-4-18-10-24 4zM1064 3420l24-4-18-10-24 3z"/><path class="k63" d="M1041 3424l23-4-18-11-23 3zM1017 3429l24-5-18-12-24 4zM993 3436l24-7-18-13-24 5zM970 3445l23-9-18-15-23 8zM946 3457l24-12-18-16-24 12zM922 3474l24-17-18-16-24 16z"/><path class="k62" d="M899 3495l23-21-18-17-23 20z"/><path class="k60" d="M875 3522l24-27-18-18-24 27z"/><path class="k59" d="M851 3553l24-31-18-18-24 32z"/><path class="k56" d="M828 3591l23-38-18-17-23 37z"/><path class="k54" d="M804 3633l24-42-18-18-24 43z"/><path class="k51" d="M780 3680l24-47-18-17-24 48z"/><path class="k47" d="M757 3730l23-50-18-16-23 51z"/><path class="k44" d="M733 3784l24-54-18-15-24 55z"/><path class="k40" d="M709 3840l24-56-18-14-24 57z"/><path class="k36" d="M686 3898l23-58-18-13-23 59z"/><path class="k31" d="M662 3957l24-59-18-12-24 59z"/><path class="k27" d="M638 4015l24-58-18-12-24 60z"/><path class="k53" d="M1532 3371l24 25-18-19-24-25z"/><path class="k56" d="M1509 3350l23 21-18-19-24-21z"/><path class="k58" d="M1485 3335l24 15-19-19-23-16z"/><path class="k60" d="M1461 3325l24 10-18-20-24-10z"/><path class="k61" d="M1438 3319l23 6-18-20-24-4z"/><path class="k62" d="M1414 3318l24 1-19-18-23-1z"/><path class="k63" d="M1390 3321l24-3-18-18-24 5zM1367 3328l23-7-18-16-24 7zM1343 3336l24-8-19-16-23 10zM1319 3347l24-11-18-14-24 11z"/><path class="k62" d="M1296 3358l23-11-18-14-24 13zM1272 3370l24-12-19-12-23 12zM1248 3381l24-11-18-12-24 12zM1225 3392l23-11-18-11-24 11z"/><path class="k61" d="M1201 3401l24-9-19-11-23 10zM1177 3410l24-9-18-10-24 8zM1154 3417l23-7-18-11-24 7z"/><path class="k62" d="M1130 3423l24-6-19-11-23 6zM1106 3428l24-5-18-11-24 4zM1083 3432l23-4-18-12-24 4zM1059 3438l24-6-19-12-23 4z"/><path class="k63" d="M1035 3444l24-6-18-14-24 5zM1012 3451l23-7-18-15-24 7zM988 3461l24-10-19-15-23 9zM964 3475l24-14-18-16-24 12z"/><path class="k62" d="M941 3492l23-17-18-18-24 17z"/><path class="k61" d="M917 3514l24-22-19-18-23 21z"/><path class="k60" d="M893 3541l24-27-18-19-24 27z"/><path class="k58" d="M870 3573l23-32-18-19-24 31z"/><path class="k56" d="M846 3610l24-37-19-20-23 38z"/><path class="k53" d="M822 3651l24-41-18-19-24 42z"/><path class="k50" d="M799 3697l23-46-18-18-24 47z"/><path class="k47" d="M775 3747l24-50-19-17-23 50z"/><path class="k43" d="M751 3800l24-53-18-17-24 54z"/><path class="k39" d="M728 3855l23-55-18-16-24 56z"/><path class="k35" d="M704 3911l24-56-19-15-23 58z"/><path class="k31" d="M680 3969l24-58-18-13-24 59z"/><path class="k27" d="M657 4027l23-58-18-12-24 58z"/><path class="k55" d="M1527 3370l23 20-18-19-23-21z"/><path class="k57" d="M1503 3355l24 15-18-20-24-15z"/><path class="k59" d="M1479 3344l24 11-18-20-24-10z"/><path class="k60" d="M1456 3338l23 6-18-19-23-6z"/><path class="k61" d="M1432 3337l24 1-18-19-24-1z"/><path class="k62" d="M1408 3339l24-2-18-19-24 3zM1385 3344l23-5-18-18-23 7z"/><path class="k63" d="M1361 3352l24-8-18-16-24 8z"/><path class="k62" d="M1337 3361l24-9-18-16-24 11zM1314 3372l23-11-18-14-23 11zM1290 3383l24-11-18-14-24 12zM1266 3393l24-10-18-13-24 11zM1243 3403l23-10-18-12-23 11z"/><path class="k61" d="M1219 3413l24-10-18-11-24 9zM1195 3421l24-8-18-12-24 9zM1172 3428l23-7-18-11-23 7z"/><path class="k62" d="M1148 3435l24-7-18-11-24 6zM1124 3440l24-5-18-12-24 5zM1101 3446l23-6-18-12-23 4zM1077 3452l24-6-18-14-24 6zM1053 3459l24-7-18-14-24 6z"/><path class="k63" d="M1030 3468l23-9-18-15-23 7z"/><path class="k62" d="M1006 3479l24-11-18-17-24 10zM982 3493l24-14-18-18-24 14z"/><path class="k61" d="M959 3511l23-18-18-18-23 17z"/><path class="k60" d="M935 3534l24-23-18-19-24 22z"/><path class="k59" d="M911 3561l24-27-18-20-24 27z"/><path class="k57" d="M888 3592l23-31-18-20-23 32z"/><path class="k55" d="M864 3629l24-37-18-19-24 37z"/><path class="k53" d="M840 3670l24-41-18-19-24 41z"/><path class="k50" d="M817 3715l23-45-18-19-23 46z"/><path class="k46" d="M793 3764l24-49-18-18-24 50z"/><path class="k43" d="M769 3816l24-52-18-17-24 53z"/><path class="k39" d="M746 3870l23-54-18-16-23 55z"/><path class="k35" d="M722 3925l24-55-18-15-24 56z"/><path class="k31" d="M698 3982l24-57-18-14-24 58z"/><path class="k27" d="M675 4039l23-57-18-13-23 58z"/><path class="k52" d="M1569 3409l23 24-18-19-24-24z"/><path class="k55" d="M1545 3389l24 20-19-19-23-20z"/><path class="k57" d="M1521 3374l24 15-18-19-24-15z"/><path class="k58" d="M1498 3363l23 11-18-19-24-11z"/><path class="k60" d="M1474 3357l24 6-19-19-23-6z"/><path class="k61" d="M1450 3355l24 2-18-19-24-1z"/><path class="k62" d="M1427 3356l23-1-18-18-24 2zM1403 3361l24-5-19-17-23 5zM1379 3367l24-6-18-17-24 8zM1356 3376l23-9-18-15-24 9zM1332 3386l24-10-19-15-23 11zM1308 3396l24-10-18-14-24 11zM1285 3406l23-10-18-13-24 10zM1261 3416l24-10-19-13-23 10z"/><path class="k61" d="M1237 3425l24-9-18-13-24 10zM1214 3433l23-8-18-12-24 8zM1190 3440l24-7-19-12-23 7z"/><path class="k62" d="M1166 3447l24-7-18-12-24 7zM1143 3454l23-7-18-12-24 5zM1119 3460l24-6-19-14-23 6zM1095 3467l24-7-18-14-24 6zM1072 3475l23-8-18-15-24 7zM1048 3484l24-9-19-16-23 9zM1024 3496l24-12-18-16-24 11zM1001 3511l23-15-18-17-24 14z"/><path class="k61" d="M977 3530l24-19-19-18-23 18z"/><path class="k60" d="M953 3553l24-23-18-19-24 23z"/><path class="k58" d="M930 3580l23-27-18-19-24 27z"/><path class="k57" d="M906 3612l24-32-19-19-23 31z"/><path class="k55" d="M882 3648l24-36-18-20-24 37z"/><path class="k52" d="M859 3688l23-40-18-19-24 41z"/><path class="k49" d="M835 3733l24-45-19-18-23 45z"/><path class="k46" d="M811 3781l24-48-18-18-24 49z"/><path class="k42" d="M788 3831l23-50-18-17-24 52z"/><path class="k39" d="M764 3885l24-54-19-15-23 54z"/><path class="k35" d="M740 3939l24-54-18-15-24 55z"/><path class="k31" d="M717 3995l23-56-18-14-24 57z"/><path class="k27" d="M693 4051l24-56-19-13-23 57z"/><path class="k54" d="M1563 3407l24 19-18-17-24-20z"/><path class="k56" d="M1539 3392l24 15-18-18-24-15z"/><path class="k58" d="M1516 3381l23 11-18-18-23-11z"/><path class="k59" d="M1492 3374l24 7-18-18-24-6z"/><path class="k60" d="M1468 3372l24 2-18-17-24-2z"/><path class="k61" d="M1445 3372l23 0-18-17-23 1z"/><path class="k62" d="M1421 3376l24-4-18-16-24 5zM1397 3382l24-6-18-15-24 6zM1374 3390l23-8-18-15-23 9zM1350 3399l24-9-18-14-24 10zM1326 3409l24-10-18-13-24 10zM1303 3419l23-10-18-13-23 10z"/><path class="k61" d="M1279 3428l24-9-18-13-24 10zM1255 3437l24-9-18-12-24 9zM1232 3445l23-8-18-12-23 8zM1208 3453l24-8-18-12-24 7zM1184 3460l24-7-18-13-24 7z"/><path class="k62" d="M1161 3467l23-7-18-13-23 7zM1137 3474l24-7-18-13-24 6zM1113 3481l24-7-18-14-24 7zM1090 3490l23-9-18-14-23 8zM1066 3500l24-10-18-15-24 9zM1042 3513l24-13-18-16-24 12z"/><path class="k61" d="M1019 3528l23-15-18-17-23 15z"/><path class="k60" d="M995 3547l24-19-18-17-24 19z"/><path class="k59" d="M971 3570l24-23-18-17-24 23z"/><path class="k58" d="M948 3598l23-28-18-17-23 27z"/><path class="k56" d="M924 3629l24-31-18-18-24 32z"/><path class="k54" d="M900 3665l24-36-18-17-24 36z"/><path class="k51" d="M877 3705l23-40-18-17-23 40z"/><path class="k49" d="M853 3749l24-44-18-17-24 45z"/><path class="k45" d="M829 3797l24-48-18-16-24 48z"/><path class="k42" d="M806 3847l23-50-18-16-23 50z"/><path class="k38" d="M782 3899l24-52-18-16-24 54z"/><path class="k35" d="M758 3953l24-54-18-14-24 54z"/><path class="k31" d="M735 4008l23-55-18-14-23 56z"/><path class="k27" d="M711 4064l24-56-18-13-24 56z"/><path class="k53" d="M1581 3423l24 19-18-16-24-19z"/><path class="k56" d="M1558 3408l23 15-18-16-24-15z"/><path class="k57" d="M1534 3397l24 11-19-16-23-11z"/><path class="k59" d="M1510 3390l24 7-18-16-24-7z"/><path class="k60" d="M1487 3387l23 3-18-16-24-2z"/><path class="k61" d="M1463 3387l24 0-19-15-23 0zM1439 3391l24-4-18-15-24 4zM1416 3396l23-5-18-15-24 6z"/><path class="k62" d="M1392 3404l24-8-19-14-23 8zM1368 3413l24-9-18-14-24 9zM1345 3422l23-9-18-14-24 10z"/><path class="k61" d="M1321 3431l24-9-19-13-23 10zM1297 3440l24-9-18-12-24 9zM1274 3449l23-9-18-12-24 9zM1250 3458l24-9-19-12-23 8zM1226 3465l24-7-18-13-24 8zM1203 3472l23-7-18-12-24 7zM1179 3480l24-8-19-12-23 7z"/><path class="k62" d="M1155 3487l24-7-18-13-24 7zM1132 3495l23-8-18-13-24 7zM1108 3504l24-9-19-14-23 9z"/><path class="k61" d="M1084 3514l24-10-18-14-24 10zM1061 3528l23-14-18-14-24 13zM1037 3544l24-16-19-15-23 15z"/><path class="k60" d="M1013 3563l24-19-18-16-24 19z"/><path class="k59" d="M990 3586l23-23-18-16-24 23z"/><path class="k57" d="M966 3614l24-28-19-16-23 28z"/><path class="k56" d="M942 3645l24-31-18-16-24 31z"/><path class="k53" d="M919 3681l23-36-18-16-24 36z"/><path class="k51" d="M895 3721l24-40-19-16-23 40z"/><path class="k48" d="M871 3765l24-44-18-16-24 44z"/><path class="k45" d="M848 3811l23-46-18-16-24 48z"/><path class="k42" d="M824 3861l24-50-19-14-23 50z"/><path class="k38" d="M800 3913l24-52-18-14-24 52z"/><path class="k34" d="M777 3966l23-53-18-14-24 54z"/><path class="k31" d="M753 4021l24-55-19-13-23 55z"/><path class="k27" d="M729 4076l24-55-18-13-24 56z"/><path class="k55" d="M1576 3421l23 15-18-13-23-15z"/><path class="k57" d="M1552 3410l24 11-18-13-24-11z"/><path class="k59" d="M1528 3404l24 6-18-13-24-7z"/><path class="k60" d="M1505 3400l23 4-18-14-23-3zM1481 3401l24-1-18-13-24 0z"/><path class="k61" d="M1457 3404l24-3-18-14-24 4zM1434 3409l23-5-18-13-23 5zM1410 3416l24-7-18-13-24 8zM1386 3425l24-9-18-12-24 9zM1363 3434l23-9-18-12-23 9zM1339 3443l24-9-18-12-24 9zM1315 3452l24-9-18-12-24 9zM1292 3461l23-9-18-12-23 9zM1268 3469l24-8-18-12-24 9zM1244 3477l24-8-18-11-24 7zM1221 3484l23-7-18-12-23 7zM1197 3492l24-8-18-12-24 8zM1173 3499l24-7-18-12-24 7zM1150 3507l23-8-18-12-23 8zM1126 3516l24-9-18-12-24 9zM1102 3527l24-11-18-12-24 10zM1079 3541l23-14-18-13-23 14z"/><path class="k60" d="M1055 3557l24-16-18-13-24 16zM1031 3577l24-20-18-13-24 19z"/><path class="k59" d="M1008 3600l23-23-18-14-23 23z"/><path class="k57" d="M984 3627l24-27-18-14-24 28z"/><path class="k55" d="M960 3659l24-32-18-13-24 31z"/><path class="k53" d="M937 3695l23-36-18-14-23 36z"/><path class="k51" d="M913 3734l24-39-18-14-24 40z"/><path class="k48" d="M889 3778l24-44-18-13-24 44z"/><path class="k45" d="M866 3824l23-46-18-13-23 46z"/><path class="k42" d="M842 3874l24-50-18-13-24 50z"/><path class="k38" d="M818 3925l24-51-18-13-24 52z"/><path class="k34" d="M795 3979l23-54-18-12-23 53z"/><path class="k30" d="M771 4033l24-54-18-13-24 55z"/><path class="k27" d="M747 4088l24-55-18-12-24 55z"/><path class="k57" d="M1570 3422l24 11-18-12-24-11z"/><path class="k58" d="M1547 3415l23 7-18-12-24-6z"/><path class="k60" d="M1523 3412l24 3-19-11-23-4zM1499 3412l24 0-18-12-24 1z"/><path class="k61" d="M1476 3415l23-3-18-11-24 3zM1452 3420l24-5-19-11-23 5zM1428 3428l24-8-18-11-24 7zM1405 3436l23-8-18-12-24 9zM1381 3445l24-9-19-11-23 9zM1357 3454l24-9-18-11-24 9zM1334 3464l23-10-18-11-24 9zM1310 3472l24-8-19-12-23 9zM1286 3481l24-9-18-11-24 8zM1263 3488l23-7-18-12-24 8zM1239 3496l24-8-19-11-23 7zM1215 3503l24-7-18-12-24 8zM1192 3510l23-7-18-11-24 7zM1168 3518l24-8-19-11-23 8zM1144 3528l24-10-18-11-24 9zM1121 3539l23-11-18-12-24 11zM1097 3552l24-13-19-12-23 14z"/><path class="k60" d="M1073 3568l24-16-18-11-24 16zM1050 3588l23-20-18-11-24 20z"/><path class="k58" d="M1026 3611l24-23-19-11-23 23z"/><path class="k57" d="M1002 3639l24-28-18-11-24 27z"/><path class="k55" d="M979 3670l23-31-18-12-24 32z"/><path class="k53" d="M955 3706l24-36-19-11-23 36z"/><path class="k51" d="M931 3746l24-40-18-11-24 39z"/><path class="k48" d="M908 3789l23-43-18-12-24 44z"/><path class="k45" d="M884 3836l24-47-19-11-23 46z"/><path class="k41" d="M860 3885l24-49-18-12-24 50z"/><path class="k38" d="M837 3937l23-52-18-11-24 51z"/><path class="k34" d="M813 3990l24-53-19-12-23 54z"/><path class="k30" d="M789 4044l24-54-18-11-24 54z"/><path class="k27" d="M766 4099l23-55-18-11-24 55z"/><path class="k57" d="M1588 3431l24 10-18-8-24-11z"/><path class="k59" d="M1565 3424l23 7-18-9-23-7z"/><path class="k60" d="M1541 3421l24 3-18-9-24-3zM1517 3421l24 0-18-9-24 0z"/><path class="k61" d="M1494 3425l23-4-18-9-23 3zM1470 3430l24-5-18-10-24 5zM1446 3438l24-8-18-10-24 8zM1423 3446l23-8-18-10-23 8zM1399 3456l24-10-18-10-24 9zM1375 3465l24-9-18-11-24 9zM1352 3474l23-9-18-11-23 10zM1328 3483l24-9-18-10-24 8zM1304 3491l24-8-18-11-24 9zM1281 3499l23-8-18-10-23 7zM1257 3506l24-7-18-11-24 8zM1233 3513l24-7-18-10-24 7zM1210 3521l23-8-18-10-23 7zM1186 3528l24-7-18-11-24 8zM1162 3537l24-9-18-10-24 10zM1139 3548l23-11-18-9-23 11zM1115 3561l24-13-18-9-24 13z"/><path class="k60" d="M1091 3577l24-16-18-9-24 16zM1068 3597l23-20-18-9-23 20z"/><path class="k59" d="M1044 3620l24-23-18-9-24 23z"/><path class="k57" d="M1020 3648l24-28-18-9-24 28z"/><path class="k55" d="M997 3679l23-31-18-9-23 31z"/><path class="k53" d="M973 3715l24-36-18-9-24 36z"/><path class="k51" d="M949 3755l24-40-18-9-24 40z"/><path class="k48" d="M926 3798l23-43-18-9-23 43z"/><path class="k45" d="M902 3845l24-47-18-9-24 47z"/><path class="k42" d="M878 3895l24-50-18-9-24 49z"/><path class="k38" d="M855 3947l23-52-18-10-23 52z"/><path class="k34" d="M831 4000l24-53-18-10-24 53z"/><path class="k30" d="M807 4055l24-55-18-10-24 54z"/><path class="k27" d="M784 4110l23-55-18-11-23 55z"/><path class="k59" d="M1583 3431l24 6-19-6-23-7z"/><path class="k60" d="M1559 3428l24 3-18-7-24-3z"/><path class="k61" d="M1536 3429l23-1-18-7-24 0zM1512 3433l24-4-19-8-23 4zM1488 3439l24-6-18-8-24 5z"/><path class="k62" d="M1465 3447l23-8-18-9-24 8zM1441 3456l24-9-19-9-23 8zM1417 3465l24-9-18-10-24 10z"/><path class="k61" d="M1394 3475l23-10-18-9-24 9zM1370 3485l24-10-19-10-23 9zM1346 3493l24-8-18-11-24 9zM1323 3502l23-9-18-10-24 8zM1299 3509l24-7-19-11-23 8zM1275 3516l24-7-18-10-24 7zM1252 3523l23-7-18-10-24 7z"/><path class="k62" d="M1228 3530l24-7-19-10-23 8zM1204 3537l24-7-18-9-24 7zM1181 3546l23-9-18-9-24 9z"/><path class="k61" d="M1157 3556l24-10-19-9-23 11zM1133 3569l24-13-18-8-24 13zM1110 3585l23-16-18-8-24 16z"/><path class="k60" d="M1086 3604l24-19-19-8-23 20z"/><path class="k59" d="M1062 3627l24-23-18-7-24 23z"/><path class="k57" d="M1039 3654l23-27-18-7-24 28z"/><path class="k56" d="M1015 3686l24-32-19-6-23 31z"/><path class="k53" d="M991 3722l24-36-18-7-24 36z"/><path class="k51" d="M968 3762l23-40-18-7-24 40z"/><path class="k48" d="M944 3806l24-44-19-7-23 43z"/><path class="k45" d="M920 3853l24-47-18-8-24 47z"/><path class="k42" d="M897 3903l23-50-18-8-24 50z"/><path class="k38" d="M873 3955l24-52-19-8-23 52z"/><path class="k34" d="M849 4009l24-54-18-8-24 53z"/><path class="k31" d="M826 4065l23-56-18-9-24 55z"/><path class="k27" d="M802 4120l24-55-19-10-23 55z"/><path class="k59" d="M1601 3436l24 6-18-5-24-6z"/><path class="k60" d="M1577 3433l24 3-18-5-24-3z"/><path class="k61" d="M1554 3435l23-2-18-5-23 1z"/><path class="k62" d="M1530 3439l24-4-18-6-24 4zM1506 3446l24-7-18-6-24 6zM1483 3455l23-9-18-7-23 8zM1459 3465l24-10-18-8-24 9zM1435 3475l24-10-18-9-24 9zM1412 3485l23-10-18-10-23 10z"/><path class="k61" d="M1388 3495l24-10-18-10-24 10zM1364 3504l24-9-18-10-24 8zM1341 3512l23-8-18-11-23 9zM1317 3519l24-7-18-10-24 7zM1293 3526l24-7-18-10-24 7z"/><path class="k62" d="M1270 3532l23-6-18-10-23 7zM1246 3539l24-7-18-9-24 7zM1222 3546l24-7-18-9-24 7zM1199 3553l23-7-18-9-23 9zM1175 3563l24-10-18-7-24 10zM1151 3575l24-12-18-7-24 13z"/><path class="k61" d="M1128 3590l23-15-18-6-23 16z"/><path class="k60" d="M1104 3609l24-19-18-5-24 19z"/><path class="k59" d="M1080 3632l24-23-18-5-24 23z"/><path class="k58" d="M1057 3659l23-27-18-5-23 27z"/><path class="k56" d="M1033 3690l24-31-18-5-24 32z"/><path class="k54" d="M1009 3727l24-37-18-4-24 36z"/><path class="k51" d="M986 3767l23-40-18-5-23 40z"/><path class="k49" d="M962 3812l24-45-18-5-24 44z"/><path class="k45" d="M938 3860l24-48-18-6-24 47z"/><path class="k42" d="M915 3910l23-50-18-7-23 50z"/><path class="k38" d="M891 3963l24-53-18-7-24 52z"/><path class="k35" d="M867 4018l24-55-18-8-24 54z"/><path class="k31" d="M844 4074l23-56-18-9-23 56z"/><path class="k27" d="M820 4130l24-56-18-9-24 55z"/><path class="k60" d="M1619 3440l24 5-18-3-24-6z"/><path class="k61" d="M1596 3438l23 2-18-4-24-3z"/><path class="k62" d="M1572 3440l24-2-19-5-23 2zM1548 3445l24-5-18-5-24 4zM1525 3453l23-8-18-6-24 7zM1501 3463l24-10-19-7-23 9zM1477 3473l24-10-18-8-24 10zM1454 3484l23-11-18-8-24 10zM1430 3495l24-11-19-9-23 10zM1406 3505l24-10-18-10-24 10z"/><path class="k61" d="M1383 3514l23-9-18-10-24 9zM1359 3522l24-8-19-10-23 8zM1335 3530l24-8-18-10-24 7z"/><path class="k62" d="M1312 3536l23-6-18-11-24 7zM1288 3542l24-6-19-10-23 6zM1264 3547l24-5-18-10-24 7zM1241 3553l23-6-18-8-24 7zM1217 3560l24-7-19-7-23 7zM1193 3569l24-9-18-7-24 10zM1170 3580l23-11-18-6-24 12zM1146 3595l24-15-19-5-23 15z"/><path class="k61" d="M1122 3613l24-18-18-5-24 19z"/><path class="k60" d="M1099 3635l23-22-18-4-24 23z"/><path class="k58" d="M1075 3662l24-27-19-3-23 27z"/><path class="k57" d="M1051 3694l24-32-18-3-24 31z"/><path class="k55" d="M1028 3730l23-36-18-4-24 37z"/><path class="k52" d="M1004 3771l24-41-19-3-23 40z"/><path class="k49" d="M980 3817l24-46-18-4-24 45z"/><path class="k46" d="M957 3865l23-48-18-5-24 48z"/><path class="k42" d="M933 3917l24-52-19-5-23 50z"/><path class="k39" d="M909 3971l24-54-18-7-24 53z"/><path class="k35" d="M886 4027l23-56-18-8-24 55z"/><path class="k31" d="M862 4083l24-56-19-9-23 56z"/><path class="k27" d="M838 4140l24-57-18-9-24 56z"/><path class="k60" d="M1637 3443l24 5-18-3-24-5z"/><path class="k61" d="M1614 3442l23 1-18-3-23-2z"/><path class="k62" d="M1590 3445l24-3-18-4-24 2zM1566 3452l24-7-18-5-24 5z"/><path class="k63" d="M1543 3460l23-8-18-7-23 8z"/><path class="k62" d="M1519 3471l24-11-18-7-24 10zM1495 3482l24-11-18-8-24 10zM1472 3494l23-12-18-9-23 11zM1448 3505l24-11-18-10-24 11zM1424 3516l24-11-18-10-24 10z"/><path class="k61" d="M1401 3525l23-9-18-11-23 9zM1377 3534l24-9-18-11-24 8zM1353 3541l24-7-18-12-24 8z"/><path class="k62" d="M1330 3546l23-5-18-11-23 6zM1306 3552l24-6-18-10-24 6zM1282 3556l24-4-18-10-24 5zM1259 3561l23-5-18-9-23 6zM1235 3568l24-7-18-8-24 7z"/><path class="k63" d="M1211 3575l24-7-18-8-24 9z"/><path class="k62" d="M1188 3585l23-10-18-6-23 11zM1164 3599l24-14-18-5-24 15z"/><path class="k61" d="M1140 3616l24-17-18-4-24 18z"/><path class="k60" d="M1117 3638l23-22-18-3-23 22z"/><path class="k59" d="M1093 3665l24-27-18-3-24 27z"/><path class="k57" d="M1069 3697l24-32-18-3-24 32z"/><path class="k55" d="M1046 3734l23-37-18-3-23 36z"/><path class="k53" d="M1022 3775l24-41-18-4-24 41z"/><path class="k50" d="M998 3821l24-46-18-4-24 46z"/><path class="k46" d="M975 3871l23-50-18-4-23 48z"/><path class="k43" d="M951 3923l24-52-18-6-24 52z"/><path class="k39" d="M927 3979l24-56-18-6-24 54z"/><path class="k35" d="M904 4035l23-56-18-8-23 56z"/><path class="k31" d="M880 4093l24-58-18-8-24 56z"/><path class="k27" d="M856 4151l24-58-18-10-24 57z"/><path class="k61" d="M1656 3447l23 5-18-4-24-5z"/><path class="k62" d="M1632 3447l24 0-19-4-23-1z"/><path class="k63" d="M1608 3451l24-4-18-5-24 3zM1585 3458l23-7-18-6-24 7zM1561 3468l24-10-19-6-23 8zM1537 3480l24-12-18-8-24 11z"/><path class="k62" d="M1514 3492l23-12-18-9-24 11zM1490 3505l24-13-19-10-23 12zM1466 3517l24-12-18-11-24 11zM1443 3528l23-11-18-12-24 11z"/><path class="k61" d="M1419 3538l24-10-19-12-23 9zM1395 3546l24-8-18-13-24 9zM1372 3553l23-7-18-12-24 7z"/><path class="k62" d="M1348 3558l24-5-19-12-23 5zM1324 3562l24-4-18-12-24 6zM1301 3566l23-4-18-10-24 4zM1277 3571l24-5-19-10-23 5z"/><path class="k63" d="M1253 3575l24-4-18-10-24 7zM1230 3582l23-7-18-7-24 7zM1206 3591l24-9-19-7-23 10zM1182 3604l24-13-18-6-24 14z"/><path class="k62" d="M1159 3620l23-16-18-5-24 17z"/><path class="k61" d="M1135 3642l24-22-19-4-23 22z"/><path class="k60" d="M1111 3668l24-26-18-4-24 27z"/><path class="k58" d="M1088 3700l23-32-18-3-24 32z"/><path class="k56" d="M1064 3737l24-37-19-3-23 37z"/><path class="k53" d="M1040 3779l24-42-18-3-24 41z"/><path class="k50" d="M1017 3826l23-47-18-4-24 46z"/><path class="k47" d="M993 3877l24-51-19-5-23 50z"/><path class="k43" d="M969 3931l24-54-18-6-24 52z"/><path class="k39" d="M946 3987l23-56-18-8-24 56z"/><path class="k35" d="M922 4044l24-57-19-8-23 56z"/><path class="k31" d="M898 4103l24-59-18-9-24 58z"/><path class="k27" d="M875 4162l23-59-18-10-24 58z"/><path class="k60" d="M1697 3457l24 10-18-5-24-10z"/><path class="k62" d="M1674 3453l23 4-18-5-23-5z"/><path class="k63" d="M1650 3453l24 0-18-6-24 0zM1626 3458l24-5-18-6-24 4zM1603 3467l23-9-18-7-23 7zM1579 3478l24-11-18-9-24 10zM1555 3491l24-13-18-10-24 12zM1532 3504l23-13-18-11-23 12z"/><path class="k62" d="M1508 3517l24-13-18-12-24 13zM1484 3530l24-13-18-12-24 12z"/><path class="k61" d="M1461 3542l23-12-18-13-23 11zM1437 3552l24-10-18-14-24 10zM1413 3560l24-8-18-14-24 8zM1390 3566l23-6-18-14-23 7zM1366 3571l24-5-18-13-24 5z"/><path class="k62" d="M1342 3575l24-4-18-13-24 4zM1319 3578l23-3-18-13-23 4z"/><path class="k63" d="M1295 3581l24-3-18-12-24 5zM1271 3585l24-4-18-10-24 4zM1248 3590l23-5-18-10-23 7zM1224 3598l24-8-18-8-24 9zM1200 3610l24-12-18-7-24 13zM1177 3626l23-16-18-6-23 16z"/><path class="k62" d="M1153 3646l24-20-18-6-24 22z"/><path class="k60" d="M1129 3673l24-27-18-4-24 26z"/><path class="k59" d="M1106 3705l23-32-18-5-23 32z"/><path class="k56" d="M1082 3742l24-37-18-5-24 37z"/><path class="k54" d="M1058 3785l24-43-18-5-24 42z"/><path class="k51" d="M1035 3833l23-48-18-6-23 47z"/><path class="k47" d="M1011 3884l24-51-18-7-24 51z"/><path class="k44" d="M987 3939l24-55-18-7-24 54z"/><path class="k40" d="M964 3996l23-57-18-8-23 56z"/><path class="k36" d="M940 4055l24-59-18-9-24 57z"/><path class="k31" d="M916 4114l24-59-18-11-24 59z"/><path class="k27" d="M893 4174l23-60-18-11-23 59z"/><path class="k59" d="M1739 3474l24 15-18-7-24-15z"/><path class="k61" d="M1715 3464l24 10-18-7-24-10z"/><path class="k62" d="M1692 3461l23 3-18-7-23-4z"/><path class="k63" d="M1668 3462l24-1-18-8-24 0zM1644 3468l24-6-18-9-24 5zM1621 3478l23-10-18-10-23 9zM1597 3490l24-12-18-11-24 11zM1573 3504l24-14-18-12-24 13z"/><path class="k62" d="M1550 3518l23-14-18-13-23 13zM1526 3532l24-14-18-14-24 13zM1502 3546l24-14-18-15-24 13z"/><path class="k61" d="M1479 3558l23-12-18-16-23 12zM1455 3568l24-10-18-16-24 10zM1431 3576l24-8-18-16-24 8zM1408 3583l23-7-18-16-23 6zM1384 3587l24-4-18-17-24 5z"/><path class="k62" d="M1360 3590l24-3-18-16-24 4zM1337 3592l23-2-18-15-23 3zM1313 3594l24-2-18-14-24 3z"/><path class="k63" d="M1289 3597l24-3-18-13-24 4zM1266 3601l23-4-18-12-23 5zM1242 3608l24-7-18-11-24 8zM1218 3619l24-11-18-10-24 12zM1195 3634l23-15-18-9-23 16z"/><path class="k62" d="M1171 3654l24-20-18-8-24 20z"/><path class="k61" d="M1147 3680l24-26-18-8-24 27z"/><path class="k59" d="M1124 3712l23-32-18-7-23 32z"/><path class="k57" d="M1100 3750l24-38-18-7-24 37z"/><path class="k54" d="M1076 3793l24-43-18-8-24 43z"/><path class="k51" d="M1053 3841l23-48-18-8-23 48z"/><path class="k48" d="M1029 3894l24-53-18-8-24 51z"/><path class="k44" d="M1005 3950l24-56-18-10-24 55z"/><path class="k40" d="M982 4008l23-58-18-11-23 57z"/><path class="k36" d="M958 4067l24-59-18-12-24 59z"/><path class="k31" d="M934 4128l24-61-18-12-24 59z"/><path class="k27" d="M911 4188l23-60-18-14-23 60z"/><path class="k59" d="M1757 3485l24 15-18-11-24-15z"/><path class="k61" d="M1734 3476l23 9-18-11-24-10z"/><path class="k62" d="M1710 3473l24 3-19-12-23-3z"/><path class="k63" d="M1686 3475l24-2-18-12-24 1zM1663 3482l23-7-18-13-24 6zM1639 3492l24-10-19-14-23 10zM1615 3505l24-13-18-14-24 12zM1592 3520l23-15-18-15-24 14z"/><path class="k62" d="M1568 3536l24-16-19-16-23 14zM1544 3551l24-15-18-18-24 14z"/><path class="k61" d="M1521 3565l23-14-18-19-24 14zM1497 3577l24-12-19-19-23 12z"/><path class="k60" d="M1473 3587l24-10-18-19-24 10zM1450 3596l23-9-18-19-24 8zM1426 3602l24-6-19-20-23 7z"/><path class="k61" d="M1402 3606l24-4-18-19-24 4zM1379 3608l23-2-18-19-24 3z"/><path class="k62" d="M1355 3610l24-2-19-18-23 2zM1331 3611l24-1-18-18-24 2z"/><path class="k63" d="M1308 3613l23-2-18-17-24 3zM1284 3616l24-3-19-16-23 4zM1260 3622l24-6-18-15-24 7zM1237 3631l23-9-18-14-24 11zM1213 3646l24-15-19-12-23 15z"/><path class="k62" d="M1189 3665l24-19-18-12-24 20z"/><path class="k61" d="M1166 3691l23-26-18-11-24 26z"/><path class="k59" d="M1142 3723l24-32-19-11-23 32z"/><path class="k57" d="M1118 3761l24-38-18-11-24 38z"/><path class="k54" d="M1095 3805l23-44-18-11-24 43z"/><path class="k51" d="M1071 3853l24-48-19-12-23 48z"/><path class="k48" d="M1047 3907l24-54-18-12-24 53z"/><path class="k44" d="M1024 3963l23-56-18-13-24 56z"/><path class="k40" d="M1000 4022l24-59-19-13-23 58z"/><path class="k35" d="M976 4082l24-60-18-14-24 59z"/><path class="k31" d="M953 4143l23-61-18-15-24 61z"/><path class="k27" d="M929 4204l24-61-19-15-23 60z"/><path class="k59" d="M1775 3501l24 15-18-16-24-15z"/><path class="k61" d="M1752 3492l23 9-18-16-23-9z"/><path class="k62" d="M1728 3489l24 3-18-16-24-3z"/><path class="k63" d="M1704 3492l24-3-18-16-24 2zM1681 3500l23-8-18-17-23 7zM1657 3511l24-11-18-18-24 10zM1633 3525l24-14-18-19-24 13z"/><path class="k62" d="M1610 3541l23-16-18-20-23 15z"/><path class="k61" d="M1586 3557l24-16-18-21-24 16zM1562 3572l24-15-18-21-24 15z"/><path class="k60" d="M1539 3587l23-15-18-21-23 14zM1515 3599l24-12-18-22-24 12zM1491 3610l24-11-18-22-24 10zM1468 3618l23-8-18-23-23 9zM1444 3624l24-6-18-22-24 6zM1420 3628l24-4-18-22-24 4zM1397 3630l23-2-18-22-23 2z"/><path class="k61" d="M1373 3631l24-1-18-22-24 2zM1349 3631l24 0-18-21-24 1z"/><path class="k62" d="M1326 3632l23-1-18-20-23 2z"/><path class="k63" d="M1302 3635l24-3-18-19-24 3zM1278 3640l24-5-18-19-24 6zM1255 3649l23-9-18-18-23 9zM1231 3662l24-13-18-18-24 15z"/><path class="k62" d="M1207 3681l24-19-18-16-24 19z"/><path class="k61" d="M1184 3707l23-26-18-16-23 26z"/><path class="k59" d="M1160 3739l24-32-18-16-24 32z"/><path class="k57" d="M1136 3777l24-38-18-16-24 38z"/><path class="k54" d="M1113 3820l23-43-18-16-23 44z"/><path class="k51" d="M1089 3870l24-50-18-15-24 48z"/><path class="k47" d="M1065 3923l24-53-18-17-24 54z"/><path class="k43" d="M1042 3980l23-57-18-16-23 56z"/><path class="k39" d="M1018 4039l24-59-18-17-24 59z"/><path class="k35" d="M994 4100l24-61-18-17-24 60z"/><path class="k31" d="M971 4161l23-61-18-18-23 61z"/><path class="k26" d="M947 4223l24-62-18-18-24 61z"/><path class="k54" d="M1841 3559l24 27-19-21-23-28z"/><path class="k56" d="M1817 3537l24 22-18-22-24-21z"/><path class="k59" d="M1794 3522l23 15-18-21-24-15z"/><path class="k60" d="M1770 3514l24 8-19-21-23-9z"/><path class="k61" d="M1746 3511l24 3-18-22-24-3z"/><path class="k62" d="M1723 3515l23-4-18-22-24 3zM1699 3523l24-8-19-23-23 8zM1675 3535l24-12-18-23-24 11zM1652 3549l23-14-18-24-24 14z"/><path class="k61" d="M1628 3566l24-17-19-24-23 16z"/><path class="k60" d="M1604 3582l24-16-18-25-24 16zM1581 3598l23-16-18-25-24 15z"/><path class="k59" d="M1557 3613l24-15-19-26-23 15zM1533 3626l24-13-18-26-24 12zM1510 3636l23-10-18-27-24 11z"/><path class="k58" d="M1486 3645l24-9-19-26-23 8z"/><path class="k59" d="M1462 3650l24-5-18-27-24 6zM1439 3654l23-4-18-26-24 4zM1415 3656l24-2-19-26-23 2z"/><path class="k60" d="M1391 3656l24 0-18-26-24 1zM1368 3656l23 0-18-25-24 0z"/><path class="k61" d="M1344 3657l24-1-19-25-23 1z"/><path class="k62" d="M1320 3659l24-2-18-25-24 3zM1297 3663l23-4-18-24-24 5zM1273 3671l24-8-19-23-23 9zM1249 3685l24-14-18-22-24 13z"/><path class="k61" d="M1226 3703l23-18-18-23-24 19z"/><path class="k60" d="M1202 3728l24-25-19-22-23 26z"/><path class="k59" d="M1178 3760l24-32-18-21-24 32z"/><path class="k56" d="M1155 3798l23-38-18-21-24 38z"/><path class="k54" d="M1131 3842l24-44-19-21-23 43z"/><path class="k50" d="M1107 3891l24-49-18-22-24 50z"/><path class="k47" d="M1084 3944l23-53-18-21-24 53z"/><path class="k43" d="M1060 4001l24-57-19-21-23 57z"/><path class="k39" d="M1036 4061l24-60-18-21-24 59z"/><path class="k34" d="M1013 4122l23-61-18-22-24 61z"/><path class="k30" d="M989 4183l24-61-19-22-23 61z"/><path class="k25" d="M965 4244l24-61-18-22-24 62z"/><path class="k49" d="M1883 3613l23 32-18-26-23-33z"/><path class="k52" d="M1859 3586l24 27-18-27-24-27z"/><path class="k55" d="M1835 3565l24 21-18-27-24-22z"/><path class="k57" d="M1812 3550l23 15-18-28-23-15z"/><path class="k59" d="M1788 3542l24 8-18-28-24-8z"/><path class="k60" d="M1764 3540l24 2-18-28-24-3z"/><path class="k61" d="M1741 3543l23-3-18-29-23 4zM1717 3552l24-9-18-28-24 8zM1693 3564l24-12-18-29-24 12z"/><path class="k60" d="M1670 3579l23-15-18-29-23 14zM1646 3595l24-16-18-30-24 17z"/><path class="k59" d="M1622 3612l24-17-18-29-24 16z"/><path class="k58" d="M1599 3628l23-16-18-30-23 16zM1575 3643l24-15-18-30-24 15z"/><path class="k57" d="M1551 3656l24-13-18-30-24 13zM1528 3667l23-11-18-30-23 10zM1504 3675l24-8-18-31-24 9zM1480 3681l24-6-18-30-24 5zM1457 3684l23-3-18-31-23 4z"/><path class="k58" d="M1433 3686l24-2-18-30-24 2zM1409 3686l24 0-18-30-24 0z"/><path class="k59" d="M1386 3686l23 0-18-30-23 0z"/><path class="k60" d="M1362 3686l24 0-18-30-24 1zM1338 3688l24-2-18-29-24 2z"/><path class="k61" d="M1315 3692l23-4-18-29-23 4zM1291 3700l24-8-18-29-24 8zM1267 3713l24-13-18-29-24 14z"/><path class="k60" d="M1244 3731l23-18-18-28-23 18z"/><path class="k59" d="M1220 3756l24-25-18-28-24 25z"/><path class="k57" d="M1196 3787l24-31-18-28-24 32z"/><path class="k55" d="M1173 3825l23-38-18-27-23 38z"/><path class="k52" d="M1149 3868l24-43-18-27-24 44z"/><path class="k49" d="M1125 3917l24-49-18-26-24 49z"/><path class="k46" d="M1102 3971l23-54-18-26-23 53z"/><path class="k42" d="M1078 4027l24-56-18-27-24 57z"/><path class="k38" d="M1054 4086l24-59-18-26-24 60z"/><path class="k33" d="M1031 4147l23-61-18-25-23 61z"/><path class="k29" d="M1007 4208l24-61-18-25-24 61z"/><path class="k24" d="M983 4268l24-60-18-25-24 61z"/><path class="k40" d="M1948 3713l24 40-18-31-24-40z"/><path class="k44" d="M1925 3677l23 36-18-31-24-37z"/><path class="k48" d="M1901 3646l24 31-19-32-23-32z"/><path class="k51" d="M1877 3619l24 27-18-33-24-27z"/><path class="k54" d="M1854 3598l23 21-18-33-24-21z"/><path class="k56" d="M1830 3584l24 14-19-33-23-15z"/><path class="k57" d="M1806 3576l24 8-18-34-24-8z"/><path class="k59" d="M1783 3574l23 2-18-34-24-2zM1759 3578l24-4-19-34-23 3zM1735 3587l24-9-18-35-24 9zM1712 3599l23-12-18-35-24 12zM1688 3614l24-15-19-35-23 15z"/><path class="k58" d="M1664 3630l24-16-18-35-24 16z"/><path class="k57" d="M1641 3647l23-17-18-35-24 17zM1617 3663l24-16-19-35-23 16z"/><path class="k56" d="M1593 3678l24-15-18-35-24 15zM1570 3691l23-13-18-35-24 13z"/><path class="k55" d="M1546 3701l24-10-19-35-23 11zM1522 3710l24-9-18-34-24 8zM1499 3715l23-5-18-35-24 6z"/><path class="k56" d="M1475 3719l24-4-19-34-23 3zM1451 3721l24-2-18-35-24 2z"/><path class="k57" d="M1428 3721l23 0-18-35-24 0zM1404 3721l24 0-19-35-23 0z"/><path class="k58" d="M1380 3721l24 0-18-35-24 0z"/><path class="k59" d="M1357 3723l23-2-18-35-24 2zM1333 3727l24-4-19-35-23 4zM1309 3735l24-8-18-35-24 8zM1286 3748l23-13-18-35-24 13zM1262 3766l24-18-19-35-23 18z"/><path class="k57" d="M1238 3790l24-24-18-35-24 25z"/><path class="k56" d="M1215 3821l23-31-18-34-24 31z"/><path class="k54" d="M1191 3858l24-37-19-34-23 38z"/><path class="k51" d="M1167 3901l24-43-18-33-24 43z"/><path class="k48" d="M1144 3949l23-48-18-33-24 49z"/><path class="k44" d="M1120 4002l24-53-19-32-23 54z"/><path class="k40" d="M1096 4058l24-56-18-31-24 56z"/><path class="k36" d="M1073 4116l23-58-18-31-24 59z"/><path class="k32" d="M1049 4176l24-60-19-30-23 61z"/><path class="k28" d="M1025 4236l24-60-18-29-24 61z"/><path class="k23" d="M1002 4296l23-60-18-28-24 60z"/><path class="k26" d="M2037 3871l24 42-18-32-24-43z"/><path class="k34" d="M1990 3788l24 41-18-34-24-42z"/><path class="k38" d="M1966 3750l24 38-18-35-24-40z"/><path class="k42" d="M1943 3715l23 35-18-37-23-36z"/><path class="k46" d="M1919 3684l24 31-18-38-24-31z"/><path class="k49" d="M1895 3658l24 26-18-38-24-27z"/><path class="k51" d="M1872 3638l23 20-18-39-23-21z"/><path class="k54" d="M1848 3625l24 13-18-40-24-14z"/><path class="k55" d="M1824 3617l24 8-18-41-24-8z"/><path class="k56" d="M1801 3615l23 2-18-41-23-2z"/><path class="k57" d="M1777 3619l24-4-18-41-24 4zM1753 3628l24-9-18-41-24 9zM1730 3640l23-12-18-41-23 12z"/><path class="k56" d="M1706 3654l24-14-18-41-24 15zM1682 3670l24-16-18-40-24 16z"/><path class="k55" d="M1659 3686l23-16-18-40-23 17zM1635 3702l24-16-18-39-24 16z"/><path class="k54" d="M1611 3717l24-15-18-39-24 15z"/><path class="k53" d="M1588 3729l23-12-18-39-23 13zM1564 3740l24-11-18-38-24 10zM1540 3748l24-8-18-39-24 9zM1517 3754l23-6-18-38-23 5zM1493 3758l24-4-18-39-24 4z"/><path class="k54" d="M1469 3760l24-2-18-39-24 2z"/><path class="k55" d="M1446 3761l23-1-18-39-23 0zM1422 3761l24 0-18-40-24 0z"/><path class="k56" d="M1398 3761l24 0-18-40-24 0zM1375 3763l23-2-18-40-23 2z"/><path class="k57" d="M1351 3768l24-5-18-40-24 4zM1327 3776l24-8-18-41-24 8zM1304 3789l23-13-18-41-23 13z"/><path class="k56" d="M1280 3807l24-18-18-41-24 18z"/><path class="k55" d="M1256 3831l24-24-18-41-24 24z"/><path class="k54" d="M1233 3861l23-30-18-41-23 31z"/><path class="k51" d="M1209 3898l24-37-18-40-24 37z"/><path class="k49" d="M1185 3940l24-42-18-40-24 43z"/><path class="k46" d="M1162 3987l23-47-18-39-23 48z"/><path class="k42" d="M1138 4038l24-51-18-38-24 53z"/><path class="k38" d="M1114 4093l24-55-18-36-24 56z"/><path class="k34" d="M1091 4150l23-57-18-35-23 58z"/><path class="k30" d="M1067 4209l24-59-18-34-24 60z"/><path class="k26" d="M1043 4267l24-58-18-33-24 60z"/><path class="k22" d="M1020 4326l23-59-18-31-23 60z"/><path class="k20" d="M2079 3948l24 41-18-34-24-42z"/><path class="k24" d="M2056 3907l23 41-18-35-24-42z"/><path class="k28" d="M2032 3867l24 40-19-36-23-42z"/><path class="k32" d="M2008 3828l24 39-18-38-24-41z"/><path class="k36" d="M1985 3791l23 37-18-40-24-38z"/><path class="k40" d="M1961 3758l24 33-19-41-23-35z"/><path class="k43" d="M1937 3728l24 30-18-43-24-31z"/><path class="k46" d="M1914 3704l23 24-18-44-24-26z"/><path class="k49" d="M1890 3685l24 19-19-46-23-20z"/><path class="k51" d="M1866 3671l24 14-18-47-24-13z"/><path class="k52" d="M1843 3664l23 7-18-46-24-8z"/><path class="k54" d="M1819 3662l24 2-19-47-23-2zM1795 3666l24-4-18-47-24 4zM1772 3674l23-8-18-47-24 9zM1748 3685l24-11-19-46-23 12zM1724 3699l24-14-18-45-24 14z"/><path class="k53" d="M1701 3715l23-16-18-45-24 16zM1677 3730l24-15-19-45-23 16z"/><path class="k52" d="M1653 3746l24-16-18-44-24 16z"/><path class="k51" d="M1630 3760l23-14-18-44-24 15zM1606 3772l24-12-19-43-23 12zM1582 3783l24-11-18-43-24 11zM1559 3791l23-8-18-43-24 8zM1535 3797l24-6-19-43-23 6zM1511 3801l24-4-18-43-24 4zM1488 3803l23-2-18-43-24 2z"/><path class="k52" d="M1464 3805l24-2-19-43-23 1z"/><path class="k53" d="M1440 3805l24 0-18-44-24 0zM1417 3807l23-2-18-44-24 0z"/><path class="k54" d="M1393 3809l24-2-19-46-23 2zM1369 3814l24-5-18-46-24 5zM1346 3823l23-9-18-46-24 8zM1322 3836l24-13-19-47-23 13zM1298 3854l24-18-18-47-24 18z"/><path class="k52" d="M1275 3877l23-23-18-47-24 24z"/><path class="k51" d="M1251 3907l24-30-19-46-23 30z"/><path class="k49" d="M1227 3943l24-36-18-46-24 37z"/><path class="k46" d="M1204 3984l23-41-18-45-24 42z"/><path class="k43" d="M1180 4030l24-46-19-44-23 47z"/><path class="k40" d="M1156 4080l24-50-18-43-24 51z"/><path class="k36" d="M1133 4133l23-53-18-42-24 55z"/><path class="k32" d="M1109 4188l24-55-19-40-23 57z"/><path class="k28" d="M1085 4245l24-57-18-38-24 59z"/><path class="k24" d="M1062 4302l23-57-18-36-24 58z"/><path class="k20" d="M1038 4360l24-58-19-35-23 59z"/><path class="k18" d="M2097 3986l24 39-18-36-24-41z"/><path class="k22" d="M2074 3947l23 39-18-38-23-41z"/><path class="k26" d="M2050 3909l24 38-18-40-24-40z"/><path class="k30" d="M2026 3872l24 37-18-42-24-39z"/><path class="k34" d="M2003 3837l23 35-18-44-23-37z"/><path class="k37" d="M1979 3805l24 32-18-46-24-33z"/><path class="k40" d="M1955 3777l24 28-18-47-24-30z"/><path class="k43" d="M1932 3754l23 23-18-49-23-24z"/><path class="k46" d="M1908 3736l24 18-18-50-24-19z"/><path class="k48" d="M1884 3723l24 13-18-51-24-14z"/><path class="k49" d="M1861 3716l23 7-18-52-23-7z"/><path class="k50" d="M1837 3715l24 1-18-52-24-2z"/><path class="k51" d="M1813 3718l24-3-18-53-24 4zM1790 3725l23-7-18-52-23 8zM1766 3736l24-11-18-51-24 11zM1742 3749l24-13-18-51-24 14z"/><path class="k50" d="M1719 3764l23-15-18-50-23 16zM1695 3779l24-15-18-49-24 15z"/><path class="k49" d="M1671 3793l24-14-18-49-24 16zM1648 3807l23-14-18-47-23 14z"/><path class="k48" d="M1624 3819l24-12-18-47-24 12zM1600 3829l24-10-18-47-24 11zM1577 3837l23-8-18-46-23 8zM1553 3844l24-7-18-46-24 6zM1529 3848l24-4-18-47-24 4z"/><path class="k49" d="M1506 3851l23-3-18-47-23 2zM1482 3853l24-2-18-48-24 2z"/><path class="k50" d="M1458 3854l24-1-18-48-24 0zM1435 3856l23-2-18-49-23 2z"/><path class="k51" d="M1411 3860l24-4-18-49-24 2zM1387 3865l24-5-18-51-24 5zM1364 3875l23-10-18-51-23 9zM1340 3888l24-13-18-52-24 13z"/><path class="k50" d="M1316 3906l24-18-18-52-24 18z"/><path class="k49" d="M1293 3929l23-23-18-52-23 23z"/><path class="k48" d="M1269 3958l24-29-18-52-24 30z"/><path class="k46" d="M1245 3993l24-35-18-51-24 36z"/><path class="k43" d="M1222 4033l23-40-18-50-23 41z"/><path class="k40" d="M1198 4077l24-44-18-49-24 46z"/><path class="k37" d="M1174 4126l24-49-18-47-24 50z"/><path class="k34" d="M1151 4177l23-51-18-46-23 53z"/><path class="k30" d="M1127 4230l24-53-18-44-24 55z"/><path class="k26" d="M1103 4285l24-55-18-42-24 57z"/><path class="k22" d="M1080 4340l23-55-18-40-23 57z"/><path class="k18" d="M1056 4396l24-56-18-38-24 58z"/><path class="k16" d="M2116 4026l23 37-18-38-24-39z"/><path class="k19" d="M2092 3990l24 36-19-40-23-39z"/><path class="k23" d="M2068 3954l24 36-18-43-24-38z"/><path class="k27" d="M2045 3919l23 35-18-45-24-37z"/><path class="k31" d="M2021 3886l24 33-19-47-23-35z"/><path class="k34" d="M1997 3856l24 30-18-49-24-32z"/><path class="k37" d="M1974 3830l23 26-18-51-24-28z"/><path class="k40" d="M1950 3808l24 22-19-53-23-23z"/><path class="k42" d="M1926 3791l24 17-18-54-24-18z"/><path class="k44" d="M1903 3780l23 11-18-55-24-13z"/><path class="k46" d="M1879 3773l24 7-19-57-23-7z"/><path class="k47" d="M1855 3771l24 2-18-57-24-1zM1832 3774l23-3-18-56-24 3z"/><path class="k48" d="M1808 3781l24-7-19-56-23 7zM1784 3791l24-10-18-56-24 11z"/><path class="k47" d="M1761 3803l23-12-18-55-24 13zM1737 3816l24-13-19-54-23 15z"/><path class="k46" d="M1713 3830l24-14-18-52-24 15zM1690 3844l23-14-18-51-24 14z"/><path class="k45" d="M1666 3857l24-13-19-51-23 14zM1642 3869l24-12-18-50-24 12zM1619 3879l23-10-18-50-24 10zM1595 3887l24-8-19-50-23 8zM1571 3894l24-7-18-50-24 7zM1548 3898l23-4-18-50-24 4zM1524 3902l24-4-19-50-23 3z"/><path class="k46" d="M1500 3905l24-3-18-51-24 2zM1477 3907l23-2-18-52-24 1z"/><path class="k47" d="M1453 3910l24-3-19-53-23 2zM1429 3914l24-4-18-54-24 4z"/><path class="k48" d="M1406 3921l23-7-18-54-24 5zM1382 3931l24-10-19-56-23 10z"/><path class="k47" d="M1358 3944l24-13-18-56-24 13zM1335 3962l23-18-18-56-24 18z"/><path class="k46" d="M1311 3986l24-24-19-56-23 23z"/><path class="k44" d="M1287 4014l24-28-18-57-24 29z"/><path class="k42" d="M1264 4048l23-34-18-56-24 35z"/><path class="k40" d="M1240 4086l24-38-19-55-23 40z"/><path class="k37" d="M1216 4129l24-43-18-53-24 44z"/><path class="k34" d="M1193 4175l23-46-18-52-24 49z"/><path class="k31" d="M1169 4224l24-49-19-49-23 51z"/><path class="k27" d="M1145 4275l24-51-18-47-24 53z"/><path class="k23" d="M1122 4328l23-53-18-45-24 55z"/><path class="k19" d="M1098 4381l24-53-19-43-23 55z"/><path class="k16" d="M1074 4434l24-53-18-41-24 56z"/><path class="k13" d="M2134 4069l23 34-18-40-23-37z"/><path class="k17" d="M2110 4035l24 34-18-43-24-36z"/><path class="k20" d="M2086 4001l24 34-18-45-24-36z"/><path class="k24" d="M2063 3969l23 32-18-47-23-35z"/><path class="k27" d="M2039 3938l24 31-18-50-24-33z"/><path class="k31" d="M2015 3911l24 27-18-52-24-30z"/><path class="k34" d="M1992 3887l23 24-18-55-23-26z"/><path class="k36" d="M1968 3866l24 21-18-57-24-22z"/><path class="k38" d="M1944 3850l24 16-18-58-24-17z"/><path class="k40" d="M1921 3839l23 11-18-59-23-11z"/><path class="k42" d="M1897 3833l24 6-18-59-24-7z"/><path class="k43" d="M1873 3831l24 2-18-60-24-2zM1850 3834l23-3-18-60-23 3z"/><path class="k44" d="M1826 3840l24-6-18-60-24 7zM1802 3849l24-9-18-59-24 10zM1779 3860l23-11-18-58-23 12z"/><path class="k43" d="M1755 3872l24-12-18-57-24 13zM1731 3885l24-13-18-56-24 14z"/><path class="k42" d="M1708 3898l23-13-18-55-23 14zM1684 3910l24-12-18-54-24 13zM1660 3921l24-11-18-53-24 12zM1637 3931l23-10-18-52-23 10z"/><path class="k41" d="M1613 3939l24-8-18-52-24 8z"/><path class="k42" d="M1589 3946l24-7-18-52-24 7zM1566 3951l23-5-18-52-23 4zM1542 3956l24-5-18-53-24 4zM1518 3959l24-3-18-54-24 3z"/><path class="k43" d="M1495 3963l23-4-18-54-23 2zM1471 3967l24-4-18-56-24 3z"/><path class="k44" d="M1447 3972l24-5-18-57-24 4zM1424 3980l23-8-18-58-23 7zM1400 3990l24-10-18-59-24 10z"/><path class="k43" d="M1376 4004l24-14-18-59-24 13zM1353 4022l23-18-18-60-23 18z"/><path class="k42" d="M1329 4045l24-23-18-60-24 24z"/><path class="k40" d="M1305 4073l24-28-18-59-24 28z"/><path class="k38" d="M1282 4105l23-32-18-59-23 34z"/><path class="k36" d="M1258 4142l24-37-18-57-24 38z"/><path class="k34" d="M1234 4183l24-41-18-56-24 43z"/><path class="k31" d="M1211 4227l23-44-18-54-23 46z"/><path class="k27" d="M1187 4274l24-47-18-52-24 49z"/><path class="k24" d="M1163 4323l24-49-18-50-24 51z"/><path class="k20" d="M1140 4373l23-50-18-48-23 53z"/><path class="k17" d="M1116 4424l24-51-18-45-24 53z"/><path class="k13" d="M1092 4474l24-50-18-43-24 53z"/><path class="k11" d="M2152 4113l24 32-19-42-23-34z"/><path class="k14" d="M2128 4082l24 31-18-44-24-34z"/><path class="k17" d="M2105 4051l23 31-18-47-24-34z"/><path class="k21" d="M2081 4021l24 30-19-50-23-32z"/><path class="k24" d="M2057 3993l24 28-18-52-24-31z"/><path class="k27" d="M2034 3967l23 26-18-55-24-27z"/><path class="k30" d="M2010 3945l24 22-19-56-23-24z"/><path class="k32" d="M1986 3926l24 19-18-58-24-21z"/><path class="k34" d="M1963 3912l23 14-18-60-24-16z"/><path class="k36" d="M1939 3901l24 11-19-62-23-11z"/><path class="k38" d="M1915 3895l24 6-18-62-24-6z"/><path class="k39" d="M1892 3893l23 2-18-62-24-2zM1868 3895l24-2-19-62-23 3z"/><path class="k40" d="M1844 3901l24-6-18-61-24 6zM1821 3909l23-8-18-61-24 9zM1797 3919l24-10-19-60-23 11z"/><path class="k39" d="M1773 3930l24-11-18-59-24 12zM1750 3942l23-12-18-58-24 13zM1726 3954l24-12-19-57-23 13z"/><path class="k38" d="M1702 3966l24-12-18-56-24 12zM1679 3976l23-10-18-56-24 11zM1655 3986l24-10-19-55-23 10zM1631 3994l24-8-18-55-24 8zM1608 4001l23-7-18-55-24 7zM1584 4007l24-6-19-55-23 5zM1560 4012l24-5-18-56-24 5z"/><path class="k39" d="M1537 4016l23-4-18-56-24 3zM1513 4021l24-5-19-57-23 4zM1489 4026l24-5-18-58-24 4z"/><path class="k40" d="M1466 4032l23-6-18-59-24 5zM1442 4041l24-9-19-60-23 8zM1418 4052l24-11-18-61-24 10z"/><path class="k39" d="M1395 4067l23-15-18-62-24 14zM1371 4085l24-18-19-63-23 18z"/><path class="k38" d="M1347 4107l24-22-18-63-24 23z"/><path class="k36" d="M1324 4134l23-27-18-62-24 28z"/><path class="k34" d="M1300 4165l24-31-19-61-23 32z"/><path class="k32" d="M1276 4201l24-36-18-60-24 37z"/><path class="k30" d="M1253 4239l23-38-18-59-24 41z"/><path class="k27" d="M1229 4281l24-42-19-56-23 44z"/><path class="k24" d="M1205 4326l24-45-18-54-24 47z"/><path class="k21" d="M1182 4372l23-46-18-52-24 49z"/><path class="k17" d="M1158 4420l24-48-19-49-23 50z"/><path class="k14" d="M1134 4468l24-48-18-47-24 51z"/><path class="k11" d="M1111 4516l23-48-18-44-24 50z"/><path class="k8" d="M2170 4159l24 29-18-43-24-32z"/><path class="k11" d="M2146 4130l24 29-18-46-24-31z"/><path class="k14" d="M2123 4101l23 29-18-48-23-31z"/><path class="k17" d="M2099 4074l24 27-18-50-24-30z"/><path class="k20" d="M2075 4048l24 26-18-53-24-28z"/><path class="k23" d="M2052 4025l23 23-18-55-23-26z"/><path class="k26" d="M2028 4005l24 20-18-58-24-22z"/><path class="k28" d="M2004 3988l24 17-18-60-24-19z"/><path class="k30" d="M1981 3974l23 14-18-62-23-14z"/><path class="k32" d="M1957 3965l24 9-18-62-24-11z"/><path class="k33" d="M1933 3959l24 6-18-64-24-6z"/><path class="k34" d="M1910 3957l23 2-18-64-23-2z"/><path class="k35" d="M1886 3959l24-2-18-64-24 2zM1862 3963l24-4-18-64-24 6z"/><path class="k36" d="M1839 3971l23-8-18-62-23 8zM1815 3980l24-9-18-62-24 10z"/><path class="k35" d="M1791 3990l24-10-18-61-24 11zM1768 4001l23-11-18-60-23 12zM1744 4012l24-11-18-59-24 12zM1720 4023l24-11-18-58-24 12z"/><path class="k34" d="M1697 4033l23-10-18-57-23 10zM1673 4042l24-9-18-57-24 10zM1649 4050l24-8-18-56-24 8zM1626 4058l23-8-18-56-23 7zM1602 4064l24-6-18-57-24 6z"/><path class="k35" d="M1578 4070l24-6-18-57-24 5zM1555 4075l23-5-18-58-23 4zM1531 4080l24-5-18-59-24 5zM1507 4087l24-7-18-59-24 5z"/><path class="k36" d="M1484 4094l23-7-18-61-23 6zM1460 4104l24-10-18-62-24 9z"/><path class="k35" d="M1436 4115l24-11-18-63-24 11zM1413 4130l23-15-18-63-23 15z"/><path class="k34" d="M1389 4149l24-19-18-63-24 18z"/><path class="k33" d="M1365 4171l24-22-18-64-24 22z"/><path class="k32" d="M1342 4197l23-26-18-64-23 27z"/><path class="k30" d="M1318 4227l24-30-18-63-24 31z"/><path class="k28" d="M1294 4260l24-33-18-62-24 36z"/><path class="k26" d="M1271 4297l23-37-18-59-23 38z"/><path class="k23" d="M1247 4337l24-40-18-58-24 42z"/><path class="k20" d="M1223 4379l24-42-18-56-24 45z"/><path class="k17" d="M1200 4423l23-44-18-53-23 46z"/><path class="k14" d="M1176 4468l24-45-18-51-24 48z"/><path class="k11" d="M1152 4513l24-45-18-48-24 48z"/><path class="k8" d="M1129 4559l23-46-18-45-23 48z"/><path class="k5" d="M2188 4205l24 27-18-44-24-29z"/><path class="k8" d="M2165 4178l23 27-18-46-24-29z"/><path class="k11" d="M2141 4152l24 26-19-48-23-29z"/><path class="k14" d="M2117 4128l24 24-18-51-24-27z"/><path class="k17" d="M2094 4104l23 24-18-54-24-26z"/><path class="k19" d="M2070 4083l24 21-19-56-23-23z"/><path class="k22" d="M2046 4065l24 18-18-58-24-20z"/><path class="k24" d="M2023 4050l23 15-18-60-24-17z"/><path class="k26" d="M1999 4037l24 13-19-62-23-14z"/><path class="k28" d="M1975 4029l24 8-18-63-24-9z"/><path class="k29" d="M1952 4023l23 6-18-64-24-6z"/><path class="k30" d="M1928 4022l24 1-19-64-23-2z"/><path class="k31" d="M1904 4023l24-1-18-65-24 2zM1881 4027l23-4-18-64-24 4zM1857 4033l24-6-19-64-23 8zM1833 4041l24-8-18-62-24 9zM1810 4050l23-9-18-61-24 10zM1786 4060l24-10-19-60-23 11zM1762 4071l24-11-18-59-24 11zM1739 4081l23-10-18-59-24 11zM1715 4090l24-9-19-58-23 10z"/><path class="k30" d="M1691 4099l24-9-18-57-24 9zM1668 4108l23-9-18-57-24 8zM1644 4115l24-7-19-58-23 8z"/><path class="k31" d="M1620 4122l24-7-18-57-24 6zM1597 4128l23-6-18-58-24 6zM1573 4135l24-7-19-58-23 5zM1549 4141l24-6-18-60-24 5zM1526 4148l23-7-18-61-24 7zM1502 4157l24-9-19-61-23 7zM1478 4167l24-10-18-63-24 10zM1455 4180l23-13-18-63-24 11zM1431 4195l24-15-19-65-23 15z"/><path class="k30" d="M1407 4213l24-18-18-65-24 19z"/><path class="k29" d="M1384 4235l23-22-18-64-24 22z"/><path class="k28" d="M1360 4260l24-25-19-64-23 26z"/><path class="k26" d="M1336 4289l24-29-18-63-24 30z"/><path class="k24" d="M1313 4321l23-32-18-62-24 33z"/><path class="k22" d="M1289 4355l24-34-19-61-23 37z"/><path class="k19" d="M1265 4393l24-38-18-58-24 40z"/><path class="k17" d="M1242 4433l23-40-18-56-24 42z"/><path class="k14" d="M1218 4474l24-41-19-54-23 44z"/><path class="k11" d="M1194 4516l24-42-18-51-24 45z"/><path class="k8" d="M1171 4560l23-44-18-48-24 45z"/><path class="k5" d="M1147 4603l24-43-19-47-23 46z"/><path class="k2" d="M2206 4251l24 25-18-44-24-27z"/><path class="k5" d="M2183 4227l23 24-18-46-23-27z"/><path class="k8" d="M2159 4204l24 23-18-49-24-26z"/><path class="k11" d="M2135 4181l24 23-18-52-24-24z"/><path class="k13" d="M2112 4161l23 20-18-53-23-24z"/><path class="k16" d="M2088 4142l24 19-18-57-24-21z"/><path class="k18" d="M2064 4125l24 17-18-59-24-18z"/><path class="k20" d="M2041 4111l23 14-18-60-23-15z"/><path class="k22" d="M2017 4100l24 11-18-61-24-13z"/><path class="k23" d="M1993 4092l24 8-18-63-24-8z"/><path class="k24" d="M1970 4088l23 4-18-63-23-6z"/><path class="k25" d="M1946 4086l24 2-18-65-24-1z"/><path class="k26" d="M1922 4087l24-1-18-64-24 1z"/><path class="k27" d="M1899 4090l23-3-18-64-23 4zM1875 4096l24-6-18-63-24 6zM1851 4103l24-7-18-63-24 8zM1828 4111l23-8-18-62-23 9zM1804 4120l24-9-18-61-24 10zM1780 4130l24-10-18-60-24 11zM1757 4139l23-9-18-59-23 10zM1733 4149l24-10-18-58-24 9zM1709 4157l24-8-18-59-24 9zM1686 4166l23-9-18-58-23 9zM1662 4173l24-7-18-58-24 7zM1638 4181l24-8-18-58-24 7zM1615 4188l23-7-18-59-23 6zM1591 4195l24-7-18-60-24 7zM1567 4202l24-7-18-60-24 6zM1544 4210l23-8-18-61-23 7zM1520 4219l24-9-18-62-24 9zM1496 4230l24-11-18-62-24 10zM1473 4243l23-13-18-63-23 13z"/><path class="k26" d="M1449 4259l24-16-18-63-24 15z"/><path class="k25" d="M1425 4277l24-18-18-64-24 18z"/><path class="k24" d="M1402 4299l23-22-18-64-23 22z"/><path class="k23" d="M1378 4323l24-24-18-64-24 25z"/><path class="k22" d="M1354 4350l24-27-18-63-24 29z"/><path class="k20" d="M1331 4381l23-31-18-61-23 32z"/><path class="k18" d="M1307 4414l24-33-18-60-24 34z"/><path class="k16" d="M1283 4449l24-35-18-59-24 38z"/><path class="k13" d="M1260 4486l23-37-18-56-23 40z"/><path class="k11" d="M1236 4525l24-39-18-53-24 41z"/><path class="k8" d="M1212 4565l24-40-18-51-24 42z"/><path class="k5" d="M1189 4606l23-41-18-49-23 44z"/><path class="k2" d="M1165 4647l24-41-18-46-24 43z"/></g></g>
<rect x="243.1" y="287.0" width="10.5" height="195.4" fill="url(#pg)" class="cbx"/>
<path class="ax" d="M252.0 481.5L253.6 481.5M252.0 458.5L253.6 458.5M252.0 435.6L253.6 435.6M252.0 412.7L253.6 412.7M252.0 389.7L253.6 389.7M252.0 366.8L253.6 366.8M252.0 343.9L253.6 343.9M252.0 320.9L253.6 320.9M252.0 298.0L253.6 298.0"/>
<path class="gr" d="M396.5 474.6L311.3 422.8M385.7 473.9L496.4 433.4M311.3 422.8L311.3 311.1M496.4 433.4L496.4 321.7M421.1 465.6L335.9 413.8M366.7 462.4L477.4 421.9M335.9 413.8L335.9 302.1M477.4 421.9L477.4 310.2M445.8 456.6L360.6 404.8M347.8 450.9L458.5 410.4M360.6 404.8L360.6 293.1M458.5 410.4L458.5 298.7M470.4 447.6L385.2 395.8M328.9 439.4L439.6 398.9M385.2 395.8L385.2 284.1M439.6 398.9L439.6 287.2M495.0 438.6L409.8 386.8M309.9 427.9L420.6 387.4M409.8 386.8L409.8 275.1M420.6 387.4L420.6 275.7M305.2 414.5L415.9 374.0M501.1 425.8L415.9 374.0M305.2 399.2L415.9 358.7M501.1 410.5L415.9 358.7M305.2 383.8L415.9 343.3M501.1 395.1L415.9 343.3M305.2 368.4L415.9 327.9M501.1 379.7L415.9 327.9M305.2 353.0L415.9 312.5M501.1 364.3L415.9 312.5M305.2 337.6L415.9 297.1M501.1 348.9L415.9 297.1M305.2 322.2L415.9 281.7M501.1 333.5L415.9 281.7"/>
<path class="ax" d="M390.4 476.8L501.1 436.3M390.4 476.8L305.2 425.0M305.2 425.0L305.2 313.3M396.5 474.6L398.1 475.5M385.7 473.9L383.7 474.6M421.1 465.6L422.7 466.5M366.7 462.4L364.8 463.1M445.8 456.6L447.3 457.5M347.8 450.9L345.8 451.6M470.4 447.6L471.9 448.5M328.9 439.4L326.9 440.1M495.0 438.6L496.5 439.5M309.9 427.9L308.0 428.6M305.2 414.5L303.2 415.3M305.2 399.2L303.2 399.9M305.2 383.8L303.2 384.5M305.2 368.4L303.2 369.1M305.2 353.0L303.2 353.7M305.2 337.6L303.2 338.3M305.2 322.2L303.2 322.9"/>
<g transform="scale(.1)"><g class="sf"><path class="k4" d="M3071 4178l25-72-19 54-25 70z"/><path class="k8" d="M3090 4129l24-76-18 53-25 72z"/><path class="k19" d="M3158 3927l25-72-19 55-25 70z"/><path class="k15" d="M3133 4003l25-76-19 53-25 73z"/><path class="k11" d="M3109 4082l24-79-19 50-24 76z"/><path class="k26" d="M3202 3803l24-70-19 54-24 68z"/><path class="k23" d="M3177 3878l25-75-19 52-25 72z"/><path class="k19" d="M3152 3957l25-79-19 49-25 76z"/><path class="k15" d="M3128 4039l24-82-19 46-24 79z"/><path class="k33" d="M3245 3685l25-67-19 50-25 65z"/><path class="k30" d="M3220 3757l25-72-19 48-24 70z"/><path class="k26" d="M3196 3834l24-77-18 46-25 75z"/><path class="k22" d="M3171 3916l25-82-19 44-25 79z"/><path class="k18" d="M3147 4000l24-84-19 41-24 82z"/><path class="k40" d="M3289 3574l24-62-19 45-24 61z"/><path class="k36" d="M3264 3642l25-68-19 44-25 67z"/><path class="k33" d="M3239 3716l25-74-19 43-25 72z"/><path class="k29" d="M3215 3796l24-80-19 41-24 77z"/><path class="k25" d="M3190 3879l25-83-19 38-25 82z"/><path class="k21" d="M3166 3966l24-87-19 37-24 84z"/><path class="k45" d="M3332 3474l25-56-19 39-25 55z"/><path class="k43" d="M3308 3536l24-62-19 38-24 62z"/><path class="k39" d="M3283 3606l25-70-19 38-25 68z"/><path class="k36" d="M3258 3682l25-76-19 36-25 74z"/><path class="k32" d="M3234 3763l24-81-19 34-24 80z"/><path class="k28" d="M3209 3848l25-85-19 33-25 83z"/><path class="k23" d="M3185 3937l24-89-19 31-24 87z"/><path class="k51" d="M3376 3386l24-48-19 32-24 48z"/><path class="k48" d="M3351 3443l25-57-19 32-25 56z"/><path class="k45" d="M3326 3506l25-63-19 31-24 62z"/><path class="k42" d="M3302 3577l24-71-18 30-25 70z"/><path class="k38" d="M3277 3654l25-77-19 29-25 76z"/><path class="k34" d="M3253 3736l24-82-19 28-24 81z"/><path class="k30" d="M3228 3823l25-87-19 27-25 85z"/><path class="k25" d="M3203 3913l25-90-19 25-24 89z"/><path class="k56" d="M3444 3274l24-33-19 25-24 32z"/><path class="k55" d="M3419 3314l25-40-19 24-25 40z"/><path class="k53" d="M3395 3363l24-49-19 24-24 48z"/><path class="k50" d="M3370 3420l25-57-19 23-25 57z"/><path class="k47" d="M3345 3484l25-64-19 23-25 63z"/><path class="k44" d="M3321 3555l24-71-19 22-24 71z"/><path class="k40" d="M3296 3633l25-78-19 22-25 77z"/><path class="k36" d="M3272 3716l24-83-19 21-24 82z"/><path class="k32" d="M3247 3804l25-88-19 20-25 87z"/><path class="k27" d="M3222 3895l25-91-19 19-25 90z"/><path class="k58" d="M3906 3088l24-21-19 17-24 21z"/><path class="k59" d="M3487 3225l25-24-19 16-25 24z"/><path class="k58" d="M3463 3258l24-33-19 16-24 33z"/><path class="k57" d="M3438 3298l25-40-19 16-25 40z"/><path class="k55" d="M3414 3347l24-49-19 16-24 49z"/><path class="k52" d="M3389 3404l25-57-19 16-25 57z"/><path class="k49" d="M3364 3469l25-65-19 16-25 64z"/><path class="k46" d="M3340 3541l24-72-19 15-24 71z"/><path class="k42" d="M3315 3619l25-78-19 14-25 78z"/><path class="k38" d="M3291 3703l24-84-19 14-24 83z"/><path class="k33" d="M3266 3791l25-88-19 13-25 88z"/><path class="k29" d="M3241 3883l25-92-19 13-25 91z"/><path class="k62" d="M4047 2993l25-5-19 8-24 5zM4023 3003l24-10-18 8-25 11z"/><path class="k61" d="M3998 3018l25-15-19 9-25 16zM3974 3037l24-19-19 10-24 18z"/><path class="k60" d="M3949 3057l25-20-19 9-25 21zM3924 3078l25-21-19 10-24 21z"/><path class="k59" d="M3900 3099l24-21-18 10-25 21z"/><path class="k58" d="M3875 3118l25-19-19 10-25 19zM3851 3134l24-16-19 10-24 17zM3826 3147l25-13-19 11-25 13z"/><path class="k57" d="M3801 3157l25-10-19 11-24 9z"/><path class="k58" d="M3777 3163l24-6-18 10-25 6z"/><path class="k62" d="M3580 3164l25-6-19 9-25 6zM3555 3175l25-11-19 9-24 10z"/><path class="k61" d="M3531 3192l24-17-18 8-25 18zM3506 3217l25-25-19 9-25 24z"/><path class="k60" d="M3482 3250l24-33-19 8-24 33z"/><path class="k58" d="M3457 3290l25-40-19 8-25 40z"/><path class="k56" d="M3432 3340l25-50-19 8-24 49z"/><path class="k53" d="M3408 3397l24-57-18 7-25 57z"/><path class="k50" d="M3383 3462l25-65-19 7-25 65z"/><path class="k47" d="M3359 3534l24-72-19 7-24 72z"/><path class="k43" d="M3334 3612l25-78-19 7-25 78z"/><path class="k39" d="M3309 3696l25-84-19 7-24 84z"/><path class="k35" d="M3285 3784l24-88-18 7-25 88z"/><path class="k30" d="M3260 3876l25-92-19 7-25 92z"/><path class="k63" d="M4066 2991l25-4-19 1-25 5zM4042 3001l24-10-19 2-24 10z"/><path class="k62" d="M4017 3016l25-15-19 2-25 15zM3993 3034l24-18-19 2-24 19z"/><path class="k61" d="M3968 3054l25-20-19 3-25 20zM3943 3074l25-20-19 3-25 21z"/><path class="k60" d="M3919 3094l24-20-19 4-24 21z"/><path class="k59" d="M3894 3113l25-19-19 5-25 19zM3870 3129l24-16-19 5-24 16zM3845 3142l25-13-19 5-25 13zM3820 3152l25-10-19 5-25 10zM3796 3158l24-6-19 5-24 6zM3771 3161l25-3-19 5-25 2z"/><path class="k62" d="M3624 3156l24-2-19 2-24 2z"/><path class="k63" d="M3599 3162l25-6-19 2-25 6zM3574 3173l25-11-19 2-25 11z"/><path class="k62" d="M3550 3191l24-18-19 2-24 17zM3525 3216l25-25-19 1-25 25z"/><path class="k60" d="M3501 3249l24-33-19 1-24 33z"/><path class="k59" d="M3476 3290l25-41-19 1-25 40z"/><path class="k57" d="M3451 3339l25-49-19 0-25 50z"/><path class="k54" d="M3427 3396l24-57-19 1-24 57z"/><path class="k51" d="M3402 3461l25-65-19 1-25 65z"/><path class="k48" d="M3378 3533l24-72-19 1-24 72z"/><path class="k44" d="M3353 3611l25-78-19 1-25 78z"/><path class="k40" d="M3328 3695l25-84-19 1-25 84z"/><path class="k36" d="M3304 3783l24-88-19 1-24 88z"/><path class="k31" d="M3279 3875l25-92-19 1-25 92z"/><path class="k62" d="M4135 2995l24 10-19-7-24-9z"/><path class="k63" d="M4110 2992l25 3-19-6-25-2zM4085 2996l25-4-19-5-25 4zM4061 3006l24-10-19-5-24 10zM4036 3020l25-14-19-5-25 15zM4012 3037l24-17-19-4-24 18z"/><path class="k62" d="M3987 3056l25-19-19-3-25 20z"/><path class="k61" d="M3962 3076l25-20-19-2-25 20zM3938 3096l24-20-19-2-24 20z"/><path class="k60" d="M3913 3114l25-18-19-2-25 19zM3889 3130l24-16-19-1-24 16z"/><path class="k59" d="M3864 3143l25-13-19-1-25 13zM3839 3152l25-9-19-1-25 10zM3815 3159l24-7-19 0-24 6z"/><path class="k60" d="M3790 3162l25-3-19-1-25 3z"/><path class="k61" d="M3741 3161l25 1-19-1-25-2zM3716 3159l25 2-19-2-25-2z"/><path class="k62" d="M3692 3157l24 2-19-2-24-3zM3667 3157l25 0-19-3-25 0z"/><path class="k63" d="M3643 3160l24-3-19-3-24 2zM3618 3167l25-7-19-4-25 6zM3593 3179l25-12-19-5-25 11zM3569 3197l24-18-19-6-24 18z"/><path class="k62" d="M3544 3223l25-26-19-6-25 25z"/><path class="k61" d="M3520 3256l24-33-19-7-24 33z"/><path class="k59" d="M3495 3297l25-41-19-7-25 41z"/><path class="k57" d="M3470 3346l25-49-19-7-25 49z"/><path class="k55" d="M3446 3403l24-57-19-7-24 57z"/><path class="k52" d="M3421 3467l25-64-19-7-25 65z"/><path class="k48" d="M3397 3539l24-72-19-6-24 72z"/><path class="k45" d="M3372 3617l25-78-19-6-25 78z"/><path class="k41" d="M3347 3700l25-83-19-6-25 84z"/><path class="k36" d="M3323 3787l24-87-19-5-24 88z"/><path class="k31" d="M3298 3878l25-91-19-4-25 92z"/><path class="k62" d="M4153 3007l25 10-19-12-24-10z"/><path class="k63" d="M4129 3004l24 3-18-12-25-3zM4104 3007l25-3-19-12-25 4zM4080 3016l24-9-19-11-24 10zM4055 3029l25-13-19-10-25 14zM4030 3045l25-16-19-9-24 17z"/><path class="k62" d="M4006 3064l24-19-18-8-25 19zM3981 3083l25-19-19-8-25 20z"/><path class="k61" d="M3957 3103l24-20-19-7-24 20zM3932 3120l25-17-19-7-25 18z"/><path class="k60" d="M3907 3136l25-16-19-6-24 16zM3883 3149l24-13-18-6-25 13zM3858 3158l25-9-19-6-25 9zM3834 3165l24-7-19-6-24 7zM3809 3168l25-3-19-6-25 3z"/><path class="k61" d="M3784 3169l25-1-19-6-24 0zM3760 3168l24 1-18-7-25-1z"/><path class="k62" d="M3735 3166l25 2-19-7-25-2zM3711 3165l24 1-19-7-24-2z"/><path class="k63" d="M3686 3166l25-1-19-8-25 0zM3661 3170l25-4-19-9-24 3zM3637 3177l24-7-18-10-25 7zM3612 3190l25-13-19-10-25 12zM3588 3209l24-19-19-11-24 18z"/><path class="k62" d="M3563 3235l25-26-19-12-25 26z"/><path class="k61" d="M3538 3268l25-33-19-12-24 33z"/><path class="k59" d="M3514 3309l24-41-18-12-25 41z"/><path class="k57" d="M3489 3358l25-49-19-12-25 49z"/><path class="k55" d="M3465 3415l24-57-19-12-24 57z"/><path class="k52" d="M3440 3479l25-64-19-12-25 64z"/><path class="k49" d="M3415 3550l25-71-19-12-24 72z"/><path class="k45" d="M3391 3627l24-77-18-11-25 78z"/><path class="k41" d="M3366 3709l25-82-19-10-25 83z"/><path class="k36" d="M3342 3796l24-87-19-9-24 87z"/><path class="k32" d="M3317 3886l25-90-19-9-25 91z"/><path class="k60" d="M4197 3034l25 18-19-17-25-18z"/><path class="k62" d="M4172 3024l25 10-19-17-25-10z"/><path class="k63" d="M4148 3020l24 4-19-17-24-3zM4123 3023l25-3-19-16-25 3zM4099 3031l24-8-19-16-24 9zM4074 3043l25-12-19-15-25 13zM4049 3059l25-16-19-14-25 16z"/><path class="k62" d="M4025 3076l24-17-19-14-24 19zM4000 3095l25-19-19-12-25 19z"/><path class="k61" d="M3976 3114l24-19-19-12-24 20zM3951 3132l25-18-19-11-25 17z"/><path class="k60" d="M3926 3147l25-15-19-12-25 16zM3902 3160l24-13-19-11-24 13zM3877 3169l25-9-19-11-25 9zM3853 3176l24-7-19-11-24 7zM3828 3179l25-3-19-11-25 3z"/><path class="k61" d="M3803 3180l25-1-19-11-25 1zM3779 3179l24 1-19-11-24-1z"/><path class="k62" d="M3754 3179l25 0-19-11-25-2zM3730 3178l24 1-19-13-24-1z"/><path class="k63" d="M3705 3180l25-2-19-13-25 1zM3680 3184l25-4-19-14-25 4zM3656 3193l24-9-19-14-24 7zM3631 3206l25-13-19-16-25 13zM3607 3226l24-20-19-16-24 19z"/><path class="k62" d="M3582 3252l25-26-19-17-25 26z"/><path class="k61" d="M3557 3285l25-33-19-17-25 33z"/><path class="k59" d="M3533 3326l24-41-19-17-24 41z"/><path class="k57" d="M3508 3375l25-49-19-17-25 49z"/><path class="k55" d="M3484 3431l24-56-19-17-24 57z"/><path class="k52" d="M3459 3495l25-64-19-16-25 64z"/><path class="k48" d="M3434 3565l25-70-19-16-25 71z"/><path class="k45" d="M3410 3641l24-76-19-15-24 77z"/><path class="k41" d="M3385 3722l25-81-19-14-25 82z"/><path class="k36" d="M3361 3808l24-86-19-13-24 87z"/><path class="k32" d="M3336 3897l25-89-19-12-25 90z"/><path class="k58" d="M4241 3073l24 25-19-20-24-26z"/><path class="k60" d="M4216 3055l25 18-19-21-25-18z"/><path class="k61" d="M4191 3044l25 11-19-21-25-10z"/><path class="k62" d="M4167 3040l24 4-19-20-24-4z"/><path class="k63" d="M4142 3042l25-2-19-20-25 3zM4118 3049l24-7-19-19-24 8zM4093 3060l25-11-19-18-25 12zM4068 3075l25-15-19-17-25 16z"/><path class="k62" d="M4044 3092l24-17-19-16-24 17zM4019 3111l25-19-19-16-25 19z"/><path class="k61" d="M3995 3130l24-19-19-16-24 19zM3970 3147l25-17-19-16-25 18z"/><path class="k60" d="M3945 3163l25-16-19-15-25 15zM3921 3176l24-13-19-16-24 13zM3896 3186l25-10-19-16-25 9zM3872 3192l24-6-19-17-24 7zM3847 3195l25-3-19-16-25 3z"/><path class="k61" d="M3822 3196l25-1-19-16-25 1zM3798 3195l24 1-19-16-24-1z"/><path class="k62" d="M3773 3194l25 1-19-16-25 0zM3749 3195l24-1-19-15-24-1z"/><path class="k63" d="M3724 3197l25-2-19-17-25 2zM3699 3202l25-5-19-17-25 4zM3675 3212l24-10-19-18-24 9zM3650 3226l25-14-19-19-25 13z"/><path class="k62" d="M3626 3246l24-20-19-20-24 20zM3601 3273l25-27-19-20-25 26z"/><path class="k60" d="M3576 3306l25-33-19-21-25 33z"/><path class="k59" d="M3552 3347l24-41-19-21-24 41z"/><path class="k57" d="M3527 3395l25-48-19-21-25 49z"/><path class="k54" d="M3503 3451l24-56-19-20-24 56z"/><path class="k51" d="M3478 3514l25-63-19-20-25 64z"/><path class="k48" d="M3453 3583l25-69-19-19-25 70z"/><path class="k44" d="M3429 3658l24-75-19-18-24 76z"/><path class="k41" d="M3404 3738l25-80-19-17-25 81z"/><path class="k36" d="M3380 3823l24-85-19-16-24 86z"/><path class="k32" d="M3355 3911l25-88-19-15-25 89z"/><path class="k58" d="M4259 3096l25 25-19-23-24-25z"/><path class="k59" d="M4235 3078l24 18-18-23-25-18z"/><path class="k61" d="M4210 3067l25 11-19-23-25-11z"/><path class="k62" d="M4186 3062l24 5-19-23-24-4zM4161 3063l25-1-19-22-25 2z"/><path class="k63" d="M4136 3069l25-6-19-21-24 7zM4112 3080l24-11-18-20-25 11z"/><path class="k62" d="M4087 3094l25-14-19-20-25 15zM4063 3111l24-17-19-19-24 17z"/><path class="k61" d="M4038 3130l25-19-19-19-25 19zM4013 3149l25-19-19-19-24 19z"/><path class="k60" d="M3989 3168l24-19-18-19-25 17zM3964 3184l25-16-19-21-25 16zM3940 3198l24-14-19-21-24 13z"/><path class="k59" d="M3915 3208l25-10-19-22-25 10zM3890 3213l25-5-19-22-24 6z"/><path class="k60" d="M3866 3216l24-3-18-21-25 3zM3841 3215l25 1-19-21-25 1z"/><path class="k61" d="M3817 3214l24 1-19-19-24-1zM3792 3213l25 1-19-19-25-1z"/><path class="k62" d="M3767 3214l25-1-19-19-24 1zM3743 3217l24-3-18-19-25 2z"/><path class="k63" d="M3718 3223l25-6-19-20-25 5zM3694 3233l24-10-19-21-24 10z"/><path class="k62" d="M3669 3248l25-15-19-21-25 14zM3644 3268l25-20-19-22-24 20z"/><path class="k61" d="M3620 3295l24-27-18-22-25 27z"/><path class="k60" d="M3595 3329l25-34-19-22-25 33z"/><path class="k58" d="M3571 3370l24-41-19-23-24 41z"/><path class="k56" d="M3546 3418l25-48-19-23-25 48z"/><path class="k54" d="M3521 3473l25-55-19-23-24 56z"/><path class="k51" d="M3497 3535l24-62-18-22-25 63z"/><path class="k48" d="M3472 3603l25-68-19-21-25 69z"/><path class="k44" d="M3448 3677l24-74-19-20-24 75z"/><path class="k40" d="M3423 3757l25-80-19-19-25 80z"/><path class="k36" d="M3398 3840l25-83-19-19-24 85z"/><path class="k32" d="M3374 3927l24-87-18-17-25 88z"/><path class="k57" d="M4278 3120l25 25-19-24-25-25z"/><path class="k59" d="M4254 3102l24 18-19-24-24-18z"/><path class="k60" d="M4229 3090l25 12-19-24-25-11z"/><path class="k61" d="M4205 3085l24 5-19-23-24-5z"/><path class="k62" d="M4180 3085l25 0-19-23-25 1zM4155 3091l25-6-19-22-25 6zM4131 3101l24-10-19-22-24 11zM4106 3115l25-14-19-21-25 14z"/><path class="k61" d="M4082 3132l24-17-19-21-24 17zM4057 3151l25-19-19-21-25 19z"/><path class="k60" d="M4032 3172l25-21-19-21-25 19zM4008 3192l24-20-19-23-24 19z"/><path class="k59" d="M3983 3210l25-18-19-24-25 16zM3959 3225l24-15-19-26-24 14zM3934 3235l25-10-19-27-25 10zM3909 3240l25-5-19-27-25 5zM3885 3241l24-1-19-27-24 3z"/><path class="k60" d="M3860 3239l25 2-19-25-25-1zM3836 3236l24 3-19-24-24-1z"/><path class="k61" d="M3811 3234l25 2-19-22-25-1zM3786 3235l25-1-19-21-25 1z"/><path class="k62" d="M3762 3238l24-3-19-21-24 3zM3737 3244l25-6-19-21-25 6zM3713 3255l24-11-19-21-24 10zM3688 3271l25-16-19-22-25 15z"/><path class="k61" d="M3663 3292l25-21-19-23-25 20z"/><path class="k60" d="M3639 3319l24-27-19-24-24 27z"/><path class="k59" d="M3614 3353l25-34-19-24-25 34z"/><path class="k58" d="M3590 3394l24-41-19-24-24 41z"/><path class="k56" d="M3565 3441l25-47-19-24-25 48z"/><path class="k53" d="M3540 3496l25-55-19-23-25 55z"/><path class="k50" d="M3516 3557l24-61-19-23-24 62z"/><path class="k47" d="M3491 3625l25-68-19-22-25 68z"/><path class="k44" d="M3467 3698l24-73-19-22-24 74z"/><path class="k40" d="M3442 3776l25-78-19-21-25 80z"/><path class="k36" d="M3417 3858l25-82-19-19-25 83z"/><path class="k31" d="M3393 3944l24-86-19-18-24 87z"/><path class="k54" d="M4322 3168l25 32-19-23-25-32z"/><path class="k56" d="M4297 3143l25 25-19-23-25-25z"/><path class="k58" d="M4273 3125l24 18-19-23-24-18z"/><path class="k59" d="M4248 3113l25 12-19-23-25-12z"/><path class="k60" d="M4224 3108l24 5-19-23-24-5z"/><path class="k61" d="M4199 3108l25 0-19-23-25 0zM4174 3113l25-5-19-23-25 6zM4150 3123l24-10-19-22-24 10zM4125 3137l25-14-19-22-25 14zM4101 3154l24-17-19-22-24 17z"/><path class="k60" d="M4076 3175l25-21-19-22-25 19zM4051 3197l25-22-19-24-25 21z"/><path class="k59" d="M4027 3220l24-23-19-25-24 20z"/><path class="k58" d="M4002 3240l25-20-19-28-25 18zM3978 3256l24-16-19-30-24 15zM3953 3266l25-10-19-31-25 10zM3928 3270l25-4-19-31-25 5zM3904 3269l24 1-19-30-24 1z"/><path class="k59" d="M3879 3265l25 4-19-28-25-2zM3855 3260l24 5-19-26-24-3z"/><path class="k60" d="M3830 3257l25 3-19-24-25-2z"/><path class="k61" d="M3805 3256l25 1-19-23-25 1zM3781 3259l24-3-19-21-24 3zM3756 3266l25-7-19-21-25 6zM3732 3277l24-11-19-22-24 11zM3707 3293l25-16-19-22-25 16zM3682 3315l25-22-19-22-25 21z"/><path class="k60" d="M3658 3342l24-27-19-23-24 27z"/><path class="k59" d="M3633 3376l25-34-19-23-25 34z"/><path class="k57" d="M3609 3417l24-41-19-23-24 41z"/><path class="k55" d="M3584 3464l25-47-19-23-25 47z"/><path class="k52" d="M3559 3519l25-55-19-23-25 55z"/><path class="k50" d="M3535 3579l24-60-19-23-24 61z"/><path class="k47" d="M3510 3646l25-67-19-22-25 68z"/><path class="k43" d="M3486 3718l24-72-19-21-24 73z"/><path class="k39" d="M3461 3795l25-77-19-20-25 78z"/><path class="k35" d="M3436 3876l25-81-19-19-25 82z"/><path class="k31" d="M3412 3961l24-85-19-18-24 86z"/><path class="k56" d="M4316 3165l25 25-19-22-25-25z"/><path class="k57" d="M4292 3147l24 18-19-22-24-18z"/><path class="k59" d="M4267 3135l25 12-19-22-25-12z"/><path class="k60" d="M4242 3129l25 6-19-22-24-5zM4218 3129l24 0-18-21-25 0z"/><path class="k61" d="M4193 3133l25-4-19-21-25 5zM4169 3143l24-10-19-20-24 10zM4144 3157l25-14-19-20-25 14z"/><path class="k60" d="M4119 3176l25-19-19-20-24 17zM4095 3198l24-22-18-22-25 21z"/><path class="k59" d="M4070 3223l25-25-19-23-25 22z"/><path class="k58" d="M4046 3248l24-25-19-26-24 23z"/><path class="k57" d="M4021 3271l25-23-19-28-25 20zM3996 3289l25-18-19-31-24 16z"/><path class="k56" d="M3972 3299l24-10-18-33-25 10z"/><path class="k57" d="M3947 3302l25-3-19-33-25 4zM3923 3298l24 4-19-32-24-1z"/><path class="k58" d="M3898 3291l25 7-19-29-25-4z"/><path class="k59" d="M3873 3284l25 7-19-26-24-5z"/><path class="k60" d="M3849 3279l24 5-18-24-25-3zM3824 3277l25 2-19-22-25-1z"/><path class="k61" d="M3800 3279l24-2-19-21-24 3zM3775 3286l25-7-19-20-25 7zM3750 3298l25-12-19-20-24 11zM3726 3314l24-16-18-21-25 16z"/><path class="k60" d="M3701 3336l25-22-19-21-25 22z"/><path class="k59" d="M3677 3364l24-28-19-21-24 27z"/><path class="k58" d="M3652 3398l25-34-19-22-25 34z"/><path class="k56" d="M3627 3439l25-41-19-22-24 41z"/><path class="k54" d="M3603 3486l24-47-18-22-25 47z"/><path class="k52" d="M3578 3540l25-54-19-22-25 55z"/><path class="k49" d="M3554 3600l24-60-19-21-24 60z"/><path class="k46" d="M3529 3666l25-66-19-21-25 67z"/><path class="k43" d="M3504 3737l25-71-19-20-24 72z"/><path class="k39" d="M3480 3813l24-76-18-19-25 77z"/><path class="k35" d="M3455 3894l25-81-19-18-25 81z"/><path class="k31" d="M3431 3977l24-83-19-18-24 85z"/><path class="k57" d="M4311 3166l24 19-19-20-24-18z"/><path class="k58" d="M4286 3154l25 12-19-19-25-12z"/><path class="k59" d="M4261 3148l25 6-19-19-25-6z"/><path class="k60" d="M4237 3147l24 1-19-19-24 0zM4212 3152l25-5-19-18-25 4zM4188 3162l24-10-19-19-24 10zM4163 3176l25-14-19-19-25 14zM4138 3196l25-20-19-19-25 19z"/><path class="k59" d="M4114 3220l24-24-19-20-24 22z"/><path class="k58" d="M4089 3247l25-27-19-22-25 25z"/><path class="k57" d="M4065 3275l24-28-19-24-24 25z"/><path class="k56" d="M4040 3300l25-25-19-27-25 23zM4015 3319l25-19-19-29-25 18z"/><path class="k55" d="M3991 3330l24-11-19-30-24 10zM3966 3331l25-1-19-31-25 3z"/><path class="k56" d="M3942 3326l24 5-19-29-24-4z"/><path class="k57" d="M3917 3316l25 10-19-28-25-7z"/><path class="k58" d="M3892 3306l25 10-19-25-25-7z"/><path class="k59" d="M3868 3299l24 7-19-22-24-5z"/><path class="k60" d="M3843 3296l25 3-19-20-25-2zM3819 3298l24-2-19-19-24 2zM3794 3305l25-7-19-19-25 7zM3769 3316l25-11-19-19-25 12zM3745 3333l24-17-19-18-24 16zM3720 3356l25-23-19-19-25 22z"/><path class="k59" d="M3696 3384l24-28-19-20-24 28z"/><path class="k57" d="M3671 3418l25-34-19-20-25 34z"/><path class="k56" d="M3646 3458l25-40-19-20-25 41z"/><path class="k54" d="M3622 3505l24-47-19-19-24 47z"/><path class="k51" d="M3597 3559l25-54-19-19-25 54z"/><path class="k49" d="M3573 3618l24-59-19-19-24 60z"/><path class="k46" d="M3548 3684l25-66-19-18-25 66z"/><path class="k42" d="M3523 3754l25-70-19-18-25 71z"/><path class="k38" d="M3499 3830l24-76-19-17-24 76z"/><path class="k35" d="M3474 3910l25-80-19-17-25 81z"/><path class="k30" d="M3450 3993l24-83-19-16-24 83z"/><path class="k56" d="M4330 3183l24 18-19-16-24-19z"/><path class="k58" d="M4305 3171l25 12-19-17-25-12z"/><path class="k59" d="M4280 3164l25 7-19-17-25-6z"/><path class="k60" d="M4256 3163l24 1-19-16-24-1zM4231 3168l25-5-19-16-25 5zM4207 3177l24-9-19-16-24 10zM4182 3192l25-15-19-15-25 14z"/><path class="k59" d="M4157 3212l25-20-19-16-25 20zM4133 3238l24-26-19-16-24 24z"/><path class="k58" d="M4108 3267l25-29-19-18-25 27z"/><path class="k57" d="M4084 3296l24-29-19-20-24 28z"/><path class="k56" d="M4059 3324l25-28-19-21-25 25z"/><path class="k55" d="M4034 3344l25-20-19-24-25 19z"/><path class="k54" d="M4010 3355l24-11-19-25-24 11z"/><path class="k55" d="M3985 3355l25 0-19-25-25 1zM3961 3348l24 7-19-24-24-5z"/><path class="k56" d="M3936 3337l25 11-19-22-25-10z"/><path class="k57" d="M3911 3325l25 12-19-21-25-10z"/><path class="k58" d="M3887 3316l24 9-19-19-24-7z"/><path class="k59" d="M3862 3312l25 4-19-17-25-3z"/><path class="k60" d="M3838 3314l24-2-19-16-24 2zM3813 3320l25-6-19-16-25 7zM3788 3332l25-12-19-15-25 11zM3764 3349l24-17-19-16-24 17z"/><path class="k59" d="M3739 3372l25-23-19-16-25 23z"/><path class="k58" d="M3715 3400l24-28-19-16-24 28z"/><path class="k57" d="M3690 3434l25-34-19-16-25 34z"/><path class="k55" d="M3665 3475l25-41-19-16-25 40z"/><path class="k53" d="M3641 3522l24-47-19-17-24 47z"/><path class="k51" d="M3616 3575l25-53-19-17-25 54z"/><path class="k48" d="M3592 3634l24-59-19-16-24 59z"/><path class="k45" d="M3567 3699l25-65-19-16-25 66z"/><path class="k42" d="M3542 3770l25-71-19-15-25 70z"/><path class="k38" d="M3518 3845l24-75-19-16-24 76z"/><path class="k34" d="M3493 3924l25-79-19-15-25 80z"/><path class="k30" d="M3469 4007l24-83-19-14-24 83z"/><path class="k58" d="M4324 3183l24 12-18-12-25-12z"/><path class="k59" d="M4299 3177l25 6-19-12-25-7zM4275 3176l24 1-19-13-24-1z"/><path class="k60" d="M4250 3181l25-5-19-13-25 5zM4225 3190l25-9-19-13-24 9zM4201 3205l24-15-18-13-25 15z"/><path class="k59" d="M4176 3225l25-20-19-13-25 20zM4152 3251l24-26-19-13-24 26z"/><path class="k57" d="M4127 3280l25-29-19-13-25 29z"/><path class="k56" d="M4102 3311l25-31-19-13-24 29z"/><path class="k55" d="M4078 3339l24-28-18-15-25 28z"/><path class="k54" d="M4053 3359l25-20-19-15-25 20zM4029 3370l24-11-19-15-24 11z"/><path class="k56" d="M3955 3351l24 12-18-15-25-11z"/><path class="k57" d="M3930 3338l25 13-19-14-25-12z"/><path class="k58" d="M3906 3329l24 9-19-13-24-9z"/><path class="k59" d="M3881 3325l25 4-19-13-25-4z"/><path class="k60" d="M3856 3327l25-2-19-13-24 2zM3832 3333l24-6-18-13-25 6zM3807 3345l25-12-19-13-25 12zM3783 3362l24-17-19-13-24 17z"/><path class="k59" d="M3758 3385l25-23-19-13-25 23z"/><path class="k58" d="M3733 3413l25-28-19-13-24 28z"/><path class="k57" d="M3709 3447l24-34-18-13-25 34z"/><path class="k55" d="M3684 3487l25-40-19-13-25 41z"/><path class="k53" d="M3660 3534l24-47-19-12-24 47z"/><path class="k51" d="M3635 3587l25-53-19-12-25 53z"/><path class="k48" d="M3610 3647l25-60-19-12-24 59z"/><path class="k45" d="M3586 3712l24-65-18-13-25 65z"/><path class="k42" d="M3561 3782l25-70-19-13-25 71z"/><path class="k38" d="M3537 3857l24-75-19-12-24 75z"/><path class="k34" d="M3512 3936l25-79-19-12-25 79z"/><path class="k30" d="M3487 4019l25-83-19-12-24 83z"/><path class="k58" d="M4343 3193l24 12-19-10-24-12z"/><path class="k59" d="M4318 3186l25 7-19-10-25-6zM4294 3185l24 1-19-9-24-1z"/><path class="k60" d="M4269 3190l25-5-19-9-25 5zM4244 3200l25-10-19-9-25 9zM4220 3214l24-14-19-10-24 15z"/><path class="k59" d="M4195 3234l25-20-19-9-25 20zM4171 3259l24-25-19-9-24 26z"/><path class="k58" d="M4146 3288l25-29-19-8-25 29z"/><path class="k56" d="M4121 3317l25-29-19-8-25 31z"/><path class="k55" d="M4097 3344l24-27-19-6-24 28z"/><path class="k54" d="M4072 3364l25-20-19-5-25 20z"/><path class="k57" d="M3949 3346l25 12-19-7-25-13z"/><path class="k58" d="M3925 3338l24 8-19-8-24-9z"/><path class="k59" d="M3900 3334l25 4-19-9-25-4z"/><path class="k60" d="M3875 3336l25-2-19-9-25 2zM3851 3343l24-7-19-9-24 6zM3826 3354l25-11-19-10-25 12zM3802 3371l24-17-19-9-24 17z"/><path class="k59" d="M3777 3394l25-23-19-9-25 23z"/><path class="k58" d="M3752 3422l25-28-19-9-25 28z"/><path class="k57" d="M3728 3456l24-34-19-9-24 34z"/><path class="k55" d="M3703 3497l25-41-19-9-25 40z"/><path class="k53" d="M3679 3544l24-47-19-10-24 47z"/><path class="k51" d="M3654 3597l25-53-19-10-25 53z"/><path class="k48" d="M3629 3656l25-59-19-10-25 60z"/><path class="k45" d="M3605 3721l24-65-19-9-24 65z"/><path class="k42" d="M3580 3792l25-71-19-9-25 70z"/><path class="k38" d="M3556 3867l24-75-19-10-24 75z"/><path class="k34" d="M3531 3946l25-79-19-10-25 79z"/><path class="k30" d="M3506 4029l25-83-19-10-25 83z"/><path class="k59" d="M4337 3192l25 6-19-5-25-7z"/><path class="k60" d="M4313 3192l24 0-19-6-24-1zM4288 3196l25-4-19-7-25 5zM4263 3206l25-10-19-6-25 10zM4239 3220l24-14-19-6-24 14zM4214 3239l25-19-19-6-25 20z"/><path class="k59" d="M4190 3263l24-24-19-5-24 25z"/><path class="k58" d="M4165 3290l25-27-19-4-25 29z"/><path class="k57" d="M4140 3317l25-27-19-2-25 29z"/><path class="k56" d="M4116 3342l24-25-19 0-24 27z"/><path class="k55" d="M4091 3360l25-18-19 2-25 20z"/><path class="k59" d="M3944 3343l24 7-19-4-24-8zM3919 3340l25 3-19-5-25-4z"/><path class="k60" d="M3894 3342l25-2-19-6-25 2zM3870 3349l24-7-19-6-24 7zM3845 3361l25-12-19-6-25 11zM3821 3377l24-16-19-7-24 17z"/><path class="k59" d="M3796 3400l25-23-19-6-25 23z"/><path class="k58" d="M3771 3428l25-28-19-6-25 28z"/><path class="k57" d="M3747 3462l24-34-19-6-24 34z"/><path class="k55" d="M3722 3502l25-40-19-6-25 41z"/><path class="k53" d="M3698 3549l24-47-19-5-24 47z"/><path class="k51" d="M3673 3603l25-54-19-5-25 53z"/><path class="k48" d="M3648 3663l25-60-19-6-25 59z"/><path class="k45" d="M3624 3728l24-65-19-7-24 65z"/><path class="k42" d="M3599 3799l25-71-19-7-25 71z"/><path class="k38" d="M3575 3875l24-76-19-7-24 75z"/><path class="k34" d="M3550 3955l25-80-19-8-25 79z"/><path class="k30" d="M3525 4038l25-83-19-9-25 83z"/><path class="k59" d="M4356 3195l25 6-19-3-25-6z"/><path class="k60" d="M4331 3195l25 0-19-3-24 0zM4307 3200l24-5-18-3-25 4z"/><path class="k61" d="M4282 3210l25-10-19-4-25 10z"/><path class="k60" d="M4258 3224l24-14-19-4-24 14zM4233 3242l25-18-19-4-25 19z"/><path class="k59" d="M4208 3264l25-22-19-3-24 24z"/><path class="k58" d="M4184 3288l24-24-18-1-25 27zM4159 3312l25-24-19 2-25 27z"/><path class="k57" d="M4135 3335l24-23-19 5-24 25z"/><path class="k56" d="M4110 3352l25-17-19 7-25 18z"/><path class="k60" d="M3938 3343l24 2-18-2-25-3zM3913 3346l25-3-19-3-25 2z"/><path class="k61" d="M3889 3353l24-7-19-4-24 7zM3864 3364l25-11-19-4-25 12z"/><path class="k60" d="M3839 3381l25-17-19-3-24 16zM3815 3403l24-22-18-4-25 23z"/><path class="k59" d="M3790 3431l25-28-19-3-25 28z"/><path class="k57" d="M3766 3465l24-34-19-3-24 34z"/><path class="k56" d="M3741 3505l25-40-19-3-25 40z"/><path class="k54" d="M3716 3552l25-47-19-3-24 47z"/><path class="k51" d="M3692 3606l24-54-18-3-25 54z"/><path class="k49" d="M3667 3666l25-60-19-3-25 60z"/><path class="k46" d="M3643 3732l24-66-19-3-24 65z"/><path class="k42" d="M3618 3804l25-72-19-4-25 71z"/><path class="k39" d="M3593 3880l25-76-19-5-24 76z"/><path class="k35" d="M3569 3961l24-81-18-5-25 80z"/><path class="k30" d="M3544 4045l25-84-19-6-25 83z"/><path class="k61" d="M4326 3202l24-5-19-2-24 5zM4301 3212l25-10-19-2-25 10zM4277 3226l24-14-19-2-24 14zM4252 3243l25-17-19-2-25 18z"/><path class="k60" d="M4227 3263l25-20-19-1-25 22z"/><path class="k59" d="M4203 3285l24-22-19 1-24 24z"/><path class="k58" d="M4178 3307l25-22-19 3-25 24zM4154 3327l24-20-19 5-24 23z"/><path class="k57" d="M4129 3342l25-15-19 8-25 17zM4104 3352l25-10-19 10-25 10z"/><path class="k60" d="M3981 3346l25 2-19 2-25-5zM3957 3345l24 1-19-1-24-2z"/><path class="k61" d="M3932 3348l25-3-19-2-25 3zM3908 3355l24-7-19-2-24 7zM3883 3366l25-11-19-2-25 11zM3858 3382l25-16-19-2-25 17z"/><path class="k60" d="M3834 3404l24-22-19-1-24 22z"/><path class="k59" d="M3809 3431l25-27-19-1-25 28z"/><path class="k58" d="M3785 3465l24-34-19 0-24 34z"/><path class="k56" d="M3760 3506l25-41-19 0-25 40z"/><path class="k54" d="M3735 3553l25-47-19-1-25 47z"/><path class="k52" d="M3711 3608l24-55-19-1-24 54z"/><path class="k49" d="M3686 3668l25-60-19-2-25 60z"/><path class="k46" d="M3662 3735l24-67-19-2-24 66z"/><path class="k43" d="M3637 3808l25-73-19-3-25 72z"/><path class="k39" d="M3612 3885l25-77-19-4-25 76z"/><path class="k35" d="M3588 3966l24-81-19-5-24 81z"/><path class="k31" d="M3563 4051l25-85-19-5-25 84z"/><path class="k62" d="M4345 3203l24-6-19 0-24 5zM4320 3214l25-11-19-1-25 10z"/><path class="k61" d="M4296 3228l24-14-19-2-24 14zM4271 3244l25-16-19-2-25 17zM4246 3263l25-19-19-1-25 20z"/><path class="k60" d="M4222 3284l24-21-19 0-24 22z"/><path class="k59" d="M4197 3303l25-19-19 1-25 22zM4173 3321l24-18-19 4-24 20z"/><path class="k58" d="M4148 3335l25-14-19 6-25 15zM4123 3345l25-10-19 7-25 10zM4099 3350l24-5-19 7-24 4z"/><path class="k61" d="M3951 3350l25-3-19-2-25 3z"/><path class="k62" d="M3927 3356l24-6-19-2-24 7zM3902 3367l25-11-19-1-25 11z"/><path class="k61" d="M3877 3382l25-15-19-1-25 16zM3853 3403l24-21-19 0-24 22z"/><path class="k60" d="M3828 3431l25-28-19 1-25 27z"/><path class="k59" d="M3804 3464l24-33-19 0-24 34z"/><path class="k57" d="M3779 3505l25-41-19 1-25 41z"/><path class="k55" d="M3754 3553l25-48-19 1-25 47z"/><path class="k53" d="M3730 3608l24-55-19 0-24 55z"/><path class="k50" d="M3705 3669l25-61-19 0-25 60z"/><path class="k47" d="M3681 3737l24-68-19-1-24 67z"/><path class="k43" d="M3656 3810l25-73-19-2-25 73z"/><path class="k39" d="M3631 3889l25-79-19-2-25 77z"/><path class="k35" d="M3607 3971l24-82-19-4-24 81z"/><path class="k31" d="M3582 4057l25-86-19-5-25 85z"/><path class="k62" d="M4388 3198l25-1-19 0-25 0zM4364 3205l24-7-19-1-24 6zM4339 3216l25-11-19-2-25 11zM4314 3230l25-14-19-2-24 14zM4290 3247l24-17-18-2-25 16z"/><path class="k61" d="M4265 3266l25-19-19-3-25 19zM4241 3285l24-19-19-3-24 21z"/><path class="k60" d="M4216 3303l25-18-19-1-25 19z"/><path class="k59" d="M4191 3319l25-16-19 0-24 18zM4167 3333l24-14-18 2-25 14zM4142 3342l25-9-19 2-25 10zM4118 3348l24-6-19 3-24 5zM4093 3351l25-3-19 2-25 1z"/><path class="k61" d="M4019 3349l25 1-19-2-25-1zM3995 3350l24-1-19-2-24 0z"/><path class="k62" d="M3970 3352l25-2-19-3-25 3zM3945 3358l25-6-19-2-24 6zM3921 3368l24-10-18-2-25 11zM3896 3383l25-15-19-1-25 15z"/><path class="k61" d="M3872 3403l24-20-19-1-24 21zM3847 3430l25-27-19 0-25 28z"/><path class="k59" d="M3822 3464l25-34-19 1-24 33z"/><path class="k58" d="M3798 3505l24-41-18 0-25 41z"/><path class="k56" d="M3773 3553l25-48-19 0-25 48z"/><path class="k53" d="M3749 3608l24-55-19 0-24 55z"/><path class="k50" d="M3724 3670l25-62-19 0-25 61z"/><path class="k47" d="M3699 3739l25-69-19-1-24 68z"/><path class="k44" d="M3675 3813l24-74-18-2-25 73z"/><path class="k40" d="M3650 3893l25-80-19-3-25 79z"/><path class="k36" d="M3626 3976l24-83-19-4-24 82z"/><path class="k31" d="M3601 4064l25-88-19-5-25 86z"/><path class="k62" d="M4432 3198l24 4-19-1-24-4zM4407 3200l25-2-19-1-25 1z"/><path class="k63" d="M4383 3208l24-8-19-2-24 7zM4358 3220l25-12-19-3-25 11z"/><path class="k62" d="M4333 3235l25-15-19-4-25 14zM4309 3252l24-17-19-5-24 17zM4284 3270l25-18-19-5-25 19z"/><path class="k61" d="M4260 3289l24-19-19-4-24 19z"/><path class="k60" d="M4235 3307l25-18-19-4-25 18zM4210 3323l25-16-19-4-25 16zM4186 3335l24-12-19-4-24 14zM4161 3345l25-10-19-2-25 9zM4137 3351l24-6-19-3-24 6zM4112 3354l25-3-19-3-25 3zM4087 3355l25-1-19-3-25 0z"/><path class="k61" d="M4063 3355l24 0-19-4-24-1zM4038 3354l25 1-19-5-25-1z"/><path class="k62" d="M4014 3354l24 0-19-5-24 1zM3989 3356l25-2-19-4-25 2z"/><path class="k63" d="M3964 3361l25-5-19-4-25 6zM3940 3370l24-9-19-3-24 10zM3915 3384l25-14-19-2-25 15z"/><path class="k62" d="M3891 3404l24-20-19-1-24 20z"/><path class="k61" d="M3866 3431l25-27-19-1-25 27z"/><path class="k60" d="M3841 3464l25-33-19-1-25 34z"/><path class="k58" d="M3817 3505l24-41-19 0-24 41z"/><path class="k56" d="M3792 3554l25-49-19 0-25 48z"/><path class="k54" d="M3768 3610l24-56-19-1-24 55z"/><path class="k51" d="M3743 3672l25-62-19-2-25 62z"/><path class="k48" d="M3718 3742l25-70-19-2-25 69z"/><path class="k44" d="M3694 3817l24-75-19-3-24 74z"/><path class="k40" d="M3669 3898l25-81-19-4-25 80z"/><path class="k36" d="M3645 3983l24-85-19-5-24 83z"/><path class="k32" d="M3620 4071l25-88-19-7-25 88z"/><path class="k61" d="M4475 3206l25 10-19-3-25-11z"/><path class="k62" d="M4451 3203l24 3-19-4-24-4z"/><path class="k63" d="M4426 3205l25-2-19-5-25 2zM4402 3213l24-8-19-5-24 8zM4377 3226l25-13-19-5-25 12zM4352 3242l25-16-19-6-25 15z"/><path class="k62" d="M4328 3260l24-18-19-7-24 17zM4303 3279l25-19-19-8-25 18z"/><path class="k61" d="M4279 3298l24-19-19-9-24 19zM4254 3315l25-17-19-9-25 18z"/><path class="k60" d="M4229 3331l25-16-19-8-25 16zM4205 3344l24-13-19-8-24 12zM4180 3353l25-9-19-9-25 10zM4156 3359l24-6-19-8-24 6zM4131 3363l25-4-19-8-25 3z"/><path class="k61" d="M4106 3364l25-1-19-9-25 1zM4082 3363l24 1-19-9-24 0z"/><path class="k62" d="M4057 3362l25 1-19-8-25-1zM4033 3362l24 0-19-8-24 0z"/><path class="k63" d="M4008 3363l25-1-19-8-25 2zM3983 3367l25-4-19-7-25 5zM3959 3375l24-8-19-6-24 9zM3934 3389l25-14-19-5-25 14zM3910 3408l24-19-19-5-24 20z"/><path class="k62" d="M3885 3434l25-26-19-4-25 27z"/><path class="k61" d="M3860 3467l25-33-19-3-25 33z"/><path class="k59" d="M3836 3508l24-41-19-3-24 41z"/><path class="k57" d="M3811 3557l25-49-19-3-25 49z"/><path class="k54" d="M3787 3613l24-56-19-3-24 56z"/><path class="k52" d="M3762 3677l25-64-19-3-25 62z"/><path class="k48" d="M3737 3747l25-70-19-5-25 70z"/><path class="k45" d="M3713 3824l24-77-19-5-24 75z"/><path class="k41" d="M3688 3906l25-82-19-7-25 81z"/><path class="k36" d="M3664 3992l24-86-19-8-24 85z"/><path class="k32" d="M3639 4081l25-89-19-9-25 88z"/><path class="k62" d="M4494 3213l25 11-19-8-25-10z"/><path class="k63" d="M4470 3211l24 2-19-7-24-3zM4445 3214l25-3-19-8-25 2zM4420 3223l25-9-19-9-24 8zM4396 3236l24-13-18-10-25 13zM4371 3253l25-17-19-10-25 16z"/><path class="k62" d="M4347 3272l24-19-19-11-24 18zM4322 3291l25-19-19-12-25 19z"/><path class="k61" d="M4297 3311l25-20-19-12-24 19zM4273 3329l24-18-18-13-25 17z"/><path class="k60" d="M4248 3344l25-15-19-14-25 16zM4224 3357l24-13-19-13-24 13zM4199 3367l25-10-19-13-25 9zM4174 3373l25-6-19-14-24 6zM4150 3376l24-3-18-14-25 4z"/><path class="k61" d="M4125 3377l25-1-19-13-25 1zM4101 3376l24 1-19-13-24-1z"/><path class="k62" d="M4076 3374l25 2-19-13-25-1zM4051 3373l25 1-19-12-24 0z"/><path class="k63" d="M4027 3374l24-1-18-11-25 1zM4002 3377l25-3-19-11-25 4zM3978 3384l24-7-19-10-24 8zM3953 3397l25-13-19-9-25 14zM3928 3416l25-19-19-8-24 19z"/><path class="k62" d="M3904 3441l24-25-18-8-25 26z"/><path class="k61" d="M3879 3475l25-34-19-7-25 33z"/><path class="k59" d="M3855 3516l24-41-19-8-24 41z"/><path class="k57" d="M3830 3564l25-48-19-8-25 49z"/><path class="k55" d="M3805 3621l25-57-19-7-24 56z"/><path class="k52" d="M3781 3685l24-64-18-8-25 64z"/><path class="k49" d="M3756 3756l25-71-19-8-25 70z"/><path class="k45" d="M3732 3834l24-78-19-9-24 77z"/><path class="k41" d="M3707 3916l25-82-19-10-25 82z"/><path class="k36" d="M3682 4003l25-87-19-10-24 86z"/><path class="k32" d="M3658 4094l24-91-18-11-25 89z"/><path class="k62" d="M4513 3226l25 10-19-12-25-11z"/><path class="k63" d="M4489 3224l24 2-19-13-24-2zM4464 3228l25-4-19-13-25 3zM4439 3237l25-9-19-14-25 9zM4415 3252l24-15-19-14-24 13zM4390 3269l25-17-19-16-25 17z"/><path class="k62" d="M4366 3288l24-19-19-16-24 19zM4341 3309l25-21-19-16-25 19z"/><path class="k61" d="M4316 3328l25-19-19-18-25 20zM4292 3347l24-19-19-17-24 18z"/><path class="k60" d="M4267 3363l25-16-19-18-25 15zM4243 3376l24-13-19-19-24 13zM4218 3385l25-9-19-19-25 10zM4193 3391l25-6-19-18-25 6zM4169 3394l24-3-19-18-24 3zM4144 3395l25-1-19-18-25 1z"/><path class="k61" d="M4120 3393l24 2-19-18-24-1z"/><path class="k62" d="M4095 3391l25 2-19-17-25-2zM4070 3389l25 2-19-17-25-1z"/><path class="k63" d="M4046 3389l24 0-19-16-24 1zM4021 3392l25-3-19-15-25 3zM3997 3398l24-6-19-15-24 7zM3972 3410l25-12-19-14-25 13zM3947 3428l25-18-19-13-25 19z"/><path class="k62" d="M3923 3454l24-26-19-12-24 25z"/><path class="k61" d="M3898 3487l25-33-19-13-25 34z"/><path class="k59" d="M3874 3528l24-41-19-12-24 41z"/><path class="k57" d="M3849 3577l25-49-19-12-25 48z"/><path class="k55" d="M3824 3634l25-57-19-13-25 57z"/><path class="k52" d="M3800 3698l24-64-19-13-24 64z"/><path class="k49" d="M3775 3770l25-72-19-13-25 71z"/><path class="k45" d="M3751 3848l24-78-19-14-24 78z"/><path class="k41" d="M3726 3931l25-83-19-14-25 82z"/><path class="k36" d="M3701 4019l25-88-19-15-25 87z"/><path class="k32" d="M3677 4110l24-91-19-16-24 91z"/><path class="k60" d="M4557 3254l24 18-19-19-24-17z"/><path class="k62" d="M4532 3245l25 9-19-18-25-10z"/><path class="k63" d="M4508 3243l24 2-19-19-24-2zM4483 3247l25-4-19-19-25 4zM4458 3258l25-11-19-19-25 9zM4434 3272l24-14-19-21-24 15z"/><path class="k62" d="M4409 3290l25-18-19-20-25 17zM4385 3311l24-21-19-21-24 19z"/><path class="k61" d="M4360 3331l25-20-19-23-25 21zM4335 3352l25-21-19-22-25 19z"/><path class="k60" d="M4311 3370l24-18-19-24-24 19zM4286 3386l25-16-19-23-25 16z"/><path class="k59" d="M4262 3399l24-13-19-23-24 13zM4237 3409l25-10-19-23-25 9zM4212 3415l25-6-19-24-25 6zM4188 3418l24-3-19-24-24 3z"/><path class="k60" d="M4163 3418l25 0-19-24-25 1zM4139 3416l24 2-19-23-24-2z"/><path class="k61" d="M4114 3413l25 3-19-23-25-2z"/><path class="k62" d="M4089 3411l25 2-19-22-25-2zM4065 3410l24 1-19-22-24 0z"/><path class="k63" d="M4040 3412l25-2-19-21-25 3zM4016 3418l24-6-19-20-24 6zM3991 3430l25-12-19-20-25 12zM3966 3447l25-17-19-20-25 18z"/><path class="k62" d="M3942 3472l24-25-19-19-24 26z"/><path class="k61" d="M3917 3505l25-33-19-18-25 33z"/><path class="k59" d="M3893 3546l24-41-19-18-24 41z"/><path class="k57" d="M3868 3595l25-49-19-18-25 49z"/><path class="k55" d="M3843 3652l25-57-19-18-25 57z"/><path class="k52" d="M3819 3717l24-65-19-18-24 64z"/><path class="k48" d="M3794 3789l25-72-19-19-25 72z"/><path class="k45" d="M3770 3868l24-79-19-19-24 78z"/><path class="k40" d="M3745 3951l25-83-19-20-25 83z"/><path class="k36" d="M3720 4040l25-89-19-20-25 88z"/><path class="k31" d="M3696 4131l24-91-19-21-24 91z"/><path class="k56" d="M4625 3323l24 34-18-26-25-34z"/><path class="k58" d="M4600 3297l25 26-19-26-25-25z"/><path class="k60" d="M4576 3280l24 17-19-25-24-18z"/><path class="k61" d="M4551 3271l25 9-19-26-25-9z"/><path class="k62" d="M4526 3269l25 2-19-26-24-2zM4502 3274l24-5-18-26-25 4zM4477 3285l25-11-19-27-25 11zM4453 3300l24-15-19-27-24 14zM4428 3318l25-18-19-28-25 18z"/><path class="k61" d="M4403 3339l25-21-19-28-24 21z"/><path class="k60" d="M4379 3360l24-21-18-28-25 20zM4354 3381l25-21-19-29-25 21z"/><path class="k59" d="M4330 3399l24-18-19-29-24 18zM4305 3416l25-17-19-29-25 16z"/><path class="k58" d="M4280 3429l25-13-19-30-24 13zM4256 3439l24-10-18-30-25 10zM4231 3445l25-6-19-30-25 6z"/><path class="k59" d="M4207 3447l24-2-19-30-24 3zM4182 3447l25 0-19-29-25 0z"/><path class="k60" d="M4157 3445l25 2-19-29-24-2zM4133 3442l24 3-18-29-25-3z"/><path class="k61" d="M4108 3439l25 3-19-29-25-2z"/><path class="k62" d="M4084 3438l24 1-19-28-24-1zM4059 3439l25-1-19-28-25 2zM4034 3445l25-6-19-27-24 6zM4010 3456l24-11-18-27-25 12zM3985 3473l25-17-19-26-25 17z"/><path class="k61" d="M3961 3498l24-25-19-26-24 25z"/><path class="k60" d="M3936 3531l25-33-19-26-25 33z"/><path class="k59" d="M3911 3571l25-40-19-26-24 41z"/><path class="k57" d="M3887 3621l24-50-18-25-25 49z"/><path class="k54" d="M3862 3678l25-57-19-26-25 57z"/><path class="k51" d="M3838 3743l24-65-19-26-24 65z"/><path class="k48" d="M3813 3815l25-72-19-26-25 72z"/><path class="k44" d="M3788 3893l25-78-19-26-24 79z"/><path class="k40" d="M3764 3977l24-84-18-25-25 83z"/><path class="k35" d="M3739 4065l25-88-19-26-25 89z"/><path class="k31" d="M3715 4157l24-92-19-25-24 91z"/><path class="k55" d="M4644 3356l24 34-19-33-24-34z"/><path class="k57" d="M4619 3331l25 25-19-33-25-26z"/><path class="k59" d="M4595 3313l24 18-19-34-24-17z"/><path class="k60" d="M4570 3304l25 9-19-33-25-9z"/><path class="k61" d="M4545 3303l25 1-19-33-25-2zM4521 3308l24-5-19-34-24 5zM4496 3319l25-11-19-34-25 11zM4472 3334l24-15-19-34-24 15zM4447 3353l25-19-19-34-25 18z"/><path class="k60" d="M4422 3374l25-21-19-35-25 21z"/><path class="k59" d="M4398 3395l24-21-19-35-24 21zM4373 3416l25-21-19-35-25 21z"/><path class="k58" d="M4349 3435l24-19-19-35-24 18zM4324 3451l25-16-19-36-25 17z"/><path class="k57" d="M4299 3465l25-14-19-35-25 13zM4275 3474l24-9-19-36-24 10zM4250 3480l25-6-19-35-25 6zM4226 3483l24-3-19-35-24 2z"/><path class="k58" d="M4201 3482l25 1-19-36-25 0zM4176 3480l25 2-19-35-25-2z"/><path class="k59" d="M4152 3477l24 3-19-35-24-3z"/><path class="k60" d="M4127 3474l25 3-19-35-25-3zM4103 3472l24 2-19-35-24-1z"/><path class="k61" d="M4078 3474l25-2-19-34-25 1zM4053 3479l25-5-19-35-25 6zM4029 3490l24-11-19-34-24 11zM4004 3507l25-17-19-34-25 17z"/><path class="k60" d="M3980 3532l24-25-19-34-24 25z"/><path class="k59" d="M3955 3564l25-32-19-34-25 33z"/><path class="k58" d="M3930 3605l25-41-19-33-25 40z"/><path class="k56" d="M3906 3653l24-48-19-34-24 50z"/><path class="k53" d="M3881 3710l25-57-19-32-25 57z"/><path class="k50" d="M3857 3775l24-65-19-32-24 65z"/><path class="k47" d="M3832 3847l25-72-19-32-25 72z"/><path class="k43" d="M3807 3925l25-78-19-32-25 78z"/><path class="k39" d="M3783 4009l24-84-19-32-24 84z"/><path class="k34" d="M3758 4097l25-88-19-32-25 88z"/><path class="k30" d="M3734 4188l24-91-19-32-24 92z"/><path class="k48" d="M4712 3472l25 48-19-40-25-49z"/><path class="k51" d="M4687 3430l25 42-19-41-25-41z"/><path class="k53" d="M4663 3397l24 33-19-40-24-34z"/><path class="k56" d="M4638 3372l25 25-19-41-25-25z"/><path class="k57" d="M4614 3355l24 17-19-41-24-18z"/><path class="k59" d="M4589 3346l25 9-19-42-25-9zM4564 3345l25 1-19-42-25-1z"/><path class="k60" d="M4540 3350l24-5-19-42-24 5zM4515 3361l25-11-19-42-25 11zM4491 3376l24-15-19-42-24 15z"/><path class="k59" d="M4466 3395l25-19-19-42-25 19z"/><path class="k58" d="M4441 3416l25-21-19-42-25 21zM4417 3437l24-21-19-42-24 21z"/><path class="k57" d="M4392 3458l25-21-19-42-25 21z"/><path class="k56" d="M4368 3477l24-19-19-42-24 19zM4343 3493l25-16-19-42-25 16zM4318 3506l25-13-19-42-25 14zM4294 3516l24-10-19-41-24 9zM4269 3522l25-6-19-42-25 6zM4245 3525l24-3-19-42-24 3zM4220 3524l25 1-19-42-25-1z"/><path class="k57" d="M4195 3522l25 2-19-42-25-2z"/><path class="k58" d="M4171 3519l24 3-19-42-24-3zM4146 3516l25 3-19-42-25-3z"/><path class="k59" d="M4122 3514l24 2-19-42-24-2zM4097 3516l25-2-19-42-25 2z"/><path class="k60" d="M4072 3521l25-5-19-42-25 5zM4048 3532l24-11-19-42-24 11zM4023 3549l25-17-19-42-25 17z"/><path class="k59" d="M3999 3573l24-24-19-42-24 25z"/><path class="k58" d="M3974 3605l25-32-19-41-25 32z"/><path class="k56" d="M3949 3646l25-41-19-41-25 41z"/><path class="k54" d="M3925 3694l24-48-19-41-24 48z"/><path class="k52" d="M3900 3751l25-57-19-41-25 57z"/><path class="k49" d="M3876 3815l24-64-19-41-24 65z"/><path class="k45" d="M3851 3887l25-72-19-40-25 72z"/><path class="k41" d="M3826 3964l25-77-19-40-25 78z"/><path class="k37" d="M3802 4047l24-83-19-39-24 84z"/><path class="k33" d="M3777 4134l25-87-19-38-25 88z"/><path class="k28" d="M3753 4225l24-91-19-37-24 91z"/><path class="k42" d="M4755 3568l25 54-19-46-24-56z"/><path class="k46" d="M4731 3520l24 48-18-48-25-48z"/><path class="k49" d="M4706 3479l25 41-19-48-25-42z"/><path class="k51" d="M4682 3446l24 33-19-49-24-33z"/><path class="k54" d="M4657 3422l25 24-19-49-25-25z"/><path class="k55" d="M4632 3405l25 17-19-50-24-17z"/><path class="k57" d="M4608 3396l24 9-18-50-25-9zM4583 3395l25 1-19-50-25-1z"/><path class="k58" d="M4559 3400l24-5-19-50-24 5zM4534 3411l25-11-19-50-25 11zM4509 3426l25-15-19-50-24 15z"/><path class="k57" d="M4485 3445l24-19-18-50-25 19zM4460 3465l25-20-19-50-25 21z"/><path class="k56" d="M4436 3486l24-21-19-49-24 21z"/><path class="k55" d="M4411 3506l25-20-19-49-25 21zM4386 3525l25-19-19-48-24 19z"/><path class="k54" d="M4362 3541l24-16-18-48-25 16zM4337 3554l25-13-19-48-25 13zM4313 3564l24-10-19-48-24 10zM4288 3570l25-6-19-48-25 6zM4263 3573l25-3-19-48-24 3zM4239 3573l24 0-18-48-25-1z"/><path class="k55" d="M4214 3571l25 2-19-49-25-2z"/><path class="k56" d="M4190 3568l24 3-19-49-24-3zM4165 3565l25 3-19-49-25-3z"/><path class="k57" d="M4140 3564l25 1-19-49-24-2zM4116 3565l24-1-18-50-25 2z"/><path class="k58" d="M4091 3571l25-6-19-49-25 5zM4067 3582l24-11-19-50-24 11zM4042 3599l25-17-19-50-25 17z"/><path class="k57" d="M4017 3623l25-24-19-50-24 24z"/><path class="k56" d="M3993 3655l24-32-18-50-25 32z"/><path class="k54" d="M3968 3695l25-40-19-50-25 41z"/><path class="k52" d="M3944 3743l24-48-19-49-24 48z"/><path class="k50" d="M3919 3799l25-56-19-49-25 57z"/><path class="k47" d="M3894 3863l25-64-19-48-24 64z"/><path class="k43" d="M3870 3933l24-70-18-48-25 72z"/><path class="k40" d="M3845 4010l25-77-19-46-25 77z"/><path class="k36" d="M3821 4092l24-82-19-46-24 83z"/><path class="k31" d="M3796 4178l25-86-19-45-25 87z"/><path class="k27" d="M3771 4268l25-90-19-44-24 91z"/><path class="k32" d="M4824 3735l24 64-19-51-24-65z"/><path class="k36" d="M4799 3676l25 59-19-52-25-61z"/><path class="k40" d="M4774 3622l25 54-19-54-25-54z"/><path class="k43" d="M4750 3575l24 47-19-54-24-48z"/><path class="k46" d="M4725 3536l25 39-19-55-25-41z"/><path class="k49" d="M4701 3504l24 32-19-57-24-33z"/><path class="k51" d="M4676 3479l25 25-19-58-25-24z"/><path class="k53" d="M4651 3463l25 16-19-57-25-17z"/><path class="k54" d="M4627 3454l24 9-19-58-24-9z"/><path class="k55" d="M4602 3453l25 1-19-58-25-1zM4578 3458l24-5-19-58-24 5zM4553 3468l25-10-19-58-25 11zM4528 3483l25-15-19-57-25 15zM4504 3501l24-18-19-57-24 19z"/><path class="k54" d="M4479 3521l25-20-19-56-25 20z"/><path class="k53" d="M4455 3542l24-21-19-56-24 21zM4430 3562l25-20-19-56-25 20z"/><path class="k52" d="M4405 3580l25-18-19-56-25 19zM4381 3596l24-16-19-55-24 16z"/><path class="k51" d="M4356 3609l25-13-19-55-25 13zM4332 3619l24-10-19-55-24 10zM4307 3625l25-6-19-55-25 6z"/><path class="k52" d="M4282 3628l25-3-19-55-25 3zM4258 3628l24 0-19-55-24 0z"/><path class="k53" d="M4233 3626l25 2-19-55-25-2zM4209 3624l24 2-19-55-24-3z"/><path class="k54" d="M4184 3622l25 2-19-56-25-3z"/><path class="k55" d="M4159 3621l25 1-19-57-25-1zM4135 3623l24-2-19-57-24 1zM4110 3629l25-6-19-58-25 6zM4086 3640l24-11-19-58-24 11zM4061 3657l25-17-19-58-25 17z"/><path class="k54" d="M4036 3681l25-24-19-58-25 24z"/><path class="k53" d="M4012 3713l24-32-19-58-24 32z"/><path class="k52" d="M3987 3753l25-40-19-58-25 40z"/><path class="k50" d="M3963 3800l24-47-19-58-24 48z"/><path class="k47" d="M3938 3855l25-55-19-57-25 56z"/><path class="k44" d="M3913 3918l25-63-19-56-25 64z"/><path class="k41" d="M3889 3987l24-69-19-55-24 70z"/><path class="k38" d="M3864 4063l25-76-19-54-25 77z"/><path class="k34" d="M3840 4143l24-80-19-53-24 82z"/><path class="k29" d="M3815 4228l25-85-19-51-25 86z"/><path class="k25" d="M3790 4316l25-88-19-50-25 90zM4867 3856l25 66-19-55-25-68z"/><path class="k30" d="M4843 3794l24 62-19-57-24-64z"/><path class="k34" d="M4818 3736l25 58-19-59-25-59z"/><path class="k37" d="M4793 3684l25 52-19-60-25-54z"/><path class="k41" d="M4769 3639l24 45-19-62-24-47z"/><path class="k44" d="M4744 3600l25 39-19-64-25-39z"/><path class="k46" d="M4720 3569l24 31-19-64-24-32z"/><path class="k48" d="M4695 3545l25 24-19-65-25-25z"/><path class="k50" d="M4670 3529l25 16-19-66-25-16z"/><path class="k51" d="M4646 3521l24 8-19-66-24-9z"/><path class="k52" d="M4621 3519l25 2-19-67-25-1zM4597 3524l24-5-19-66-24 5z"/><path class="k53" d="M4572 3533l25-9-19-66-25 10z"/><path class="k52" d="M4547 3548l25-15-19-65-25 15zM4523 3565l24-17-19-65-24 18z"/><path class="k51" d="M4498 3584l25-19-19-64-25 20zM4474 3604l24-20-19-63-24 21z"/><path class="k50" d="M4449 3623l25-19-19-62-25 20zM4424 3641l25-18-19-61-25 18z"/><path class="k49" d="M4400 3657l24-16-19-61-24 16zM4375 3670l25-13-19-61-25 13zM4351 3679l24-9-19-61-24 10zM4326 3685l25-6-19-60-25 6zM4301 3689l25-4-19-60-25 3zM4277 3690l24-1-19-61-24 0z"/><path class="k50" d="M4252 3689l25 1-19-62-25-2z"/><path class="k51" d="M4228 3687l24 2-19-63-24-2zM4203 3685l25 2-19-63-25-2z"/><path class="k52" d="M4178 3685l25 0-19-63-25-1zM4154 3688l24-3-19-64-24 2zM4129 3694l25-6-19-65-25 6zM4105 3706l24-12-19-65-24 11zM4080 3723l25-17-19-66-25 17zM4055 3747l25-24-19-66-25 24z"/><path class="k50" d="M4031 3779l24-32-19-66-24 32z"/><path class="k49" d="M4006 3818l25-39-19-66-25 40z"/><path class="k47" d="M3982 3865l24-47-19-65-24 47z"/><path class="k45" d="M3957 3919l25-54-19-65-25 55z"/><path class="k42" d="M3932 3980l25-61-19-64-25 63z"/><path class="k39" d="M3908 4048l24-68-19-62-24 69z"/><path class="k35" d="M3883 4122l25-74-19-61-25 76z"/><path class="k31" d="M3859 4201l24-79-19-59-24 80z"/><path class="k27" d="M3834 4284l25-83-19-58-25 85z"/><path class="k22" d="M3809 4370l25-86-19-56-25 88z"/><path class="k18" d="M4911 3982l24 67-19-58-24-69z"/><path class="k23" d="M4886 3919l25 63-19-60-25-66z"/><path class="k27" d="M4861 3859l25 60-19-63-24-62z"/><path class="k31" d="M4837 3803l24 56-18-65-25-58z"/><path class="k34" d="M4812 3753l25 50-19-67-25-52z"/><path class="k38" d="M4788 3709l24 44-19-69-24-45z"/><path class="k40" d="M4763 3671l25 38-19-70-25-39z"/><path class="k43" d="M4738 3641l25 30-19-71-24-31z"/><path class="k45" d="M4714 3618l24 23-18-72-25-24z"/><path class="k47" d="M4689 3602l25 16-19-73-25-16z"/><path class="k48" d="M4665 3594l24 8-19-73-24-8z"/><path class="k49" d="M4640 3592l25 2-19-73-25-2zM4615 3596l25-4-19-73-24 5zM4591 3605l24-9-18-72-25 9zM4566 3619l25-14-19-72-25 15zM4542 3635l24-16-19-71-24 17z"/><path class="k48" d="M4517 3654l25-19-19-70-25 19zM4492 3673l25-19-19-70-24 20z"/><path class="k47" d="M4468 3691l24-18-18-69-25 19zM4443 3709l25-18-19-68-25 18z"/><path class="k46" d="M4419 3724l24-15-19-68-24 16zM4394 3736l25-12-19-67-25 13zM4369 3746l25-10-19-66-24 9zM4345 3752l24-6-18-67-25 6zM4320 3756l25-4-19-67-25 4zM4296 3757l24-1-19-67-24 1z"/><path class="k47" d="M4271 3757l25 0-19-67-25-1zM4246 3756l25 1-19-68-24-2z"/><path class="k48" d="M4222 3755l24 1-18-69-25-2z"/><path class="k49" d="M4197 3756l25-1-19-70-25 0zM4173 3760l24-4-19-71-24 3zM4148 3767l25-7-19-72-25 6zM4123 3779l25-12-19-73-24 12zM4099 3796l24-17-18-73-25 17z"/><path class="k48" d="M4074 3821l25-25-19-73-25 24z"/><path class="k47" d="M4050 3852l24-31-19-74-24 32z"/><path class="k46" d="M4025 3890l25-38-19-73-25 39z"/><path class="k44" d="M4000 3936l25-46-19-72-24 47z"/><path class="k41" d="M3976 3989l24-53-18-71-25 54z"/><path class="k39" d="M3951 4049l25-60-19-70-25 61z"/><path class="k35" d="M3927 4116l24-67-19-69-24 68z"/><path class="k32" d="M3902 4187l25-71-19-68-25 74z"/><path class="k28" d="M3877 4264l25-77-19-65-24 79z"/><path class="k24" d="M3853 4345l24-81-18-63-25 83z"/><path class="k20" d="M3828 4428l25-83-19-61-25 86z"/><path class="k16" d="M4930 4047l24 64-19-62-24-67z"/><path class="k20" d="M4905 3986l25 61-19-65-25-63z"/><path class="k24" d="M4880 3929l25 57-19-67-25-60z"/><path class="k27" d="M4856 3875l24 54-19-70-24-56z"/><path class="k31" d="M4831 3827l25 48-19-72-25-50z"/><path class="k34" d="M4807 3785l24 42-19-74-24-44z"/><path class="k37" d="M4782 3749l25 36-19-76-25-38z"/><path class="k39" d="M4757 3719l25 30-19-78-25-30z"/><path class="k41" d="M4733 3697l24 22-19-78-24-23z"/><path class="k43" d="M4708 3682l25 15-19-79-25-16z"/><path class="k44" d="M4684 3674l24 8-19-80-24-8z"/><path class="k45" d="M4659 3672l25 2-19-80-25-2zM4634 3675l25-3-19-80-25 4z"/><path class="k46" d="M4610 3684l24-9-19-79-24 9z"/><path class="k45" d="M4585 3696l25-12-19-79-25 14zM4561 3712l24-16-19-77-24 16zM4536 3729l25-17-19-77-25 19z"/><path class="k44" d="M4511 3747l25-18-19-75-25 19zM4487 3765l24-18-19-74-24 18z"/><path class="k43" d="M4462 3781l25-16-19-74-25 18zM4438 3796l24-15-19-72-24 15z"/><path class="k42" d="M4413 3808l25-12-19-72-25 12zM4388 3818l25-10-19-72-25 10zM4364 3824l24-6-19-72-24 6z"/><path class="k43" d="M4339 3828l25-4-19-72-25 4zM4315 3830l24-2-19-72-24 1zM4290 3831l25-1-19-73-25 0z"/><path class="k44" d="M4265 3831l25 0-19-74-25-1z"/><path class="k45" d="M4241 3831l24 0-19-75-24-1zM4216 3833l25-2-19-76-25 1zM4192 3838l24-5-19-77-24 4z"/><path class="k46" d="M4167 3846l25-8-19-78-25 7zM4142 3858l25-12-19-79-25 12z"/><path class="k45" d="M4118 3876l24-18-19-79-24 17z"/><path class="k44" d="M4093 3900l25-24-19-80-25 25z"/><path class="k43" d="M4069 3931l24-31-19-79-24 31z"/><path class="k42" d="M4044 3969l25-38-19-79-25 38z"/><path class="k40" d="M4019 4014l25-45-19-79-25 46z"/><path class="k38" d="M3995 4066l24-52-19-78-24 53z"/><path class="k35" d="M3970 4124l25-58-19-77-25 60z"/><path class="k32" d="M3946 4189l24-65-19-75-24 67z"/><path class="k29" d="M3921 4258l25-69-19-73-25 71z"/><path class="k25" d="M3896 4333l25-75-19-71-25 77z"/><path class="k21" d="M3872 4411l24-78-19-69-24 81z"/><path class="k17" d="M3847 4492l25-81-19-66-25 83z"/><path class="k12" d="M4949 4117l24 60-19-66-24-64z"/><path class="k16" d="M4924 4058l25 59-19-70-25-61z"/><path class="k20" d="M4899 4003l25 55-19-72-25-57z"/><path class="k24" d="M4875 3952l24 51-19-74-24-54z"/><path class="k27" d="M4850 3906l25 46-19-77-25-48z"/><path class="k30" d="M4826 3866l24 40-19-79-24-42z"/><path class="k33" d="M4801 3831l25 35-19-81-25-36z"/><path class="k35" d="M4776 3803l25 28-19-82-25-30z"/><path class="k37" d="M4752 3782l24 21-19-84-24-22z"/><path class="k39" d="M4727 3767l25 15-19-85-25-15z"/><path class="k40" d="M4703 3759l24 8-19-85-24-8z"/><path class="k41" d="M4678 3757l25 2-19-85-25-2zM4653 3760l25-3-19-85-25 3z"/><path class="k42" d="M4629 3768l24-8-19-85-24 9zM4604 3779l25-11-19-84-25 12z"/><path class="k41" d="M4580 3793l24-14-19-83-24 16zM4555 3810l25-17-19-81-25 17z"/><path class="k40" d="M4530 3827l25-17-19-81-25 18zM4506 3843l24-16-19-80-24 18z"/><path class="k39" d="M4481 3859l25-16-19-78-25 16zM4457 3873l24-14-19-78-24 15zM4432 3885l25-12-19-77-25 12zM4407 3894l25-9-19-77-25 10zM4383 3901l24-7-19-76-24 6zM4358 3906l25-5-19-77-25 4zM4334 3909l24-3-19-78-24 2z"/><path class="k40" d="M4309 3910l25-1-19-79-25 1zM4284 3911l25-1-19-79-25 0z"/><path class="k41" d="M4260 3913l24-2-19-80-24 0zM4235 3916l25-3-19-82-25 2zM4211 3921l24-5-19-83-24 5z"/><path class="k42" d="M4186 3930l25-9-19-83-25 8z"/><path class="k41" d="M4161 3943l25-13-19-84-25 12zM4137 3962l24-19-19-85-24 18z"/><path class="k40" d="M4112 3986l25-24-19-86-25 24z"/><path class="k39" d="M4088 4016l24-30-19-86-24 31z"/><path class="k38" d="M4063 4054l25-38-19-85-25 38z"/><path class="k36" d="M4038 4097l25-43-19-85-25 45z"/><path class="k34" d="M4014 4148l24-51-19-83-24 52z"/><path class="k31" d="M3989 4204l25-56-19-82-25 58z"/><path class="k28" d="M3965 4267l24-63-19-80-24 65z"/><path class="k25" d="M3940 4334l25-67-19-78-25 69z"/><path class="k22" d="M3915 4406l25-72-19-76-25 75z"/><path class="k18" d="M3891 4481l24-75-19-73-24 78z"/><path class="k14" d="M3866 4559l25-78-19-70-25 81z"/><path class="k9" d="M4967 4189l25 58-19-70-24-60z"/><path class="k13" d="M4943 4134l24 55-18-72-25-59z"/><path class="k17" d="M4918 4082l25 52-19-76-25-55z"/><path class="k20" d="M4894 4034l24 48-19-79-24-51z"/><path class="k23" d="M4869 3990l25 44-19-82-25-46z"/><path class="k26" d="M4844 3951l25 39-19-84-24-40z"/><path class="k29" d="M4820 3919l24 32-18-85-25-35z"/><path class="k31" d="M4795 3892l25 27-19-88-25-28z"/><path class="k33" d="M4771 3872l24 20-19-89-24-21z"/><path class="k35" d="M4746 3857l25 15-19-90-25-15z"/><path class="k36" d="M4721 3849l25 8-19-90-24-8z"/><path class="k37" d="M4697 3846l24 3-18-90-25-2zM4672 3849l25-3-19-89-25 3zM4648 3856l24-7-19-89-24 8zM4623 3866l25-10-19-88-25 11zM4598 3880l25-14-19-87-24 14zM4574 3895l24-15-18-87-25 17z"/><path class="k36" d="M4549 3910l25-15-19-85-25 17zM4525 3926l24-16-19-83-24 16zM4500 3941l25-15-19-83-25 16z"/><path class="k35" d="M4475 3954l25-13-19-82-24 14zM4451 3966l24-12-18-81-25 12zM4426 3975l25-9-19-81-25 9zM4402 3982l24-7-19-81-24 7zM4377 3988l25-6-19-81-25 5zM4352 3991l25-3-19-82-24 3z"/><path class="k36" d="M4328 3994l24-3-18-82-25 1zM4303 3996l25-2-19-84-25 1z"/><path class="k37" d="M4279 3998l24-2-19-85-24 2zM4254 4003l25-5-19-85-25 3zM4229 4009l25-6-19-87-24 5zM4205 4019l24-10-18-88-25 9zM4180 4033l25-14-19-89-25 13zM4156 4052l24-19-19-90-24 19z"/><path class="k36" d="M4131 4076l25-24-19-90-25 24z"/><path class="k35" d="M4106 4106l25-30-19-90-24 30z"/><path class="k34" d="M4082 4143l24-37-18-90-25 38z"/><path class="k32" d="M4057 4185l25-42-19-89-25 43z"/><path class="k30" d="M4033 4234l24-49-19-88-24 51z"/><path class="k27" d="M4008 4289l25-55-19-86-25 56z"/><path class="k24" d="M3983 4349l25-60-19-85-24 63z"/><path class="k21" d="M3959 4413l24-64-18-82-25 67z"/><path class="k18" d="M3934 4482l25-69-19-79-25 72z"/><path class="k14" d="M3910 4554l24-72-19-76-24 75z"/><path class="k10" d="M3885 4629l25-75-19-73-25 78z"/><path class="k6" d="M4986 4264l25 55-19-72-25-58z"/><path class="k9" d="M4962 4212l24 52-19-75-24-55z"/><path class="k13" d="M4937 4163l25 49-19-78-25-52z"/><path class="k16" d="M4913 4118l24 45-19-81-24-48z"/><path class="k19" d="M4888 4077l25 41-19-84-25-44z"/><path class="k22" d="M4863 4040l25 37-19-87-25-39z"/><path class="k24" d="M4839 4009l24 31-19-89-24-32z"/><path class="k27" d="M4814 3984l25 25-19-90-25-27z"/><path class="k28" d="M4790 3965l24 19-19-92-24-20z"/><path class="k30" d="M4765 3951l25 14-19-93-25-15z"/><path class="k31" d="M4740 3943l25 8-19-94-25-8z"/><path class="k32" d="M4716 3940l24 3-19-94-24-3zM4691 3942l25-2-19-94-25 3z"/><path class="k33" d="M4667 3948l24-6-19-93-24 7zM4642 3957l25-9-19-92-25 10zM4617 3969l25-12-19-91-25 14z"/><path class="k32" d="M4593 3983l24-14-19-89-24 15zM4568 3998l25-15-19-88-25 15zM4544 4012l24-14-19-88-24 16z"/><path class="k31" d="M4519 4027l25-15-19-86-25 15zM4494 4039l25-12-19-86-25 13zM4470 4050l24-11-19-85-24 12zM4445 4060l25-10-19-84-25 9zM4421 4067l24-7-19-85-24 7zM4396 4073l25-6-19-85-25 6zM4371 4077l25-4-19-85-25 3z"/><path class="k32" d="M4347 4081l24-4-19-86-24 3zM4322 4084l25-3-19-87-25 2zM4298 4088l24-4-19-88-24 2z"/><path class="k33" d="M4273 4093l25-5-19-90-25 5zM4248 4101l25-8-19-90-25 6zM4224 4111l24-10-19-92-24 10zM4199 4126l25-15-19-92-25 14z"/><path class="k32" d="M4175 4145l24-19-19-93-24 19z"/><path class="k31" d="M4150 4170l25-25-19-93-25 24z"/><path class="k30" d="M4125 4199l25-29-19-94-25 30z"/><path class="k29" d="M4101 4235l24-36-19-93-24 37z"/><path class="k27" d="M4076 4276l25-41-19-92-25 42z"/><path class="k25" d="M4052 4324l24-48-19-91-24 49z"/><path class="k23" d="M4027 4376l25-52-19-90-25 55z"/><path class="k20" d="M4002 4434l25-58-19-87-25 60z"/><path class="k17" d="M3978 4496l24-62-19-85-24 64z"/><path class="k14" d="M3953 4562l25-66-19-83-25 69z"/><path class="k10" d="M3929 4631l24-69-19-80-24 72z"/><path class="k7" d="M3904 4702l25-71-19-77-25 75z"/></g></g>
<rect x="521.4" y="274.0" width="11.6" height="202.9" fill="url(#pg)" class="cbx"/>
<path class="ax" d="M531.4 457.9L533.0 457.9M531.4 429.9L533.0 429.9M531.4 402.0L533.0 402.0M531.4 374.1L533.0 374.1M531.4 346.1L533.0 346.1M531.4 318.2L533.0 318.2M531.4 290.2L533.0 290.2"/>
<text class="t" x="257.6" y="205.4">400</text>
<text class="t" x="257.6" y="186.0">500</text>
<text class="t" x="257.6" y="166.6">600</text>
<text class="t" x="257.6" y="147.2">700</text>
<text class="t" x="257.6" y="127.7">800</text>
<text class="t" x="257.6" y="108.3">900</text>
<text class="t" x="257.6" y="88.9">1000</text>
<text class="t" x="257.6" y="69.5">1100</text>
<text class="t" x="257.6" y="50.0">1200</text>
<text class="t" x="257.6" y="30.6">1300</text>
<text class="t e" x="32.1" y="168.2">200</text>
<text class="t e" x="32.1" y="150.0">400</text>
<text class="t e" x="32.1" y="131.7">600</text>
<text class="t e" x="32.1" y="113.5">800</text>
<text class="t e" x="32.1" y="95.3">1000</text>
<text class="t e" x="32.1" y="77.0">1200</text>
<text class="t e" x="32.1" y="58.8">1400</text>
<text class="t m" x="131.7" y="224.5">−2</text>
<text class="t m" x="105.6" y="223.3">−2</text>
<text class="t m" x="155.3" y="216.4">−1</text>
<text class="t m" x="87.7" y="212.5">−1</text>
<text class="t m" x="179.0" y="208.3">0</text>
<text class="t m" x="69.9" y="201.7">0</text>
<text class="t m" x="202.7" y="200.2">1</text>
<text class="t m" x="52.0" y="190.9">1</text>
<text class="t m" x="226.4" y="192.1">2</text>
<text class="t m" x="34.2" y="180.1">2</text>
<text class="l m" x="170.6" y="228.8">X(m)</text>
<text class="l m" x="72.7" y="226.0">Y(m)</text>
<text class="l m" style="font-size:8.5px" transform="translate(12.1 112.7) rotate(-90)">Luminous Intensity [lx]</text>
<text class="tag" x="27.1" y="37.6">(a)</text>
<text class="t" x="534.8" y="197.5">0</text>
<text class="t" x="534.8" y="169.4">1</text>
<text class="t" x="534.8" y="141.3">2</text>
<text class="t" x="534.8" y="113.2">3</text>
<text class="t" x="534.8" y="85.1">4</text>
<text class="t" x="534.8" y="57.1">5</text>
<text class="t" x="534.8" y="29.0">6</text>
<text class="t e" x="298.2" y="153.1">0</text>
<text class="t e" x="298.2" y="137.4">1</text>
<text class="t e" x="298.2" y="121.8">2</text>
<text class="t e" x="298.2" y="106.2">3</text>
<text class="t e" x="298.2" y="90.6">4</text>
<text class="t e" x="298.2" y="74.9">5</text>
<text class="t e" x="298.2" y="59.3">6</text>
<text class="t m" x="402.0" y="223.2">−2</text>
<text class="t m" x="375.6" y="221.3">−2</text>
<text class="t m" x="426.8" y="214.4">−1</text>
<text class="t m" x="356.8" y="209.9">−1</text>
<text class="t m" x="451.7" y="205.5">0</text>
<text class="t m" x="338.0" y="198.4">0</text>
<text class="t m" x="476.6" y="196.6">1</text>
<text class="t m" x="319.2" y="186.9">1</text>
<text class="t m" x="501.4" y="187.8">2</text>
<text class="t m" x="300.4" y="175.5">2</text>
<text class="l m" x="444.1" y="226.1">X (m)</text>
<text class="l m" x="338.9" y="223.7">Y (m)</text>
<text class="l m" style="font-size:8.7px" transform="translate(288.1 105.3) rotate(-90)">Received power (dB)</text>
<text class="tag" x="293.7" y="36.7">(b)</text>
<text class="t" x="256.6" y="484.6">400</text>
<text class="t" x="256.6" y="461.6">450</text>
<text class="t" x="256.6" y="438.7">500</text>
<text class="t" x="256.6" y="415.8">550</text>
<text class="t" x="256.6" y="392.8">600</text>
<text class="t" x="256.6" y="369.9">650</text>
<text class="t" x="256.6" y="347.0">700</text>
<text class="t" x="256.6" y="324.0">750</text>
<text class="t" x="256.6" y="301.1">800</text>
<text class="t e" x="30.2" y="433.0">300</text>
<text class="t e" x="30.2" y="415.0">400</text>
<text class="t e" x="30.2" y="397.1">500</text>
<text class="t e" x="30.2" y="379.1">600</text>
<text class="t e" x="30.2" y="361.1">700</text>
<text class="t e" x="30.2" y="343.2">800</text>
<text class="t e" x="30.2" y="325.2">900</text>
<text class="t m" x="131.3" y="491.5">−2</text>
<text class="t m" x="105.0" y="490.1">−2</text>
<text class="t m" x="155.0" y="483.3">−1</text>
<text class="t m" x="86.9" y="478.8">−1</text>
<text class="t m" x="178.6" y="475.0">0</text>
<text class="t m" x="68.7" y="467.6">0</text>
<text class="t m" x="202.3" y="466.8">1</text>
<text class="t m" x="50.5" y="456.3">1</text>
<text class="t m" x="226.0" y="458.5">2</text>
<text class="t m" x="32.4" y="445.0">2</text>
<text class="l m" x="169.5" y="494.6">X(m)</text>
<text class="l m" x="71.5" y="491.5">Y(m)</text>
<text class="l m" style="font-size:8.5px" transform="translate(12.7 378.8) rotate(-90)">Luminous Intensity [lx]</text>
<text class="tag" x="27.6" y="307.8">(c)</text>
<text class="t" x="536.0" y="461.0">1</text>
<text class="t" x="536.0" y="433.0">1.5</text>
<text class="t" x="536.0" y="405.1">2</text>
<text class="t" x="536.0" y="377.2">2.5</text>
<text class="t" x="536.0" y="349.2">3</text>
<text class="t" x="536.0" y="321.3">3.5</text>
<text class="t" x="536.0" y="293.3">4</text>
<text class="t e" x="299.6" y="416.2">1</text>
<text class="t e" x="299.6" y="400.9">1.5</text>
<text class="t e" x="299.6" y="385.5">2</text>
<text class="t e" x="299.6" y="370.1">2.5</text>
<text class="t e" x="299.6" y="354.7">3</text>
<text class="t e" x="299.6" y="339.3">3.5</text>
<text class="t e" x="299.6" y="323.9">4</text>
<text class="t m" x="404.0" y="486.4">−2</text>
<text class="t m" x="377.7" y="484.6">−2</text>
<text class="t m" x="428.6" y="477.4">−1</text>
<text class="t m" x="358.8" y="473.1">−1</text>
<text class="t m" x="453.2" y="468.4">0</text>
<text class="t m" x="339.8" y="461.6">0</text>
<text class="t m" x="477.8" y="459.4">1</text>
<text class="t m" x="320.9" y="450.0">1</text>
<text class="t m" x="502.4" y="450.4">2</text>
<text class="t m" x="302.0" y="438.5">2</text>
<text class="l m" x="445.0" y="489.6">X (m)</text>
<text class="l m" x="342.0" y="487.4">Y (m)</text>
<text class="l m" style="font-size:8.7px" transform="translate(284.9 369.0) rotate(-90)">Received power (dB)</text>
<text class="tag" x="302.4" y="299.0">(d)</text>
</svg></body></html>
